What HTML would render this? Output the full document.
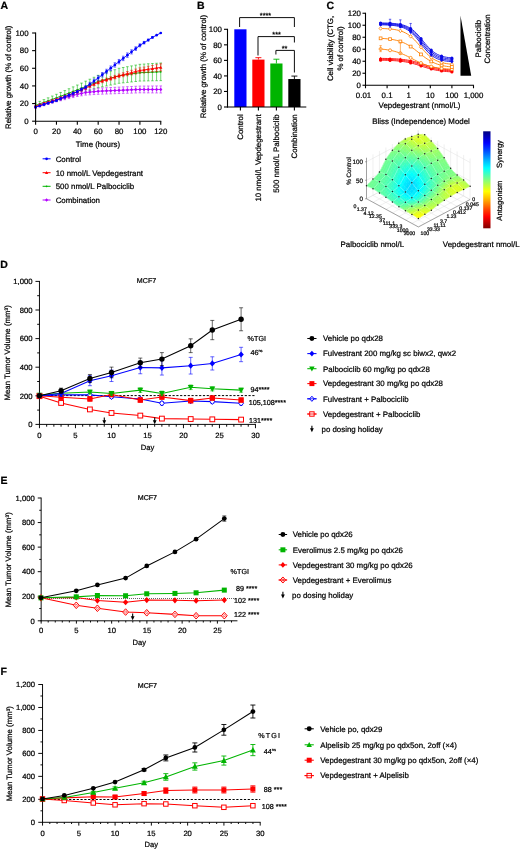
<!DOCTYPE html>
<html lang="en">
<head>
<meta charset="utf-8">
<title>Figure</title>
<style>
html,body{margin:0;padding:0;background:#fff;}
body{width:520px;height:849px;overflow:hidden;}
svg{display:block;font-family:"Liberation Sans", sans-serif;text-rendering:geometricPrecision;}
text{stroke:#000;stroke-width:0.22px;}
</style>
</head>
<body>
<svg width="520" height="849" viewBox="0 0 520 849">
<rect width="520" height="849" fill="#fff"/>
<text x="0.5" y="9.36" font-size="10.5" font-weight="bold">A</text>
<text x="197" y="9.36" font-size="10.5" font-weight="bold">B</text>
<text x="326.5" y="9.36" font-size="10.5" font-weight="bold">C</text>
<text x="0.3" y="268.06" font-size="10.5" font-weight="bold">D</text>
<text x="0.5" y="484.36" font-size="10.5" font-weight="bold">E</text>
<text x="0.5" y="674.76" font-size="10.5" font-weight="bold">F</text>
<line x1="35.6" y1="103.12" x2="35.6" y2="107.53" stroke="#00b400" stroke-width="0.55"/>
<line x1="34.3" y1="103.12" x2="36.9" y2="103.12" stroke="#00b400" stroke-width="0.55"/>
<line x1="34.3" y1="107.53" x2="36.9" y2="107.53" stroke="#00b400" stroke-width="0.55"/>
<line x1="39.77" y1="101.36" x2="39.77" y2="106.29" stroke="#00b400" stroke-width="0.55"/>
<line x1="38.47" y1="101.36" x2="41.07" y2="101.36" stroke="#00b400" stroke-width="0.55"/>
<line x1="38.47" y1="106.29" x2="41.07" y2="106.29" stroke="#00b400" stroke-width="0.55"/>
<line x1="43.94" y1="99.59" x2="43.94" y2="105.06" stroke="#00b400" stroke-width="0.55"/>
<line x1="42.64" y1="99.59" x2="45.24" y2="99.59" stroke="#00b400" stroke-width="0.55"/>
<line x1="42.64" y1="105.06" x2="45.24" y2="105.06" stroke="#00b400" stroke-width="0.55"/>
<line x1="48.12" y1="97.83" x2="48.12" y2="103.82" stroke="#00b400" stroke-width="0.55"/>
<line x1="46.82" y1="97.83" x2="49.42" y2="97.83" stroke="#00b400" stroke-width="0.55"/>
<line x1="46.82" y1="103.82" x2="49.42" y2="103.82" stroke="#00b400" stroke-width="0.55"/>
<line x1="52.29" y1="96.06" x2="52.29" y2="102.59" stroke="#00b400" stroke-width="0.55"/>
<line x1="50.99" y1="96.06" x2="53.59" y2="96.06" stroke="#00b400" stroke-width="0.55"/>
<line x1="50.99" y1="102.59" x2="53.59" y2="102.59" stroke="#00b400" stroke-width="0.55"/>
<line x1="56.46" y1="94.3" x2="56.46" y2="101.36" stroke="#00b400" stroke-width="0.55"/>
<line x1="55.16" y1="94.3" x2="57.76" y2="94.3" stroke="#00b400" stroke-width="0.55"/>
<line x1="55.16" y1="101.36" x2="57.76" y2="101.36" stroke="#00b400" stroke-width="0.55"/>
<line x1="60.63" y1="92.45" x2="60.63" y2="100.03" stroke="#00b400" stroke-width="0.55"/>
<line x1="59.33" y1="92.45" x2="61.93" y2="92.45" stroke="#00b400" stroke-width="0.55"/>
<line x1="59.33" y1="100.03" x2="61.93" y2="100.03" stroke="#00b400" stroke-width="0.55"/>
<line x1="64.8" y1="90.59" x2="64.8" y2="98.71" stroke="#00b400" stroke-width="0.55"/>
<line x1="63.5" y1="90.59" x2="66.1" y2="90.59" stroke="#00b400" stroke-width="0.55"/>
<line x1="63.5" y1="98.71" x2="66.1" y2="98.71" stroke="#00b400" stroke-width="0.55"/>
<line x1="68.98" y1="88.74" x2="68.98" y2="97.39" stroke="#00b400" stroke-width="0.55"/>
<line x1="67.68" y1="88.74" x2="70.28" y2="88.74" stroke="#00b400" stroke-width="0.55"/>
<line x1="67.68" y1="97.39" x2="70.28" y2="97.39" stroke="#00b400" stroke-width="0.55"/>
<line x1="73.15" y1="86.89" x2="73.15" y2="96.06" stroke="#00b400" stroke-width="0.55"/>
<line x1="71.85" y1="86.89" x2="74.45" y2="86.89" stroke="#00b400" stroke-width="0.55"/>
<line x1="71.85" y1="96.06" x2="74.45" y2="96.06" stroke="#00b400" stroke-width="0.55"/>
<line x1="77.32" y1="85.04" x2="77.32" y2="94.74" stroke="#00b400" stroke-width="0.55"/>
<line x1="76.02" y1="85.04" x2="78.62" y2="85.04" stroke="#00b400" stroke-width="0.55"/>
<line x1="76.02" y1="94.74" x2="78.62" y2="94.74" stroke="#00b400" stroke-width="0.55"/>
<line x1="81.49" y1="83.1" x2="81.49" y2="93.33" stroke="#00b400" stroke-width="0.55"/>
<line x1="80.19" y1="83.1" x2="82.79" y2="83.1" stroke="#00b400" stroke-width="0.55"/>
<line x1="80.19" y1="93.33" x2="82.79" y2="93.33" stroke="#00b400" stroke-width="0.55"/>
<line x1="85.66" y1="81.16" x2="85.66" y2="91.92" stroke="#00b400" stroke-width="0.55"/>
<line x1="84.36" y1="81.16" x2="86.96" y2="81.16" stroke="#00b400" stroke-width="0.55"/>
<line x1="84.36" y1="91.92" x2="86.96" y2="91.92" stroke="#00b400" stroke-width="0.55"/>
<line x1="89.84" y1="79.22" x2="89.84" y2="90.51" stroke="#00b400" stroke-width="0.55"/>
<line x1="88.54" y1="79.22" x2="91.14" y2="79.22" stroke="#00b400" stroke-width="0.55"/>
<line x1="88.54" y1="90.51" x2="91.14" y2="90.51" stroke="#00b400" stroke-width="0.55"/>
<line x1="94.01" y1="77.28" x2="94.01" y2="89.1" stroke="#00b400" stroke-width="0.55"/>
<line x1="92.71" y1="77.28" x2="95.31" y2="77.28" stroke="#00b400" stroke-width="0.55"/>
<line x1="92.71" y1="89.1" x2="95.31" y2="89.1" stroke="#00b400" stroke-width="0.55"/>
<line x1="98.18" y1="75.34" x2="98.18" y2="87.68" stroke="#00b400" stroke-width="0.55"/>
<line x1="96.88" y1="75.34" x2="99.48" y2="75.34" stroke="#00b400" stroke-width="0.55"/>
<line x1="96.88" y1="87.68" x2="99.48" y2="87.68" stroke="#00b400" stroke-width="0.55"/>
<line x1="102.35" y1="73.92" x2="102.35" y2="86.8" stroke="#00b400" stroke-width="0.55"/>
<line x1="101.05" y1="73.92" x2="103.65" y2="73.92" stroke="#00b400" stroke-width="0.55"/>
<line x1="101.05" y1="86.8" x2="103.65" y2="86.8" stroke="#00b400" stroke-width="0.55"/>
<line x1="106.52" y1="72.51" x2="106.52" y2="85.92" stroke="#00b400" stroke-width="0.55"/>
<line x1="105.22" y1="72.51" x2="107.82" y2="72.51" stroke="#00b400" stroke-width="0.55"/>
<line x1="105.22" y1="85.92" x2="107.82" y2="85.92" stroke="#00b400" stroke-width="0.55"/>
<line x1="110.7" y1="71.1" x2="110.7" y2="85.04" stroke="#00b400" stroke-width="0.55"/>
<line x1="109.4" y1="71.1" x2="112" y2="71.1" stroke="#00b400" stroke-width="0.55"/>
<line x1="109.4" y1="85.04" x2="112" y2="85.04" stroke="#00b400" stroke-width="0.55"/>
<line x1="114.87" y1="69.69" x2="114.87" y2="84.16" stroke="#00b400" stroke-width="0.55"/>
<line x1="113.57" y1="69.69" x2="116.17" y2="69.69" stroke="#00b400" stroke-width="0.55"/>
<line x1="113.57" y1="84.16" x2="116.17" y2="84.16" stroke="#00b400" stroke-width="0.55"/>
<line x1="119.04" y1="68.28" x2="119.04" y2="83.27" stroke="#00b400" stroke-width="0.55"/>
<line x1="117.74" y1="68.28" x2="120.34" y2="68.28" stroke="#00b400" stroke-width="0.55"/>
<line x1="117.74" y1="83.27" x2="120.34" y2="83.27" stroke="#00b400" stroke-width="0.55"/>
<line x1="123.21" y1="67.49" x2="123.21" y2="82.83" stroke="#00b400" stroke-width="0.55"/>
<line x1="121.91" y1="67.49" x2="124.51" y2="67.49" stroke="#00b400" stroke-width="0.55"/>
<line x1="121.91" y1="82.83" x2="124.51" y2="82.83" stroke="#00b400" stroke-width="0.55"/>
<line x1="127.38" y1="66.69" x2="127.38" y2="82.39" stroke="#00b400" stroke-width="0.55"/>
<line x1="126.08" y1="66.69" x2="128.68" y2="66.69" stroke="#00b400" stroke-width="0.55"/>
<line x1="126.08" y1="82.39" x2="128.68" y2="82.39" stroke="#00b400" stroke-width="0.55"/>
<line x1="131.56" y1="65.9" x2="131.56" y2="81.95" stroke="#00b400" stroke-width="0.55"/>
<line x1="130.26" y1="65.9" x2="132.86" y2="65.9" stroke="#00b400" stroke-width="0.55"/>
<line x1="130.26" y1="81.95" x2="132.86" y2="81.95" stroke="#00b400" stroke-width="0.55"/>
<line x1="135.73" y1="65.1" x2="135.73" y2="81.51" stroke="#00b400" stroke-width="0.55"/>
<line x1="134.43" y1="65.1" x2="137.03" y2="65.1" stroke="#00b400" stroke-width="0.55"/>
<line x1="134.43" y1="81.51" x2="137.03" y2="81.51" stroke="#00b400" stroke-width="0.55"/>
<line x1="139.9" y1="64.31" x2="139.9" y2="81.07" stroke="#00b400" stroke-width="0.55"/>
<line x1="138.6" y1="64.31" x2="141.2" y2="64.31" stroke="#00b400" stroke-width="0.55"/>
<line x1="138.6" y1="81.07" x2="141.2" y2="81.07" stroke="#00b400" stroke-width="0.55"/>
<line x1="144.07" y1="64.05" x2="144.07" y2="80.98" stroke="#00b400" stroke-width="0.55"/>
<line x1="142.77" y1="64.05" x2="145.37" y2="64.05" stroke="#00b400" stroke-width="0.55"/>
<line x1="142.77" y1="80.98" x2="145.37" y2="80.98" stroke="#00b400" stroke-width="0.55"/>
<line x1="148.24" y1="63.78" x2="148.24" y2="80.89" stroke="#00b400" stroke-width="0.55"/>
<line x1="146.94" y1="63.78" x2="149.54" y2="63.78" stroke="#00b400" stroke-width="0.55"/>
<line x1="146.94" y1="80.89" x2="149.54" y2="80.89" stroke="#00b400" stroke-width="0.55"/>
<line x1="152.42" y1="63.52" x2="152.42" y2="80.8" stroke="#00b400" stroke-width="0.55"/>
<line x1="151.12" y1="63.52" x2="153.72" y2="63.52" stroke="#00b400" stroke-width="0.55"/>
<line x1="151.12" y1="80.8" x2="153.72" y2="80.8" stroke="#00b400" stroke-width="0.55"/>
<line x1="156.59" y1="63.25" x2="156.59" y2="80.72" stroke="#00b400" stroke-width="0.55"/>
<line x1="155.29" y1="63.25" x2="157.89" y2="63.25" stroke="#00b400" stroke-width="0.55"/>
<line x1="155.29" y1="80.72" x2="157.89" y2="80.72" stroke="#00b400" stroke-width="0.55"/>
<line x1="160.76" y1="62.99" x2="160.76" y2="80.63" stroke="#00b400" stroke-width="0.55"/>
<line x1="159.46" y1="62.99" x2="162.06" y2="62.99" stroke="#00b400" stroke-width="0.55"/>
<line x1="159.46" y1="80.63" x2="162.06" y2="80.63" stroke="#00b400" stroke-width="0.55"/>
<polyline points="35.6,105.32 39.77,103.82 43.94,102.33 48.12,100.83 52.29,99.33 56.46,97.83 60.63,96.24 64.8,94.65 68.98,93.06 73.15,91.48 77.32,89.89 81.49,88.21 85.66,86.54 89.84,84.86 94.01,83.19 98.18,81.51 102.35,80.36 106.52,79.22 110.7,78.07 114.87,76.92 119.04,75.78 123.21,75.16 127.38,74.54 131.56,73.92 135.73,73.31 139.9,72.69 144.07,72.51 148.24,72.34 152.42,72.16 156.59,71.98 160.76,71.81" fill="none" stroke="#00b400" stroke-width="0.9"/>
<circle cx="35.6" cy="105.32" r="0.9" fill="#00b400" stroke="none" stroke-width="0"/>
<circle cx="39.77" cy="103.82" r="0.9" fill="#00b400" stroke="none" stroke-width="0"/>
<circle cx="43.94" cy="102.33" r="0.9" fill="#00b400" stroke="none" stroke-width="0"/>
<circle cx="48.12" cy="100.83" r="0.9" fill="#00b400" stroke="none" stroke-width="0"/>
<circle cx="52.29" cy="99.33" r="0.9" fill="#00b400" stroke="none" stroke-width="0"/>
<circle cx="56.46" cy="97.83" r="0.9" fill="#00b400" stroke="none" stroke-width="0"/>
<circle cx="60.63" cy="96.24" r="0.9" fill="#00b400" stroke="none" stroke-width="0"/>
<circle cx="64.8" cy="94.65" r="0.9" fill="#00b400" stroke="none" stroke-width="0"/>
<circle cx="68.98" cy="93.06" r="0.9" fill="#00b400" stroke="none" stroke-width="0"/>
<circle cx="73.15" cy="91.48" r="0.9" fill="#00b400" stroke="none" stroke-width="0"/>
<circle cx="77.32" cy="89.89" r="0.9" fill="#00b400" stroke="none" stroke-width="0"/>
<circle cx="81.49" cy="88.21" r="0.9" fill="#00b400" stroke="none" stroke-width="0"/>
<circle cx="85.66" cy="86.54" r="0.9" fill="#00b400" stroke="none" stroke-width="0"/>
<circle cx="89.84" cy="84.86" r="0.9" fill="#00b400" stroke="none" stroke-width="0"/>
<circle cx="94.01" cy="83.19" r="0.9" fill="#00b400" stroke="none" stroke-width="0"/>
<circle cx="98.18" cy="81.51" r="0.9" fill="#00b400" stroke="none" stroke-width="0"/>
<circle cx="102.35" cy="80.36" r="0.9" fill="#00b400" stroke="none" stroke-width="0"/>
<circle cx="106.52" cy="79.22" r="0.9" fill="#00b400" stroke="none" stroke-width="0"/>
<circle cx="110.7" cy="78.07" r="0.9" fill="#00b400" stroke="none" stroke-width="0"/>
<circle cx="114.87" cy="76.92" r="0.9" fill="#00b400" stroke="none" stroke-width="0"/>
<circle cx="119.04" cy="75.78" r="0.9" fill="#00b400" stroke="none" stroke-width="0"/>
<circle cx="123.21" cy="75.16" r="0.9" fill="#00b400" stroke="none" stroke-width="0"/>
<circle cx="127.38" cy="74.54" r="0.9" fill="#00b400" stroke="none" stroke-width="0"/>
<circle cx="131.56" cy="73.92" r="0.9" fill="#00b400" stroke="none" stroke-width="0"/>
<circle cx="135.73" cy="73.31" r="0.9" fill="#00b400" stroke="none" stroke-width="0"/>
<circle cx="139.9" cy="72.69" r="0.9" fill="#00b400" stroke="none" stroke-width="0"/>
<circle cx="144.07" cy="72.51" r="0.9" fill="#00b400" stroke="none" stroke-width="0"/>
<circle cx="148.24" cy="72.34" r="0.9" fill="#00b400" stroke="none" stroke-width="0"/>
<circle cx="152.42" cy="72.16" r="0.9" fill="#00b400" stroke="none" stroke-width="0"/>
<circle cx="156.59" cy="71.98" r="0.9" fill="#00b400" stroke="none" stroke-width="0"/>
<circle cx="160.76" cy="71.81" r="0.9" fill="#00b400" stroke="none" stroke-width="0"/>
<line x1="35.6" y1="105.77" x2="35.6" y2="108.41" stroke="#b400ff" stroke-width="0.55"/>
<line x1="34.3" y1="105.77" x2="36.9" y2="105.77" stroke="#b400ff" stroke-width="0.55"/>
<line x1="34.3" y1="108.41" x2="36.9" y2="108.41" stroke="#b400ff" stroke-width="0.55"/>
<line x1="39.77" y1="104.27" x2="39.77" y2="107.09" stroke="#b400ff" stroke-width="0.55"/>
<line x1="38.47" y1="104.27" x2="41.07" y2="104.27" stroke="#b400ff" stroke-width="0.55"/>
<line x1="38.47" y1="107.09" x2="41.07" y2="107.09" stroke="#b400ff" stroke-width="0.55"/>
<line x1="43.94" y1="102.77" x2="43.94" y2="105.77" stroke="#b400ff" stroke-width="0.55"/>
<line x1="42.64" y1="102.77" x2="45.24" y2="102.77" stroke="#b400ff" stroke-width="0.55"/>
<line x1="42.64" y1="105.77" x2="45.24" y2="105.77" stroke="#b400ff" stroke-width="0.55"/>
<line x1="48.12" y1="101.27" x2="48.12" y2="104.44" stroke="#b400ff" stroke-width="0.55"/>
<line x1="46.82" y1="101.27" x2="49.42" y2="101.27" stroke="#b400ff" stroke-width="0.55"/>
<line x1="46.82" y1="104.44" x2="49.42" y2="104.44" stroke="#b400ff" stroke-width="0.55"/>
<line x1="52.29" y1="99.77" x2="52.29" y2="103.12" stroke="#b400ff" stroke-width="0.55"/>
<line x1="50.99" y1="99.77" x2="53.59" y2="99.77" stroke="#b400ff" stroke-width="0.55"/>
<line x1="50.99" y1="103.12" x2="53.59" y2="103.12" stroke="#b400ff" stroke-width="0.55"/>
<line x1="56.46" y1="98.27" x2="56.46" y2="101.8" stroke="#b400ff" stroke-width="0.55"/>
<line x1="55.16" y1="98.27" x2="57.76" y2="98.27" stroke="#b400ff" stroke-width="0.55"/>
<line x1="55.16" y1="101.8" x2="57.76" y2="101.8" stroke="#b400ff" stroke-width="0.55"/>
<line x1="60.63" y1="97.03" x2="60.63" y2="100.74" stroke="#b400ff" stroke-width="0.55"/>
<line x1="59.33" y1="97.03" x2="61.93" y2="97.03" stroke="#b400ff" stroke-width="0.55"/>
<line x1="59.33" y1="100.74" x2="61.93" y2="100.74" stroke="#b400ff" stroke-width="0.55"/>
<line x1="64.8" y1="95.8" x2="64.8" y2="99.68" stroke="#b400ff" stroke-width="0.55"/>
<line x1="63.5" y1="95.8" x2="66.1" y2="95.8" stroke="#b400ff" stroke-width="0.55"/>
<line x1="63.5" y1="99.68" x2="66.1" y2="99.68" stroke="#b400ff" stroke-width="0.55"/>
<line x1="68.98" y1="94.56" x2="68.98" y2="98.62" stroke="#b400ff" stroke-width="0.55"/>
<line x1="67.68" y1="94.56" x2="70.28" y2="94.56" stroke="#b400ff" stroke-width="0.55"/>
<line x1="67.68" y1="98.62" x2="70.28" y2="98.62" stroke="#b400ff" stroke-width="0.55"/>
<line x1="73.15" y1="93.33" x2="73.15" y2="97.56" stroke="#b400ff" stroke-width="0.55"/>
<line x1="71.85" y1="93.33" x2="74.45" y2="93.33" stroke="#b400ff" stroke-width="0.55"/>
<line x1="71.85" y1="97.56" x2="74.45" y2="97.56" stroke="#b400ff" stroke-width="0.55"/>
<line x1="77.32" y1="92.09" x2="77.32" y2="96.5" stroke="#b400ff" stroke-width="0.55"/>
<line x1="76.02" y1="92.09" x2="78.62" y2="92.09" stroke="#b400ff" stroke-width="0.55"/>
<line x1="76.02" y1="96.5" x2="78.62" y2="96.5" stroke="#b400ff" stroke-width="0.55"/>
<line x1="81.49" y1="91.04" x2="81.49" y2="95.8" stroke="#b400ff" stroke-width="0.55"/>
<line x1="80.19" y1="91.04" x2="82.79" y2="91.04" stroke="#b400ff" stroke-width="0.55"/>
<line x1="80.19" y1="95.8" x2="82.79" y2="95.8" stroke="#b400ff" stroke-width="0.55"/>
<line x1="85.66" y1="89.98" x2="85.66" y2="95.09" stroke="#b400ff" stroke-width="0.55"/>
<line x1="84.36" y1="89.98" x2="86.96" y2="89.98" stroke="#b400ff" stroke-width="0.55"/>
<line x1="84.36" y1="95.09" x2="86.96" y2="95.09" stroke="#b400ff" stroke-width="0.55"/>
<line x1="89.84" y1="89.36" x2="89.84" y2="94.83" stroke="#b400ff" stroke-width="0.55"/>
<line x1="88.54" y1="89.36" x2="91.14" y2="89.36" stroke="#b400ff" stroke-width="0.55"/>
<line x1="88.54" y1="94.83" x2="91.14" y2="94.83" stroke="#b400ff" stroke-width="0.55"/>
<line x1="94.01" y1="88.74" x2="94.01" y2="94.56" stroke="#b400ff" stroke-width="0.55"/>
<line x1="92.71" y1="88.74" x2="95.31" y2="88.74" stroke="#b400ff" stroke-width="0.55"/>
<line x1="92.71" y1="94.56" x2="95.31" y2="94.56" stroke="#b400ff" stroke-width="0.55"/>
<line x1="98.18" y1="88.12" x2="98.18" y2="94.3" stroke="#b400ff" stroke-width="0.55"/>
<line x1="96.88" y1="88.12" x2="99.48" y2="88.12" stroke="#b400ff" stroke-width="0.55"/>
<line x1="96.88" y1="94.3" x2="99.48" y2="94.3" stroke="#b400ff" stroke-width="0.55"/>
<line x1="102.35" y1="87.92" x2="102.35" y2="94.15" stroke="#b400ff" stroke-width="0.55"/>
<line x1="101.05" y1="87.92" x2="103.65" y2="87.92" stroke="#b400ff" stroke-width="0.55"/>
<line x1="101.05" y1="94.15" x2="103.65" y2="94.15" stroke="#b400ff" stroke-width="0.55"/>
<line x1="106.52" y1="87.71" x2="106.52" y2="94" stroke="#b400ff" stroke-width="0.55"/>
<line x1="105.22" y1="87.71" x2="107.82" y2="87.71" stroke="#b400ff" stroke-width="0.55"/>
<line x1="105.22" y1="94" x2="107.82" y2="94" stroke="#b400ff" stroke-width="0.55"/>
<line x1="110.7" y1="87.51" x2="110.7" y2="93.86" stroke="#b400ff" stroke-width="0.55"/>
<line x1="109.4" y1="87.51" x2="112" y2="87.51" stroke="#b400ff" stroke-width="0.55"/>
<line x1="109.4" y1="93.86" x2="112" y2="93.86" stroke="#b400ff" stroke-width="0.55"/>
<line x1="114.87" y1="87.3" x2="114.87" y2="93.71" stroke="#b400ff" stroke-width="0.55"/>
<line x1="113.57" y1="87.3" x2="116.17" y2="87.3" stroke="#b400ff" stroke-width="0.55"/>
<line x1="113.57" y1="93.71" x2="116.17" y2="93.71" stroke="#b400ff" stroke-width="0.55"/>
<line x1="119.04" y1="87.1" x2="119.04" y2="93.56" stroke="#b400ff" stroke-width="0.55"/>
<line x1="117.74" y1="87.1" x2="120.34" y2="87.1" stroke="#b400ff" stroke-width="0.55"/>
<line x1="117.74" y1="93.56" x2="120.34" y2="93.56" stroke="#b400ff" stroke-width="0.55"/>
<line x1="123.21" y1="86.89" x2="123.21" y2="93.42" stroke="#b400ff" stroke-width="0.55"/>
<line x1="121.91" y1="86.89" x2="124.51" y2="86.89" stroke="#b400ff" stroke-width="0.55"/>
<line x1="121.91" y1="93.42" x2="124.51" y2="93.42" stroke="#b400ff" stroke-width="0.55"/>
<line x1="127.38" y1="86.68" x2="127.38" y2="93.27" stroke="#b400ff" stroke-width="0.55"/>
<line x1="126.08" y1="86.68" x2="128.68" y2="86.68" stroke="#b400ff" stroke-width="0.55"/>
<line x1="126.08" y1="93.27" x2="128.68" y2="93.27" stroke="#b400ff" stroke-width="0.55"/>
<line x1="131.56" y1="86.48" x2="131.56" y2="93.12" stroke="#b400ff" stroke-width="0.55"/>
<line x1="130.26" y1="86.48" x2="132.86" y2="86.48" stroke="#b400ff" stroke-width="0.55"/>
<line x1="130.26" y1="93.12" x2="132.86" y2="93.12" stroke="#b400ff" stroke-width="0.55"/>
<line x1="135.73" y1="86.27" x2="135.73" y2="92.98" stroke="#b400ff" stroke-width="0.55"/>
<line x1="134.43" y1="86.27" x2="137.03" y2="86.27" stroke="#b400ff" stroke-width="0.55"/>
<line x1="134.43" y1="92.98" x2="137.03" y2="92.98" stroke="#b400ff" stroke-width="0.55"/>
<line x1="139.9" y1="86.07" x2="139.9" y2="92.83" stroke="#b400ff" stroke-width="0.55"/>
<line x1="138.6" y1="86.07" x2="141.2" y2="86.07" stroke="#b400ff" stroke-width="0.55"/>
<line x1="138.6" y1="92.83" x2="141.2" y2="92.83" stroke="#b400ff" stroke-width="0.55"/>
<line x1="144.07" y1="86.04" x2="144.07" y2="92.86" stroke="#b400ff" stroke-width="0.55"/>
<line x1="142.77" y1="86.04" x2="145.37" y2="86.04" stroke="#b400ff" stroke-width="0.55"/>
<line x1="142.77" y1="92.86" x2="145.37" y2="92.86" stroke="#b400ff" stroke-width="0.55"/>
<line x1="148.24" y1="86.01" x2="148.24" y2="92.89" stroke="#b400ff" stroke-width="0.55"/>
<line x1="146.94" y1="86.01" x2="149.54" y2="86.01" stroke="#b400ff" stroke-width="0.55"/>
<line x1="146.94" y1="92.89" x2="149.54" y2="92.89" stroke="#b400ff" stroke-width="0.55"/>
<line x1="152.42" y1="85.98" x2="152.42" y2="92.92" stroke="#b400ff" stroke-width="0.55"/>
<line x1="151.12" y1="85.98" x2="153.72" y2="85.98" stroke="#b400ff" stroke-width="0.55"/>
<line x1="151.12" y1="92.92" x2="153.72" y2="92.92" stroke="#b400ff" stroke-width="0.55"/>
<line x1="156.59" y1="85.95" x2="156.59" y2="92.95" stroke="#b400ff" stroke-width="0.55"/>
<line x1="155.29" y1="85.95" x2="157.89" y2="85.95" stroke="#b400ff" stroke-width="0.55"/>
<line x1="155.29" y1="92.95" x2="157.89" y2="92.95" stroke="#b400ff" stroke-width="0.55"/>
<line x1="160.76" y1="85.92" x2="160.76" y2="92.98" stroke="#b400ff" stroke-width="0.55"/>
<line x1="159.46" y1="85.92" x2="162.06" y2="85.92" stroke="#b400ff" stroke-width="0.55"/>
<line x1="159.46" y1="92.98" x2="162.06" y2="92.98" stroke="#b400ff" stroke-width="0.55"/>
<polyline points="35.6,107.09 39.77,105.68 43.94,104.27 48.12,102.85 52.29,101.44 56.46,100.03 60.63,98.89 64.8,97.74 68.98,96.59 73.15,95.45 77.32,94.3 81.49,93.42 85.66,92.53 89.84,92.09 94.01,91.65 98.18,91.21 102.35,91.04 106.52,90.86 110.7,90.68 114.87,90.51 119.04,90.33 123.21,90.15 127.38,89.98 131.56,89.8 135.73,89.62 139.9,89.45 144.07,89.45 148.24,89.45 152.42,89.45 156.59,89.45 160.76,89.45" fill="none" stroke="#b400ff" stroke-width="0.9"/>
<polygon points="35.6,105.29 37.2,107.09 35.6,108.89 34,107.09" fill="#b400ff" stroke="none" stroke-width="0"/>
<polygon points="39.77,103.88 41.37,105.68 39.77,107.48 38.17,105.68" fill="#b400ff" stroke="none" stroke-width="0"/>
<polygon points="43.94,102.47 45.54,104.27 43.94,106.07 42.34,104.27" fill="#b400ff" stroke="none" stroke-width="0"/>
<polygon points="48.12,101.05 49.72,102.85 48.12,104.65 46.52,102.85" fill="#b400ff" stroke="none" stroke-width="0"/>
<polygon points="52.29,99.64 53.89,101.44 52.29,103.24 50.69,101.44" fill="#b400ff" stroke="none" stroke-width="0"/>
<polygon points="56.46,98.23 58.06,100.03 56.46,101.83 54.86,100.03" fill="#b400ff" stroke="none" stroke-width="0"/>
<polygon points="60.63,97.09 62.23,98.89 60.63,100.69 59.03,98.89" fill="#b400ff" stroke="none" stroke-width="0"/>
<polygon points="64.8,95.94 66.4,97.74 64.8,99.54 63.2,97.74" fill="#b400ff" stroke="none" stroke-width="0"/>
<polygon points="68.98,94.79 70.58,96.59 68.98,98.39 67.38,96.59" fill="#b400ff" stroke="none" stroke-width="0"/>
<polygon points="73.15,93.65 74.75,95.45 73.15,97.25 71.55,95.45" fill="#b400ff" stroke="none" stroke-width="0"/>
<polygon points="77.32,92.5 78.92,94.3 77.32,96.1 75.72,94.3" fill="#b400ff" stroke="none" stroke-width="0"/>
<polygon points="81.49,91.62 83.09,93.42 81.49,95.22 79.89,93.42" fill="#b400ff" stroke="none" stroke-width="0"/>
<polygon points="85.66,90.73 87.26,92.53 85.66,94.33 84.06,92.53" fill="#b400ff" stroke="none" stroke-width="0"/>
<polygon points="89.84,90.29 91.44,92.09 89.84,93.89 88.24,92.09" fill="#b400ff" stroke="none" stroke-width="0"/>
<polygon points="94.01,89.85 95.61,91.65 94.01,93.45 92.41,91.65" fill="#b400ff" stroke="none" stroke-width="0"/>
<polygon points="98.18,89.41 99.78,91.21 98.18,93.01 96.58,91.21" fill="#b400ff" stroke="none" stroke-width="0"/>
<polygon points="102.35,89.24 103.95,91.04 102.35,92.84 100.75,91.04" fill="#b400ff" stroke="none" stroke-width="0"/>
<polygon points="106.52,89.06 108.12,90.86 106.52,92.66 104.92,90.86" fill="#b400ff" stroke="none" stroke-width="0"/>
<polygon points="110.7,88.88 112.3,90.68 110.7,92.48 109.1,90.68" fill="#b400ff" stroke="none" stroke-width="0"/>
<polygon points="114.87,88.71 116.47,90.51 114.87,92.31 113.27,90.51" fill="#b400ff" stroke="none" stroke-width="0"/>
<polygon points="119.04,88.53 120.64,90.33 119.04,92.13 117.44,90.33" fill="#b400ff" stroke="none" stroke-width="0"/>
<polygon points="123.21,88.35 124.81,90.15 123.21,91.95 121.61,90.15" fill="#b400ff" stroke="none" stroke-width="0"/>
<polygon points="127.38,88.18 128.98,89.98 127.38,91.78 125.78,89.98" fill="#b400ff" stroke="none" stroke-width="0"/>
<polygon points="131.56,88 133.16,89.8 131.56,91.6 129.96,89.8" fill="#b400ff" stroke="none" stroke-width="0"/>
<polygon points="135.73,87.82 137.33,89.62 135.73,91.42 134.13,89.62" fill="#b400ff" stroke="none" stroke-width="0"/>
<polygon points="139.9,87.65 141.5,89.45 139.9,91.25 138.3,89.45" fill="#b400ff" stroke="none" stroke-width="0"/>
<polygon points="144.07,87.65 145.67,89.45 144.07,91.25 142.47,89.45" fill="#b400ff" stroke="none" stroke-width="0"/>
<polygon points="148.24,87.65 149.84,89.45 148.24,91.25 146.64,89.45" fill="#b400ff" stroke="none" stroke-width="0"/>
<polygon points="152.42,87.65 154.02,89.45 152.42,91.25 150.82,89.45" fill="#b400ff" stroke="none" stroke-width="0"/>
<polygon points="156.59,87.65 158.19,89.45 156.59,91.25 154.99,89.45" fill="#b400ff" stroke="none" stroke-width="0"/>
<polygon points="160.76,87.65 162.36,89.45 160.76,91.25 159.16,89.45" fill="#b400ff" stroke="none" stroke-width="0"/>
<line x1="35.6" y1="105.32" x2="35.6" y2="107.09" stroke="#ff0000" stroke-width="0.55"/>
<line x1="34.3" y1="105.32" x2="36.9" y2="105.32" stroke="#ff0000" stroke-width="0.55"/>
<line x1="34.3" y1="107.09" x2="36.9" y2="107.09" stroke="#ff0000" stroke-width="0.55"/>
<line x1="39.77" y1="103.96" x2="39.77" y2="105.81" stroke="#ff0000" stroke-width="0.55"/>
<line x1="38.47" y1="103.96" x2="41.07" y2="103.96" stroke="#ff0000" stroke-width="0.55"/>
<line x1="38.47" y1="105.81" x2="41.07" y2="105.81" stroke="#ff0000" stroke-width="0.55"/>
<line x1="43.94" y1="102.59" x2="43.94" y2="104.53" stroke="#ff0000" stroke-width="0.55"/>
<line x1="42.64" y1="102.59" x2="45.24" y2="102.59" stroke="#ff0000" stroke-width="0.55"/>
<line x1="42.64" y1="104.53" x2="45.24" y2="104.53" stroke="#ff0000" stroke-width="0.55"/>
<line x1="48.12" y1="101.22" x2="48.12" y2="103.25" stroke="#ff0000" stroke-width="0.55"/>
<line x1="46.82" y1="101.22" x2="49.42" y2="101.22" stroke="#ff0000" stroke-width="0.55"/>
<line x1="46.82" y1="103.25" x2="49.42" y2="103.25" stroke="#ff0000" stroke-width="0.55"/>
<line x1="52.29" y1="99.86" x2="52.29" y2="101.97" stroke="#ff0000" stroke-width="0.55"/>
<line x1="50.99" y1="99.86" x2="53.59" y2="99.86" stroke="#ff0000" stroke-width="0.55"/>
<line x1="50.99" y1="101.97" x2="53.59" y2="101.97" stroke="#ff0000" stroke-width="0.55"/>
<line x1="56.46" y1="98.49" x2="56.46" y2="100.69" stroke="#ff0000" stroke-width="0.55"/>
<line x1="55.16" y1="98.49" x2="57.76" y2="98.49" stroke="#ff0000" stroke-width="0.55"/>
<line x1="55.16" y1="100.69" x2="57.76" y2="100.69" stroke="#ff0000" stroke-width="0.55"/>
<line x1="60.63" y1="96.86" x2="60.63" y2="99.15" stroke="#ff0000" stroke-width="0.55"/>
<line x1="59.33" y1="96.86" x2="61.93" y2="96.86" stroke="#ff0000" stroke-width="0.55"/>
<line x1="59.33" y1="99.15" x2="61.93" y2="99.15" stroke="#ff0000" stroke-width="0.55"/>
<line x1="64.8" y1="95.23" x2="64.8" y2="97.61" stroke="#ff0000" stroke-width="0.55"/>
<line x1="63.5" y1="95.23" x2="66.1" y2="95.23" stroke="#ff0000" stroke-width="0.55"/>
<line x1="63.5" y1="97.61" x2="66.1" y2="97.61" stroke="#ff0000" stroke-width="0.55"/>
<line x1="68.98" y1="93.59" x2="68.98" y2="96.06" stroke="#ff0000" stroke-width="0.55"/>
<line x1="67.68" y1="93.59" x2="70.28" y2="93.59" stroke="#ff0000" stroke-width="0.55"/>
<line x1="67.68" y1="96.06" x2="70.28" y2="96.06" stroke="#ff0000" stroke-width="0.55"/>
<line x1="73.15" y1="91.96" x2="73.15" y2="94.52" stroke="#ff0000" stroke-width="0.55"/>
<line x1="71.85" y1="91.96" x2="74.45" y2="91.96" stroke="#ff0000" stroke-width="0.55"/>
<line x1="71.85" y1="94.52" x2="74.45" y2="94.52" stroke="#ff0000" stroke-width="0.55"/>
<line x1="77.32" y1="90.33" x2="77.32" y2="92.98" stroke="#ff0000" stroke-width="0.55"/>
<line x1="76.02" y1="90.33" x2="78.62" y2="90.33" stroke="#ff0000" stroke-width="0.55"/>
<line x1="76.02" y1="92.98" x2="78.62" y2="92.98" stroke="#ff0000" stroke-width="0.55"/>
<line x1="81.49" y1="88.43" x2="81.49" y2="91.17" stroke="#ff0000" stroke-width="0.55"/>
<line x1="80.19" y1="88.43" x2="82.79" y2="88.43" stroke="#ff0000" stroke-width="0.55"/>
<line x1="80.19" y1="91.17" x2="82.79" y2="91.17" stroke="#ff0000" stroke-width="0.55"/>
<line x1="85.66" y1="86.54" x2="85.66" y2="89.36" stroke="#ff0000" stroke-width="0.55"/>
<line x1="84.36" y1="86.54" x2="86.96" y2="86.54" stroke="#ff0000" stroke-width="0.55"/>
<line x1="84.36" y1="89.36" x2="86.96" y2="89.36" stroke="#ff0000" stroke-width="0.55"/>
<line x1="89.84" y1="84.64" x2="89.84" y2="87.55" stroke="#ff0000" stroke-width="0.55"/>
<line x1="88.54" y1="84.64" x2="91.14" y2="84.64" stroke="#ff0000" stroke-width="0.55"/>
<line x1="88.54" y1="87.55" x2="91.14" y2="87.55" stroke="#ff0000" stroke-width="0.55"/>
<line x1="94.01" y1="82.74" x2="94.01" y2="85.74" stroke="#ff0000" stroke-width="0.55"/>
<line x1="92.71" y1="82.74" x2="95.31" y2="82.74" stroke="#ff0000" stroke-width="0.55"/>
<line x1="92.71" y1="85.74" x2="95.31" y2="85.74" stroke="#ff0000" stroke-width="0.55"/>
<line x1="98.18" y1="80.85" x2="98.18" y2="83.94" stroke="#ff0000" stroke-width="0.55"/>
<line x1="96.88" y1="80.85" x2="99.48" y2="80.85" stroke="#ff0000" stroke-width="0.55"/>
<line x1="96.88" y1="83.94" x2="99.48" y2="83.94" stroke="#ff0000" stroke-width="0.55"/>
<line x1="102.35" y1="79.48" x2="102.35" y2="82.66" stroke="#ff0000" stroke-width="0.55"/>
<line x1="101.05" y1="79.48" x2="103.65" y2="79.48" stroke="#ff0000" stroke-width="0.55"/>
<line x1="101.05" y1="82.66" x2="103.65" y2="82.66" stroke="#ff0000" stroke-width="0.55"/>
<line x1="106.52" y1="78.11" x2="106.52" y2="81.38" stroke="#ff0000" stroke-width="0.55"/>
<line x1="105.22" y1="78.11" x2="107.82" y2="78.11" stroke="#ff0000" stroke-width="0.55"/>
<line x1="105.22" y1="81.38" x2="107.82" y2="81.38" stroke="#ff0000" stroke-width="0.55"/>
<line x1="110.7" y1="76.75" x2="110.7" y2="80.1" stroke="#ff0000" stroke-width="0.55"/>
<line x1="109.4" y1="76.75" x2="112" y2="76.75" stroke="#ff0000" stroke-width="0.55"/>
<line x1="109.4" y1="80.1" x2="112" y2="80.1" stroke="#ff0000" stroke-width="0.55"/>
<line x1="114.87" y1="75.38" x2="114.87" y2="78.82" stroke="#ff0000" stroke-width="0.55"/>
<line x1="113.57" y1="75.38" x2="116.17" y2="75.38" stroke="#ff0000" stroke-width="0.55"/>
<line x1="113.57" y1="78.82" x2="116.17" y2="78.82" stroke="#ff0000" stroke-width="0.55"/>
<line x1="119.04" y1="74.01" x2="119.04" y2="77.54" stroke="#ff0000" stroke-width="0.55"/>
<line x1="117.74" y1="74.01" x2="120.34" y2="74.01" stroke="#ff0000" stroke-width="0.55"/>
<line x1="117.74" y1="77.54" x2="120.34" y2="77.54" stroke="#ff0000" stroke-width="0.55"/>
<line x1="123.21" y1="72.78" x2="123.21" y2="76.66" stroke="#ff0000" stroke-width="0.55"/>
<line x1="121.91" y1="72.78" x2="124.51" y2="72.78" stroke="#ff0000" stroke-width="0.55"/>
<line x1="121.91" y1="76.66" x2="124.51" y2="76.66" stroke="#ff0000" stroke-width="0.55"/>
<line x1="127.38" y1="71.54" x2="127.38" y2="75.78" stroke="#ff0000" stroke-width="0.55"/>
<line x1="126.08" y1="71.54" x2="128.68" y2="71.54" stroke="#ff0000" stroke-width="0.55"/>
<line x1="126.08" y1="75.78" x2="128.68" y2="75.78" stroke="#ff0000" stroke-width="0.55"/>
<line x1="131.56" y1="70.31" x2="131.56" y2="74.9" stroke="#ff0000" stroke-width="0.55"/>
<line x1="130.26" y1="70.31" x2="132.86" y2="70.31" stroke="#ff0000" stroke-width="0.55"/>
<line x1="130.26" y1="74.9" x2="132.86" y2="74.9" stroke="#ff0000" stroke-width="0.55"/>
<line x1="135.73" y1="69.07" x2="135.73" y2="74.01" stroke="#ff0000" stroke-width="0.55"/>
<line x1="134.43" y1="69.07" x2="137.03" y2="69.07" stroke="#ff0000" stroke-width="0.55"/>
<line x1="134.43" y1="74.01" x2="137.03" y2="74.01" stroke="#ff0000" stroke-width="0.55"/>
<line x1="139.9" y1="67.84" x2="139.9" y2="73.13" stroke="#ff0000" stroke-width="0.55"/>
<line x1="138.6" y1="67.84" x2="141.2" y2="67.84" stroke="#ff0000" stroke-width="0.55"/>
<line x1="138.6" y1="73.13" x2="141.2" y2="73.13" stroke="#ff0000" stroke-width="0.55"/>
<line x1="144.07" y1="67.05" x2="144.07" y2="72.69" stroke="#ff0000" stroke-width="0.55"/>
<line x1="142.77" y1="67.05" x2="145.37" y2="67.05" stroke="#ff0000" stroke-width="0.55"/>
<line x1="142.77" y1="72.69" x2="145.37" y2="72.69" stroke="#ff0000" stroke-width="0.55"/>
<line x1="148.24" y1="66.25" x2="148.24" y2="72.25" stroke="#ff0000" stroke-width="0.55"/>
<line x1="146.94" y1="66.25" x2="149.54" y2="66.25" stroke="#ff0000" stroke-width="0.55"/>
<line x1="146.94" y1="72.25" x2="149.54" y2="72.25" stroke="#ff0000" stroke-width="0.55"/>
<line x1="152.42" y1="65.46" x2="152.42" y2="71.81" stroke="#ff0000" stroke-width="0.55"/>
<line x1="151.12" y1="65.46" x2="153.72" y2="65.46" stroke="#ff0000" stroke-width="0.55"/>
<line x1="151.12" y1="71.81" x2="153.72" y2="71.81" stroke="#ff0000" stroke-width="0.55"/>
<line x1="156.59" y1="64.66" x2="156.59" y2="71.37" stroke="#ff0000" stroke-width="0.55"/>
<line x1="155.29" y1="64.66" x2="157.89" y2="64.66" stroke="#ff0000" stroke-width="0.55"/>
<line x1="155.29" y1="71.37" x2="157.89" y2="71.37" stroke="#ff0000" stroke-width="0.55"/>
<line x1="160.76" y1="63.87" x2="160.76" y2="70.93" stroke="#ff0000" stroke-width="0.55"/>
<line x1="159.46" y1="63.87" x2="162.06" y2="63.87" stroke="#ff0000" stroke-width="0.55"/>
<line x1="159.46" y1="70.93" x2="162.06" y2="70.93" stroke="#ff0000" stroke-width="0.55"/>
<polyline points="35.6,106.21 39.77,104.88 43.94,103.56 48.12,102.24 52.29,100.91 56.46,99.59 60.63,98 64.8,96.42 68.98,94.83 73.15,93.24 77.32,91.65 81.49,89.8 85.66,87.95 89.84,86.1 94.01,84.24 98.18,82.39 102.35,81.07 106.52,79.75 110.7,78.42 114.87,77.1 119.04,75.78 123.21,74.72 127.38,73.66 131.56,72.6 135.73,71.54 139.9,70.48 144.07,69.87 148.24,69.25 152.42,68.63 156.59,68.02 160.76,67.4" fill="none" stroke="#ff0000" stroke-width="0.9"/>
<polygon points="35.6,104.51 37.22,107.48 33.98,107.48" fill="#ff0000" stroke="none" stroke-width="0"/>
<polygon points="39.77,103.18 41.39,106.16 38.16,106.16" fill="#ff0000" stroke="none" stroke-width="0"/>
<polygon points="43.94,101.86 45.56,104.84 42.33,104.84" fill="#ff0000" stroke="none" stroke-width="0"/>
<polygon points="48.12,100.54 49.73,103.51 46.5,103.51" fill="#ff0000" stroke="none" stroke-width="0"/>
<polygon points="52.29,99.21 53.9,102.19 50.67,102.19" fill="#ff0000" stroke="none" stroke-width="0"/>
<polygon points="56.46,97.89 58.08,100.87 54.84,100.87" fill="#ff0000" stroke="none" stroke-width="0"/>
<polygon points="60.63,96.3 62.25,99.28 59.02,99.28" fill="#ff0000" stroke="none" stroke-width="0"/>
<polygon points="64.8,94.72 66.42,97.69 63.19,97.69" fill="#ff0000" stroke="none" stroke-width="0"/>
<polygon points="68.98,93.13 70.59,96.1 67.36,96.1" fill="#ff0000" stroke="none" stroke-width="0"/>
<polygon points="73.15,91.54 74.76,94.52 71.53,94.52" fill="#ff0000" stroke="none" stroke-width="0"/>
<polygon points="77.32,89.95 78.93,92.93 75.7,92.93" fill="#ff0000" stroke="none" stroke-width="0"/>
<polygon points="81.49,88.1 83.11,91.08 79.88,91.08" fill="#ff0000" stroke="none" stroke-width="0"/>
<polygon points="85.66,86.25 87.28,89.22 84.05,89.22" fill="#ff0000" stroke="none" stroke-width="0"/>
<polygon points="89.84,84.4 91.45,87.37 88.22,87.37" fill="#ff0000" stroke="none" stroke-width="0"/>
<polygon points="94.01,82.54 95.62,85.52 92.39,85.52" fill="#ff0000" stroke="none" stroke-width="0"/>
<polygon points="98.18,80.69 99.8,83.67 96.57,83.67" fill="#ff0000" stroke="none" stroke-width="0"/>
<polygon points="102.35,79.37 103.97,82.34 100.74,82.34" fill="#ff0000" stroke="none" stroke-width="0"/>
<polygon points="106.52,78.05 108.14,81.02 104.91,81.02" fill="#ff0000" stroke="none" stroke-width="0"/>
<polygon points="110.7,76.72 112.31,79.7 109.08,79.7" fill="#ff0000" stroke="none" stroke-width="0"/>
<polygon points="114.87,75.4 116.48,78.38 113.25,78.38" fill="#ff0000" stroke="none" stroke-width="0"/>
<polygon points="119.04,74.08 120.65,77.05 117.42,77.05" fill="#ff0000" stroke="none" stroke-width="0"/>
<polygon points="123.21,73.02 124.83,75.99 121.6,75.99" fill="#ff0000" stroke="none" stroke-width="0"/>
<polygon points="127.38,71.96 129,74.94 125.77,74.94" fill="#ff0000" stroke="none" stroke-width="0"/>
<polygon points="131.56,70.9 133.17,73.88 129.94,73.88" fill="#ff0000" stroke="none" stroke-width="0"/>
<polygon points="135.73,69.84 137.34,72.82 134.11,72.82" fill="#ff0000" stroke="none" stroke-width="0"/>
<polygon points="139.9,68.78 141.52,71.76 138.28,71.76" fill="#ff0000" stroke="none" stroke-width="0"/>
<polygon points="144.07,68.17 145.69,71.14 142.46,71.14" fill="#ff0000" stroke="none" stroke-width="0"/>
<polygon points="148.24,67.55 149.86,70.53 146.63,70.53" fill="#ff0000" stroke="none" stroke-width="0"/>
<polygon points="152.42,66.93 154.03,69.91 150.8,69.91" fill="#ff0000" stroke="none" stroke-width="0"/>
<polygon points="156.59,66.32 158.2,69.29 154.97,69.29" fill="#ff0000" stroke="none" stroke-width="0"/>
<polygon points="160.76,65.7 162.38,68.67 159.14,68.67" fill="#ff0000" stroke="none" stroke-width="0"/>
<line x1="35.6" y1="106.38" x2="35.6" y2="107.79" stroke="#0000ff" stroke-width="0.55"/>
<line x1="34.3" y1="106.38" x2="36.9" y2="106.38" stroke="#0000ff" stroke-width="0.55"/>
<line x1="34.3" y1="107.79" x2="36.9" y2="107.79" stroke="#0000ff" stroke-width="0.55"/>
<line x1="39.77" y1="105" x2="39.77" y2="106.53" stroke="#0000ff" stroke-width="0.55"/>
<line x1="38.47" y1="105" x2="41.07" y2="105" stroke="#0000ff" stroke-width="0.55"/>
<line x1="38.47" y1="106.53" x2="41.07" y2="106.53" stroke="#0000ff" stroke-width="0.55"/>
<line x1="43.94" y1="103.61" x2="43.94" y2="105.27" stroke="#0000ff" stroke-width="0.55"/>
<line x1="42.64" y1="103.61" x2="45.24" y2="103.61" stroke="#0000ff" stroke-width="0.55"/>
<line x1="42.64" y1="105.27" x2="45.24" y2="105.27" stroke="#0000ff" stroke-width="0.55"/>
<line x1="48.12" y1="102.23" x2="48.12" y2="104.01" stroke="#0000ff" stroke-width="0.55"/>
<line x1="46.82" y1="102.23" x2="49.42" y2="102.23" stroke="#0000ff" stroke-width="0.55"/>
<line x1="46.82" y1="104.01" x2="49.42" y2="104.01" stroke="#0000ff" stroke-width="0.55"/>
<line x1="52.29" y1="100.84" x2="52.29" y2="102.75" stroke="#0000ff" stroke-width="0.55"/>
<line x1="50.99" y1="100.84" x2="53.59" y2="100.84" stroke="#0000ff" stroke-width="0.55"/>
<line x1="50.99" y1="102.75" x2="53.59" y2="102.75" stroke="#0000ff" stroke-width="0.55"/>
<line x1="56.46" y1="99.46" x2="56.46" y2="101.49" stroke="#0000ff" stroke-width="0.55"/>
<line x1="55.16" y1="99.46" x2="57.76" y2="99.46" stroke="#0000ff" stroke-width="0.55"/>
<line x1="55.16" y1="101.49" x2="57.76" y2="101.49" stroke="#0000ff" stroke-width="0.55"/>
<line x1="60.63" y1="97.63" x2="60.63" y2="99.79" stroke="#0000ff" stroke-width="0.55"/>
<line x1="59.33" y1="97.63" x2="61.93" y2="97.63" stroke="#0000ff" stroke-width="0.55"/>
<line x1="59.33" y1="99.79" x2="61.93" y2="99.79" stroke="#0000ff" stroke-width="0.55"/>
<line x1="64.8" y1="95.81" x2="64.8" y2="98.08" stroke="#0000ff" stroke-width="0.55"/>
<line x1="63.5" y1="95.81" x2="66.1" y2="95.81" stroke="#0000ff" stroke-width="0.55"/>
<line x1="63.5" y1="98.08" x2="66.1" y2="98.08" stroke="#0000ff" stroke-width="0.55"/>
<line x1="68.98" y1="93.98" x2="68.98" y2="96.38" stroke="#0000ff" stroke-width="0.55"/>
<line x1="67.68" y1="93.98" x2="70.28" y2="93.98" stroke="#0000ff" stroke-width="0.55"/>
<line x1="67.68" y1="96.38" x2="70.28" y2="96.38" stroke="#0000ff" stroke-width="0.55"/>
<line x1="73.15" y1="92.16" x2="73.15" y2="94.68" stroke="#0000ff" stroke-width="0.55"/>
<line x1="71.85" y1="92.16" x2="74.45" y2="92.16" stroke="#0000ff" stroke-width="0.55"/>
<line x1="71.85" y1="94.68" x2="74.45" y2="94.68" stroke="#0000ff" stroke-width="0.55"/>
<line x1="77.32" y1="90.33" x2="77.32" y2="92.98" stroke="#0000ff" stroke-width="0.55"/>
<line x1="76.02" y1="90.33" x2="78.62" y2="90.33" stroke="#0000ff" stroke-width="0.55"/>
<line x1="76.02" y1="92.98" x2="78.62" y2="92.98" stroke="#0000ff" stroke-width="0.55"/>
<line x1="81.49" y1="87.95" x2="81.49" y2="90.95" stroke="#0000ff" stroke-width="0.55"/>
<line x1="80.19" y1="87.95" x2="82.79" y2="87.95" stroke="#0000ff" stroke-width="0.55"/>
<line x1="80.19" y1="90.95" x2="82.79" y2="90.95" stroke="#0000ff" stroke-width="0.55"/>
<line x1="85.66" y1="85.57" x2="85.66" y2="88.92" stroke="#0000ff" stroke-width="0.55"/>
<line x1="84.36" y1="85.57" x2="86.96" y2="85.57" stroke="#0000ff" stroke-width="0.55"/>
<line x1="84.36" y1="88.92" x2="86.96" y2="88.92" stroke="#0000ff" stroke-width="0.55"/>
<line x1="89.84" y1="82.3" x2="89.84" y2="86.01" stroke="#0000ff" stroke-width="0.55"/>
<line x1="88.54" y1="82.3" x2="91.14" y2="82.3" stroke="#0000ff" stroke-width="0.55"/>
<line x1="88.54" y1="86.01" x2="91.14" y2="86.01" stroke="#0000ff" stroke-width="0.55"/>
<line x1="94.01" y1="79.04" x2="94.01" y2="83.1" stroke="#0000ff" stroke-width="0.55"/>
<line x1="92.71" y1="79.04" x2="95.31" y2="79.04" stroke="#0000ff" stroke-width="0.55"/>
<line x1="92.71" y1="83.1" x2="95.31" y2="83.1" stroke="#0000ff" stroke-width="0.55"/>
<line x1="98.18" y1="75.78" x2="98.18" y2="80.19" stroke="#0000ff" stroke-width="0.55"/>
<line x1="96.88" y1="75.78" x2="99.48" y2="75.78" stroke="#0000ff" stroke-width="0.55"/>
<line x1="96.88" y1="80.19" x2="99.48" y2="80.19" stroke="#0000ff" stroke-width="0.55"/>
<line x1="102.35" y1="72.51" x2="102.35" y2="76.92" stroke="#0000ff" stroke-width="0.55"/>
<line x1="101.05" y1="72.51" x2="103.65" y2="72.51" stroke="#0000ff" stroke-width="0.55"/>
<line x1="101.05" y1="76.92" x2="103.65" y2="76.92" stroke="#0000ff" stroke-width="0.55"/>
<line x1="106.52" y1="69.25" x2="106.52" y2="73.66" stroke="#0000ff" stroke-width="0.55"/>
<line x1="105.22" y1="69.25" x2="107.82" y2="69.25" stroke="#0000ff" stroke-width="0.55"/>
<line x1="105.22" y1="73.66" x2="107.82" y2="73.66" stroke="#0000ff" stroke-width="0.55"/>
<line x1="110.7" y1="65.99" x2="110.7" y2="70.4" stroke="#0000ff" stroke-width="0.55"/>
<line x1="109.4" y1="65.99" x2="112" y2="65.99" stroke="#0000ff" stroke-width="0.55"/>
<line x1="109.4" y1="70.4" x2="112" y2="70.4" stroke="#0000ff" stroke-width="0.55"/>
<line x1="114.87" y1="62.72" x2="114.87" y2="67.13" stroke="#0000ff" stroke-width="0.55"/>
<line x1="113.57" y1="62.72" x2="116.17" y2="62.72" stroke="#0000ff" stroke-width="0.55"/>
<line x1="113.57" y1="67.13" x2="116.17" y2="67.13" stroke="#0000ff" stroke-width="0.55"/>
<line x1="119.04" y1="59.46" x2="119.04" y2="63.87" stroke="#0000ff" stroke-width="0.55"/>
<line x1="117.74" y1="59.46" x2="120.34" y2="59.46" stroke="#0000ff" stroke-width="0.55"/>
<line x1="117.74" y1="63.87" x2="120.34" y2="63.87" stroke="#0000ff" stroke-width="0.55"/>
<line x1="123.21" y1="56.2" x2="123.21" y2="60.61" stroke="#0000ff" stroke-width="0.55"/>
<line x1="121.91" y1="56.2" x2="124.51" y2="56.2" stroke="#0000ff" stroke-width="0.55"/>
<line x1="121.91" y1="60.61" x2="124.51" y2="60.61" stroke="#0000ff" stroke-width="0.55"/>
<line x1="127.38" y1="52.93" x2="127.38" y2="57.34" stroke="#0000ff" stroke-width="0.55"/>
<line x1="126.08" y1="52.93" x2="128.68" y2="52.93" stroke="#0000ff" stroke-width="0.55"/>
<line x1="126.08" y1="57.34" x2="128.68" y2="57.34" stroke="#0000ff" stroke-width="0.55"/>
<line x1="131.56" y1="49.8" x2="131.56" y2="53.95" stroke="#0000ff" stroke-width="0.55"/>
<line x1="130.26" y1="49.8" x2="132.86" y2="49.8" stroke="#0000ff" stroke-width="0.55"/>
<line x1="130.26" y1="53.95" x2="132.86" y2="53.95" stroke="#0000ff" stroke-width="0.55"/>
<line x1="135.73" y1="46.8" x2="135.73" y2="50.42" stroke="#0000ff" stroke-width="0.55"/>
<line x1="134.43" y1="46.8" x2="137.03" y2="46.8" stroke="#0000ff" stroke-width="0.55"/>
<line x1="134.43" y1="50.42" x2="137.03" y2="50.42" stroke="#0000ff" stroke-width="0.55"/>
<line x1="139.9" y1="43.8" x2="139.9" y2="46.89" stroke="#0000ff" stroke-width="0.55"/>
<line x1="138.6" y1="43.8" x2="141.2" y2="43.8" stroke="#0000ff" stroke-width="0.55"/>
<line x1="138.6" y1="46.89" x2="141.2" y2="46.89" stroke="#0000ff" stroke-width="0.55"/>
<line x1="144.07" y1="41.42" x2="144.07" y2="43.98" stroke="#0000ff" stroke-width="0.55"/>
<line x1="142.77" y1="41.42" x2="145.37" y2="41.42" stroke="#0000ff" stroke-width="0.55"/>
<line x1="142.77" y1="43.98" x2="145.37" y2="43.98" stroke="#0000ff" stroke-width="0.55"/>
<line x1="148.24" y1="39.04" x2="148.24" y2="41.07" stroke="#0000ff" stroke-width="0.55"/>
<line x1="146.94" y1="39.04" x2="149.54" y2="39.04" stroke="#0000ff" stroke-width="0.55"/>
<line x1="146.94" y1="41.07" x2="149.54" y2="41.07" stroke="#0000ff" stroke-width="0.55"/>
<line x1="152.42" y1="36.65" x2="152.42" y2="38.17" stroke="#0000ff" stroke-width="0.55"/>
<line x1="151.12" y1="36.65" x2="153.72" y2="36.65" stroke="#0000ff" stroke-width="0.55"/>
<line x1="151.12" y1="38.17" x2="153.72" y2="38.17" stroke="#0000ff" stroke-width="0.55"/>
<polyline points="35.6,107.09 39.77,105.77 43.94,104.44 48.12,103.12 52.29,101.8 56.46,100.47 60.63,98.71 64.8,96.95 68.98,95.18 73.15,93.42 77.32,91.65 81.49,89.45 85.66,87.24 89.84,84.16 94.01,81.07 98.18,77.98 102.35,74.72 106.52,71.46 110.7,68.19 114.87,64.93 119.04,61.66 123.21,58.4 127.38,55.14 131.56,51.87 135.73,48.61 139.9,45.35 144.07,42.7 148.24,40.06 152.42,37.41 156.59,35.2 160.76,33" fill="none" stroke="#0000ff" stroke-width="0.9"/>
<circle cx="35.6" cy="107.09" r="1.35" fill="#0000ff" stroke="none" stroke-width="0"/>
<circle cx="39.77" cy="105.77" r="1.35" fill="#0000ff" stroke="none" stroke-width="0"/>
<circle cx="43.94" cy="104.44" r="1.35" fill="#0000ff" stroke="none" stroke-width="0"/>
<circle cx="48.12" cy="103.12" r="1.35" fill="#0000ff" stroke="none" stroke-width="0"/>
<circle cx="52.29" cy="101.8" r="1.35" fill="#0000ff" stroke="none" stroke-width="0"/>
<circle cx="56.46" cy="100.47" r="1.35" fill="#0000ff" stroke="none" stroke-width="0"/>
<circle cx="60.63" cy="98.71" r="1.35" fill="#0000ff" stroke="none" stroke-width="0"/>
<circle cx="64.8" cy="96.95" r="1.35" fill="#0000ff" stroke="none" stroke-width="0"/>
<circle cx="68.98" cy="95.18" r="1.35" fill="#0000ff" stroke="none" stroke-width="0"/>
<circle cx="73.15" cy="93.42" r="1.35" fill="#0000ff" stroke="none" stroke-width="0"/>
<circle cx="77.32" cy="91.65" r="1.35" fill="#0000ff" stroke="none" stroke-width="0"/>
<circle cx="81.49" cy="89.45" r="1.35" fill="#0000ff" stroke="none" stroke-width="0"/>
<circle cx="85.66" cy="87.24" r="1.35" fill="#0000ff" stroke="none" stroke-width="0"/>
<circle cx="89.84" cy="84.16" r="1.35" fill="#0000ff" stroke="none" stroke-width="0"/>
<circle cx="94.01" cy="81.07" r="1.35" fill="#0000ff" stroke="none" stroke-width="0"/>
<circle cx="98.18" cy="77.98" r="1.35" fill="#0000ff" stroke="none" stroke-width="0"/>
<circle cx="102.35" cy="74.72" r="1.35" fill="#0000ff" stroke="none" stroke-width="0"/>
<circle cx="106.52" cy="71.46" r="1.35" fill="#0000ff" stroke="none" stroke-width="0"/>
<circle cx="110.7" cy="68.19" r="1.35" fill="#0000ff" stroke="none" stroke-width="0"/>
<circle cx="114.87" cy="64.93" r="1.35" fill="#0000ff" stroke="none" stroke-width="0"/>
<circle cx="119.04" cy="61.66" r="1.35" fill="#0000ff" stroke="none" stroke-width="0"/>
<circle cx="123.21" cy="58.4" r="1.35" fill="#0000ff" stroke="none" stroke-width="0"/>
<circle cx="127.38" cy="55.14" r="1.35" fill="#0000ff" stroke="none" stroke-width="0"/>
<circle cx="131.56" cy="51.87" r="1.35" fill="#0000ff" stroke="none" stroke-width="0"/>
<circle cx="135.73" cy="48.61" r="1.35" fill="#0000ff" stroke="none" stroke-width="0"/>
<circle cx="139.9" cy="45.35" r="1.35" fill="#0000ff" stroke="none" stroke-width="0"/>
<circle cx="144.07" cy="42.7" r="1.35" fill="#0000ff" stroke="none" stroke-width="0"/>
<circle cx="148.24" cy="40.06" r="1.35" fill="#0000ff" stroke="none" stroke-width="0"/>
<circle cx="152.42" cy="37.41" r="1.35" fill="#0000ff" stroke="none" stroke-width="0"/>
<circle cx="156.59" cy="35.2" r="1.35" fill="#0000ff" stroke="none" stroke-width="0"/>
<circle cx="160.76" cy="33" r="1.35" fill="#0000ff" stroke="none" stroke-width="0"/>
<line x1="35.6" y1="32.5" x2="35.6" y2="121.7" stroke="#000" stroke-width="1.1"/>
<line x1="35.1" y1="121.2" x2="161.26" y2="121.2" stroke="#000" stroke-width="1.1"/>
<line x1="32.1" y1="121.2" x2="35.6" y2="121.2" stroke="#000" stroke-width="1.1"/>
<text x="28.6" y="124.02" font-size="7.88" text-anchor="end">0</text>
<line x1="32.1" y1="103.56" x2="35.6" y2="103.56" stroke="#000" stroke-width="1.1"/>
<text x="28.6" y="106.38" font-size="7.88" text-anchor="end">20</text>
<line x1="32.1" y1="85.92" x2="35.6" y2="85.92" stroke="#000" stroke-width="1.1"/>
<text x="28.6" y="88.74" font-size="7.88" text-anchor="end">40</text>
<line x1="32.1" y1="68.28" x2="35.6" y2="68.28" stroke="#000" stroke-width="1.1"/>
<text x="28.6" y="71.1" font-size="7.88" text-anchor="end">60</text>
<line x1="32.1" y1="50.64" x2="35.6" y2="50.64" stroke="#000" stroke-width="1.1"/>
<text x="28.6" y="53.46" font-size="7.88" text-anchor="end">80</text>
<line x1="32.1" y1="33" x2="35.6" y2="33" stroke="#000" stroke-width="1.1"/>
<text x="28.6" y="35.82" font-size="7.88" text-anchor="end">100</text>
<line x1="35.6" y1="121.2" x2="35.6" y2="124.7" stroke="#000" stroke-width="1.1"/>
<text x="35.6" y="134.42" font-size="7.88" text-anchor="middle">0</text>
<line x1="56.46" y1="121.2" x2="56.46" y2="124.7" stroke="#000" stroke-width="1.1"/>
<text x="56.46" y="134.42" font-size="7.88" text-anchor="middle">20</text>
<line x1="77.32" y1="121.2" x2="77.32" y2="124.7" stroke="#000" stroke-width="1.1"/>
<text x="77.32" y="134.42" font-size="7.88" text-anchor="middle">40</text>
<line x1="98.18" y1="121.2" x2="98.18" y2="124.7" stroke="#000" stroke-width="1.1"/>
<text x="98.18" y="134.42" font-size="7.88" text-anchor="middle">60</text>
<line x1="119.04" y1="121.2" x2="119.04" y2="124.7" stroke="#000" stroke-width="1.1"/>
<text x="119.04" y="134.42" font-size="7.88" text-anchor="middle">80</text>
<line x1="139.9" y1="121.2" x2="139.9" y2="124.7" stroke="#000" stroke-width="1.1"/>
<text x="139.9" y="134.42" font-size="7.88" text-anchor="middle">100</text>
<line x1="160.76" y1="121.2" x2="160.76" y2="124.7" stroke="#000" stroke-width="1.1"/>
<text x="160.76" y="134.42" font-size="7.88" text-anchor="middle">120</text>
<text x="98" y="146.92" font-size="7.88" text-anchor="middle">Time (hours)</text>
<text x="8.6" y="80.12" font-size="7.88" text-anchor="middle" transform="rotate(-90 8.6 77.3)">Relative growth (% of control)</text>
<line x1="42.6" y1="158.8" x2="50.6" y2="158.8" stroke="#0000ff" stroke-width="1"/>
<circle cx="46.6" cy="158.8" r="1.35" fill="#0000ff" stroke="none" stroke-width="0"/>
<text x="55.7" y="161.62" font-size="7.88">Control</text>
<line x1="42.6" y1="172.7" x2="50.6" y2="172.7" stroke="#ff0000" stroke-width="1"/>
<polygon points="46.6,171 48.22,173.97 44.98,173.97" fill="#ff0000" stroke="none" stroke-width="0"/>
<text x="55.7" y="175.52" font-size="7.88">10 nmol/L Vepdegestrant</text>
<line x1="42.6" y1="186.3" x2="50.6" y2="186.3" stroke="#00b400" stroke-width="1"/>
<circle cx="46.6" cy="186.3" r="0.9" fill="#00b400" stroke="none" stroke-width="0"/>
<text x="55.7" y="189.12" font-size="7.88">500 nmol/L Palbociclib</text>
<line x1="42.6" y1="200" x2="50.6" y2="200" stroke="#b400ff" stroke-width="1"/>
<polygon points="46.6,198.2 48.2,200 46.6,201.8 45,200" fill="#b400ff" stroke="none" stroke-width="0"/>
<text x="55.7" y="202.82" font-size="7.88">Combination</text>
<rect x="234.3" y="29.3" width="12.2" height="77.7" fill="#0000ff" stroke="none" stroke-width="0"/>
<line x1="258.4" y1="57.66" x2="258.4" y2="59.6" stroke="#ff0000" stroke-width="0.9"/>
<line x1="255.4" y1="57.66" x2="261.4" y2="57.66" stroke="#ff0000" stroke-width="0.9"/>
<rect x="252.3" y="59.6" width="12.2" height="47.4" fill="#ff0000" stroke="none" stroke-width="0"/>
<line x1="276.4" y1="59.21" x2="276.4" y2="63.49" stroke="#00b400" stroke-width="0.9"/>
<line x1="273.4" y1="59.21" x2="279.4" y2="59.21" stroke="#00b400" stroke-width="0.9"/>
<rect x="270.3" y="63.49" width="12.2" height="43.51" fill="#00b400" stroke="none" stroke-width="0"/>
<line x1="294.4" y1="76.08" x2="294.4" y2="79.03" stroke="#000" stroke-width="0.9"/>
<line x1="291.4" y1="76.08" x2="297.4" y2="76.08" stroke="#000" stroke-width="0.9"/>
<rect x="288.3" y="79.03" width="12.2" height="27.97" fill="#000" stroke="none" stroke-width="0"/>
<line x1="227.5" y1="28.8" x2="227.5" y2="107.5" stroke="#000" stroke-width="1.1"/>
<line x1="227" y1="107" x2="306.3" y2="107" stroke="#000" stroke-width="1.1"/>
<line x1="224" y1="107" x2="227.5" y2="107" stroke="#000" stroke-width="1.1"/>
<text x="222" y="109.82" font-size="7.88" text-anchor="end">0</text>
<line x1="224" y1="91.46" x2="227.5" y2="91.46" stroke="#000" stroke-width="1.1"/>
<text x="222" y="94.28" font-size="7.88" text-anchor="end">20</text>
<line x1="224" y1="75.92" x2="227.5" y2="75.92" stroke="#000" stroke-width="1.1"/>
<text x="222" y="78.74" font-size="7.88" text-anchor="end">40</text>
<line x1="224" y1="60.38" x2="227.5" y2="60.38" stroke="#000" stroke-width="1.1"/>
<text x="222" y="63.2" font-size="7.88" text-anchor="end">60</text>
<line x1="224" y1="44.84" x2="227.5" y2="44.84" stroke="#000" stroke-width="1.1"/>
<text x="222" y="47.66" font-size="7.88" text-anchor="end">80</text>
<line x1="224" y1="29.3" x2="227.5" y2="29.3" stroke="#000" stroke-width="1.1"/>
<text x="222" y="32.12" font-size="7.88" text-anchor="end">100</text>
<line x1="240.4" y1="107" x2="240.4" y2="110.5" stroke="#000" stroke-width="1.1"/>
<text x="240.4" y="117.12" font-size="7.88" text-anchor="end" transform="rotate(-90 240.4 114.3)">Control</text>
<line x1="258.4" y1="107" x2="258.4" y2="110.5" stroke="#000" stroke-width="1.1"/>
<text x="258.4" y="117.12" font-size="7.88" text-anchor="end" transform="rotate(-90 258.4 114.3)">10 nmol/L Vepdegestrant</text>
<line x1="276.4" y1="107" x2="276.4" y2="110.5" stroke="#000" stroke-width="1.1"/>
<text x="276.4" y="117.12" font-size="7.88" text-anchor="end" transform="rotate(-90 276.4 114.3)">500 nmol/L Palbociclib</text>
<line x1="294.4" y1="107" x2="294.4" y2="110.5" stroke="#000" stroke-width="1.1"/>
<text x="294.4" y="117.12" font-size="7.88" text-anchor="end" transform="rotate(-90 294.4 114.3)">Combination</text>
<text x="202.7" y="69.32" font-size="7.88" text-anchor="middle" transform="rotate(-90 202.7 66.5)">Relative growth (% of control)</text>
<polyline points="239.6,27 239.6,17.6 294.4,17.6 294.4,27" fill="none" stroke="#000" stroke-width="0.95"/>
<polyline points="258,55.5 258,36.6 294.4,36.6 294.4,42.5" fill="none" stroke="#000" stroke-width="0.95"/>
<polyline points="275.9,54.5 275.9,50.4 294.4,50.4 294.4,72.5" fill="none" stroke="#000" stroke-width="0.95"/>
<text x="265.5" y="17.7" font-size="7.3" text-anchor="middle">****</text>
<text x="276.6" y="36.9" font-size="7.3" text-anchor="middle">***</text>
<text x="284.6" y="50.7" font-size="7.3" text-anchor="middle">**</text>
<polyline points="380.6,60.2 382.38,60.23 384.16,60.27 385.95,60.32 387.73,60.37 389.51,60.44 391.29,60.51 393.08,60.61 394.86,60.72 396.64,60.85 398.42,61 400.21,61.18 401.99,61.39 403.77,61.63 405.55,61.92 407.34,62.24 409.12,62.6 410.9,63 412.68,63.45 414.47,63.94 416.25,64.46 418.03,65.01 419.81,65.58 421.6,66.16 423.38,66.75 425.16,67.32 426.94,67.87 428.73,68.4 430.51,68.89 432.29,69.34 434.07,69.75 435.86,70.12 437.64,70.45 439.42,70.73 441.2,70.98 442.99,71.2 444.77,71.38 446.55,71.54 448.33,71.67 450.12,71.78 451.9,71.88" fill="none" stroke="#ff0000" stroke-width="0.9"/>
<circle cx="380.6" cy="60.2" r="1.5" fill="#ff0000" stroke="none" stroke-width="0"/>
<circle cx="390.05" cy="60.46" r="1.5" fill="#ff0000" stroke="none" stroke-width="0"/>
<circle cx="400.38" cy="61.2" r="1.5" fill="#ff0000" stroke="none" stroke-width="0"/>
<circle cx="410.64" cy="62.94" r="1.5" fill="#ff0000" stroke="none" stroke-width="0"/>
<circle cx="420.97" cy="65.96" r="1.5" fill="#ff0000" stroke="none" stroke-width="0"/>
<circle cx="431.28" cy="69.09" r="1.5" fill="#ff0000" stroke="none" stroke-width="0"/>
<circle cx="441.58" cy="71.03" r="1.5" fill="#ff0000" stroke="none" stroke-width="0"/>
<circle cx="451.9" cy="71.88" r="1.5" fill="#ff0000" stroke="none" stroke-width="0"/>
<polyline points="380.6,59.29 382.38,59.31 384.16,59.35 385.95,59.39 387.73,59.44 389.51,59.49 391.29,59.56 393.08,59.65 394.86,59.74 396.64,59.86 398.42,60 400.21,60.16 401.99,60.36 403.77,60.58 405.55,60.84 407.34,61.13 409.12,61.47 410.9,61.85 412.68,62.27 414.47,62.73 416.25,63.23 418.03,63.77 419.81,64.33 421.6,64.9 423.38,65.49 425.16,66.07 426.94,66.63 428.73,67.18 430.51,67.69 432.29,68.17 434.07,68.6 435.86,69 437.64,69.35 439.42,69.66 441.2,69.93 442.99,70.17 444.77,70.37 446.55,70.54 448.33,70.69 450.12,70.82 451.9,70.92" fill="none" stroke="#ff0000" stroke-width="0.9"/>
<rect x="379.2" y="57.89" width="2.8" height="2.8" fill="#ff0000" stroke="none" stroke-width="0"/>
<rect x="388.65" y="58.11" width="2.8" height="2.8" fill="#ff0000" stroke="none" stroke-width="0"/>
<rect x="398.98" y="58.78" width="2.8" height="2.8" fill="#ff0000" stroke="none" stroke-width="0"/>
<rect x="409.24" y="60.39" width="2.8" height="2.8" fill="#ff0000" stroke="none" stroke-width="0"/>
<rect x="419.57" y="63.3" width="2.8" height="2.8" fill="#ff0000" stroke="none" stroke-width="0"/>
<rect x="429.88" y="66.5" width="2.8" height="2.8" fill="#ff0000" stroke="none" stroke-width="0"/>
<rect x="440.18" y="68.59" width="2.8" height="2.8" fill="#ff0000" stroke="none" stroke-width="0"/>
<rect x="450.5" y="69.52" width="2.8" height="2.8" fill="#ff0000" stroke="none" stroke-width="0"/>
<polyline points="380.6,58.37 382.38,58.4 384.16,58.43 385.95,58.46 387.73,58.51 389.51,58.56 391.29,58.62 393.08,58.7 394.86,58.79 396.64,58.89 398.42,59.02 400.21,59.17 401.99,59.35 403.77,59.55 405.55,59.79 407.34,60.06 409.12,60.38 410.9,60.73 412.68,61.13 414.47,61.57 416.25,62.05 418.03,62.57 419.81,63.11 421.6,63.68 423.38,64.26 425.16,64.85 426.94,65.42 428.73,65.98 430.51,66.51 432.29,67.01 434.07,67.47 435.86,67.89 437.64,68.26 439.42,68.59 441.2,68.89 442.99,69.14 444.77,69.36 446.55,69.55 448.33,69.71 450.12,69.85 451.9,69.96" fill="none" stroke="#ff0000" stroke-width="0.9"/>
<polygon points="380.6,56.67 382.21,59.65 378.98,59.65" fill="#ff0000" stroke="none" stroke-width="0"/>
<polygon points="390.05,56.88 391.67,59.85 388.44,59.85" fill="#ff0000" stroke="none" stroke-width="0"/>
<polygon points="400.38,57.49 402,60.46 398.77,60.46" fill="#ff0000" stroke="none" stroke-width="0"/>
<polygon points="410.64,58.98 412.26,61.95 409.03,61.95" fill="#ff0000" stroke="none" stroke-width="0"/>
<polygon points="420.97,61.78 422.59,64.76 419.36,64.76" fill="#ff0000" stroke="none" stroke-width="0"/>
<polygon points="431.28,65.03 432.89,68.01 429.66,68.01" fill="#ff0000" stroke="none" stroke-width="0"/>
<polygon points="441.58,67.24 443.2,70.22 439.97,70.22" fill="#ff0000" stroke="none" stroke-width="0"/>
<polygon points="451.9,68.26 453.51,71.24 450.28,71.24" fill="#ff0000" stroke="none" stroke-width="0"/>
<polyline points="380.6,49.02 382.38,49.19 384.16,49.39 385.95,49.62 387.73,49.88 389.51,50.19 391.29,50.55 393.08,50.95 394.86,51.41 396.64,51.92 398.42,52.49 400.21,53.13 401.99,53.82 403.77,54.57 405.55,55.38 407.34,56.23 409.12,57.11 410.9,58.02 412.68,58.94 414.47,59.86 416.25,60.77 418.03,61.65 419.81,62.49 421.6,63.28 423.38,64.02 425.16,64.71 426.94,65.33 428.73,65.89 430.51,66.39 432.29,66.84 434.07,67.23 435.86,67.57 437.64,67.87 439.42,68.13 441.2,68.36 442.99,68.55 444.77,68.72 446.55,68.86 448.33,68.98 450.12,69.08 451.9,69.17" fill="none" stroke="#ff7f00" stroke-width="0.9"/>
<circle cx="380.6" cy="49.02" r="1.5" fill="#fff" stroke="#ff7f00" stroke-width="0.8"/>
<circle cx="390.05" cy="50.3" r="1.5" fill="#fff" stroke="#ff7f00" stroke-width="0.8"/>
<circle cx="400.38" cy="53.19" r="1.5" fill="#fff" stroke="#ff7f00" stroke-width="0.8"/>
<circle cx="410.64" cy="57.89" r="1.5" fill="#fff" stroke="#ff7f00" stroke-width="0.8"/>
<circle cx="420.97" cy="63.01" r="1.5" fill="#fff" stroke="#ff7f00" stroke-width="0.8"/>
<circle cx="431.28" cy="66.59" r="1.5" fill="#fff" stroke="#ff7f00" stroke-width="0.8"/>
<circle cx="441.58" cy="68.4" r="1.5" fill="#fff" stroke="#ff7f00" stroke-width="0.8"/>
<circle cx="451.9" cy="69.17" r="1.5" fill="#fff" stroke="#ff7f00" stroke-width="0.8"/>
<polyline points="380.6,38.34 382.38,38.44 384.16,38.56 385.95,38.71 387.73,38.88 389.51,39.09 391.29,39.34 393.08,39.63 394.86,39.97 396.64,40.38 398.42,40.86 400.21,41.41 401.99,42.05 403.77,42.79 405.55,43.62 407.34,44.56 409.12,45.6 410.9,46.75 412.68,47.98 414.47,49.29 416.25,50.66 418.03,52.07 419.81,53.5 421.6,54.91 423.38,56.28 425.16,57.6 426.94,58.84 428.73,59.99 430.51,61.05 432.29,61.99 434.07,62.84 435.86,63.58 437.64,64.23 439.42,64.79 441.2,65.28 442.99,65.69 444.77,66.04 446.55,66.34 448.33,66.59 450.12,66.8 451.9,66.98" fill="none" stroke="#ff7f00" stroke-width="0.9"/>
<rect x="379.2" y="36.94" width="2.8" height="2.8" fill="#fff" stroke="#ff7f00" stroke-width="0.8"/>
<rect x="388.65" y="37.76" width="2.8" height="2.8" fill="#fff" stroke="#ff7f00" stroke-width="0.8"/>
<rect x="398.98" y="40.07" width="2.8" height="2.8" fill="#fff" stroke="#ff7f00" stroke-width="0.8"/>
<rect x="409.24" y="45.17" width="2.8" height="2.8" fill="#fff" stroke="#ff7f00" stroke-width="0.8"/>
<rect x="419.57" y="53.02" width="2.8" height="2.8" fill="#fff" stroke="#ff7f00" stroke-width="0.8"/>
<rect x="429.88" y="60.07" width="2.8" height="2.8" fill="#fff" stroke="#ff7f00" stroke-width="0.8"/>
<rect x="440.18" y="63.97" width="2.8" height="2.8" fill="#fff" stroke="#ff7f00" stroke-width="0.8"/>
<rect x="450.5" y="65.58" width="2.8" height="2.8" fill="#fff" stroke="#ff7f00" stroke-width="0.8"/>
<polyline points="380.6,28.47 382.38,28.53 384.16,28.6 385.95,28.69 387.73,28.8 389.51,28.94 391.29,29.11 393.08,29.32 394.86,29.58 396.64,29.91 398.42,30.31 400.21,30.8 401.99,31.4 403.77,32.12 405.55,32.99 407.34,34.01 409.12,35.21 410.9,36.58 412.68,38.14 414.47,39.87 416.25,41.75 418.03,43.74 419.81,45.8 421.6,47.89 423.38,49.94 425.16,51.9 426.94,53.74 428.73,55.42 430.51,56.93 432.29,58.25 434.07,59.4 435.86,60.37 437.64,61.19 439.42,61.88 441.2,62.45 442.99,62.91 444.77,63.29 446.55,63.6 448.33,63.84 450.12,64.05 451.9,64.21" fill="none" stroke="#ff7f00" stroke-width="0.9"/>
<polygon points="380.6,26.67 382.13,28.47 380.6,30.27 379.07,28.47" fill="#fff" stroke="#ff7f00" stroke-width="0.8"/>
<polygon points="390.05,27.18 391.58,28.98 390.05,30.78 388.52,28.98" fill="#fff" stroke="#ff7f00" stroke-width="0.8"/>
<polygon points="400.38,29.06 401.91,30.86 400.38,32.66 398.85,30.86" fill="#fff" stroke="#ff7f00" stroke-width="0.8"/>
<polygon points="410.64,34.57 412.17,36.37 410.64,38.17 409.11,36.37" fill="#fff" stroke="#ff7f00" stroke-width="0.8"/>
<polygon points="420.97,45.36 422.5,47.16 420.97,48.96 419.44,47.16" fill="#fff" stroke="#ff7f00" stroke-width="0.8"/>
<polygon points="431.28,55.72 432.81,57.52 431.28,59.32 429.75,57.52" fill="#fff" stroke="#ff7f00" stroke-width="0.8"/>
<polygon points="441.58,60.75 443.11,62.55 441.58,64.35 440.05,62.55" fill="#fff" stroke="#ff7f00" stroke-width="0.8"/>
<polygon points="451.9,62.41 453.43,64.21 451.9,66.01 450.37,64.21" fill="#fff" stroke="#ff7f00" stroke-width="0.8"/>
<polyline points="380.6,24.79 382.38,24.83 384.16,24.89 385.95,24.95 387.73,25.03 389.51,25.14 391.29,25.28 393.08,25.45 394.86,25.66 396.64,25.94 398.42,26.28 400.21,26.72 401.99,27.25 403.77,27.92 405.55,28.74 407.34,29.73 409.12,30.91 410.9,32.31 412.68,33.92 414.47,35.75 416.25,37.77 418.03,39.95 419.81,42.23 421.6,44.54 423.38,46.82 425.16,49 426.94,51.02 428.73,52.86 430.51,54.47 432.29,55.87 434.07,57.06 435.86,58.05 437.64,58.87 439.42,59.54 441.2,60.08 442.99,60.51 444.77,60.86 446.55,61.13 448.33,61.35 450.12,61.52 451.9,61.66" fill="none" stroke="#0a0ae6" stroke-width="0.9"/>
<polygon points="380.6,22.99 382.13,24.79 380.6,26.59 379.07,24.79" fill="#0a0ae6" stroke="none" stroke-width="0"/>
<polygon points="390.05,23.38 391.58,25.18 390.05,26.98 388.52,25.18" fill="#0a0ae6" stroke="none" stroke-width="0"/>
<polygon points="400.38,24.96 401.91,26.76 400.38,28.56 398.85,26.76" fill="#0a0ae6" stroke="none" stroke-width="0"/>
<polygon points="410.64,30.29 412.17,32.09 410.64,33.89 409.11,32.09" fill="#0a0ae6" stroke="none" stroke-width="0"/>
<polygon points="420.97,41.93 422.5,43.73 420.97,45.53 419.44,43.73" fill="#0a0ae6" stroke="none" stroke-width="0"/>
<polygon points="431.28,53.3 432.81,55.1 431.28,56.9 429.75,55.1" fill="#0a0ae6" stroke="none" stroke-width="0"/>
<polygon points="441.58,58.38 443.11,60.18 441.58,61.98 440.05,60.18" fill="#0a0ae6" stroke="none" stroke-width="0"/>
<polygon points="451.9,59.86 453.43,61.66 451.9,63.46 450.37,61.66" fill="#0a0ae6" stroke="none" stroke-width="0"/>
<polyline points="380.6,24.18 382.38,24.21 384.16,24.26 385.95,24.32 387.73,24.39 389.51,24.49 391.29,24.61 393.08,24.76 394.86,24.95 396.64,25.2 398.42,25.5 400.21,25.89 401.99,26.38 403.77,26.97 405.55,27.71 407.34,28.61 409.12,29.7 410.9,30.98 412.68,32.48 414.47,34.19 416.25,36.11 418.03,38.19 419.81,40.4 421.6,42.67 423.38,44.93 425.16,47.12 426.94,49.18 428.73,51.07 430.51,52.75 432.29,54.22 434.07,55.47 435.86,56.53 437.64,57.4 439.42,58.12 441.2,58.7 442.99,59.17 444.77,59.54 446.55,59.84 448.33,60.08 450.12,60.27 451.9,60.41" fill="none" stroke="#0a0ae6" stroke-width="0.9"/>
<polygon points="380.6,22.48 382.21,25.45 378.98,25.45" fill="#0a0ae6" stroke="none" stroke-width="0"/>
<polygon points="390.05,22.82 391.67,25.79 388.44,25.79" fill="#0a0ae6" stroke="none" stroke-width="0"/>
<polygon points="400.38,24.23 402,27.21 398.77,27.21" fill="#0a0ae6" stroke="none" stroke-width="0"/>
<polygon points="410.64,29.08 412.26,32.06 409.03,32.06" fill="#0a0ae6" stroke="none" stroke-width="0"/>
<polygon points="420.97,40.17 422.59,43.14 419.36,43.14" fill="#0a0ae6" stroke="none" stroke-width="0"/>
<polygon points="431.28,51.71 432.89,54.69 429.66,54.69" fill="#0a0ae6" stroke="none" stroke-width="0"/>
<polygon points="441.58,57.11 443.2,60.09 439.97,60.09" fill="#0a0ae6" stroke="none" stroke-width="0"/>
<polygon points="451.9,58.71 453.51,61.69 450.28,61.69" fill="#0a0ae6" stroke="none" stroke-width="0"/>
<polyline points="380.6,23.56 382.38,23.6 384.16,23.64 385.95,23.69 387.73,23.75 389.51,23.84 391.29,23.95 393.08,24.08 394.86,24.26 396.64,24.48 398.42,24.75 400.21,25.1 401.99,25.54 403.77,26.08 405.55,26.75 407.34,27.57 409.12,28.57 410.9,29.75 412.68,31.14 414.47,32.75 416.25,34.55 418.03,36.54 419.81,38.67 421.6,40.89 423.38,43.13 425.16,45.32 426.94,47.4 428.73,49.33 430.51,51.06 432.29,52.59 434.07,53.91 435.86,55.02 437.64,55.95 439.42,56.71 441.2,57.33 442.99,57.83 444.77,58.23 446.55,58.55 448.33,58.81 450.12,59.01 451.9,59.17" fill="none" stroke="#0a0ae6" stroke-width="0.9"/>
<rect x="379.2" y="22.16" width="2.8" height="2.8" fill="#0a0ae6" stroke="none" stroke-width="0"/>
<rect x="388.65" y="22.47" width="2.8" height="2.8" fill="#0a0ae6" stroke="none" stroke-width="0"/>
<rect x="398.98" y="23.74" width="2.8" height="2.8" fill="#0a0ae6" stroke="none" stroke-width="0"/>
<rect x="409.24" y="28.17" width="2.8" height="2.8" fill="#0a0ae6" stroke="none" stroke-width="0"/>
<rect x="419.57" y="38.71" width="2.8" height="2.8" fill="#0a0ae6" stroke="none" stroke-width="0"/>
<rect x="429.88" y="50.35" width="2.8" height="2.8" fill="#0a0ae6" stroke="none" stroke-width="0"/>
<rect x="440.18" y="56.05" width="2.8" height="2.8" fill="#0a0ae6" stroke="none" stroke-width="0"/>
<rect x="450.5" y="57.77" width="2.8" height="2.8" fill="#0a0ae6" stroke="none" stroke-width="0"/>
<polyline points="380.6,22.95 382.38,22.98 384.16,23.02 385.95,23.06 387.73,23.12 389.51,23.2 391.29,23.3 393.08,23.42 394.86,23.58 396.64,23.78 398.42,24.03 400.21,24.34 401.99,24.74 403.77,25.23 405.55,25.84 407.34,26.59 409.12,27.51 410.9,28.6 412.68,29.89 414.47,31.4 416.25,33.1 418.03,35 419.81,37.05 421.6,39.2 423.38,41.4 425.16,43.58 426.94,45.68 428.73,47.63 430.51,49.41 432.29,50.99 434.07,52.36 435.86,53.52 437.64,54.5 439.42,55.3 441.2,55.96 442.99,56.5 444.77,56.93 446.55,57.27 448.33,57.54 450.12,57.76 451.9,57.93" fill="none" stroke="#0a0ae6" stroke-width="0.9"/>
<circle cx="380.6" cy="22.95" r="1.5" fill="#0a0ae6" stroke="none" stroke-width="0"/>
<circle cx="390.05" cy="23.23" r="1.5" fill="#0a0ae6" stroke="none" stroke-width="0"/>
<circle cx="400.38" cy="24.38" r="1.5" fill="#0a0ae6" stroke="none" stroke-width="0"/>
<circle cx="410.64" cy="28.43" r="1.5" fill="#0a0ae6" stroke="none" stroke-width="0"/>
<circle cx="420.97" cy="38.44" r="1.5" fill="#0a0ae6" stroke="none" stroke-width="0"/>
<circle cx="431.28" cy="50.12" r="1.5" fill="#0a0ae6" stroke="none" stroke-width="0"/>
<circle cx="441.58" cy="56.09" r="1.5" fill="#0a0ae6" stroke="none" stroke-width="0"/>
<circle cx="451.9" cy="57.93" r="1.5" fill="#0a0ae6" stroke="none" stroke-width="0"/>
<line x1="390.05" y1="19.25" x2="390.05" y2="27.05" stroke="#0a0ae6" stroke-width="0.6"/>
<line x1="388.85" y1="19.25" x2="391.25" y2="19.25" stroke="#0a0ae6" stroke-width="0.6"/>
<line x1="388.85" y1="27.05" x2="391.25" y2="27.05" stroke="#0a0ae6" stroke-width="0.6"/>
<line x1="400.38" y1="19.85" x2="400.38" y2="27.65" stroke="#0a0ae6" stroke-width="0.6"/>
<line x1="399.18" y1="19.85" x2="401.58" y2="19.85" stroke="#0a0ae6" stroke-width="0.6"/>
<line x1="399.18" y1="27.65" x2="401.58" y2="27.65" stroke="#0a0ae6" stroke-width="0.6"/>
<line x1="410.64" y1="23.45" x2="410.64" y2="30.05" stroke="#0a0ae6" stroke-width="0.6"/>
<line x1="409.44" y1="23.45" x2="411.84" y2="23.45" stroke="#0a0ae6" stroke-width="0.6"/>
<line x1="409.44" y1="30.05" x2="411.84" y2="30.05" stroke="#0a0ae6" stroke-width="0.6"/>
<line x1="400.38" y1="42.65" x2="400.38" y2="54.05" stroke="#ff7f00" stroke-width="0.6"/>
<line x1="399.18" y1="42.65" x2="401.58" y2="42.65" stroke="#ff7f00" stroke-width="0.6"/>
<line x1="399.18" y1="54.05" x2="401.58" y2="54.05" stroke="#ff7f00" stroke-width="0.6"/>
<line x1="380.6" y1="45.65" x2="380.6" y2="51.65" stroke="#ff7f00" stroke-width="0.6"/>
<line x1="379.4" y1="45.65" x2="381.8" y2="45.65" stroke="#ff7f00" stroke-width="0.6"/>
<line x1="379.4" y1="51.65" x2="381.8" y2="51.65" stroke="#ff7f00" stroke-width="0.6"/>
<line x1="365.5" y1="12.75" x2="365.5" y2="85.75" stroke="#000" stroke-width="1.1"/>
<line x1="365" y1="85.25" x2="474" y2="85.25" stroke="#000" stroke-width="1.1"/>
<line x1="362.5" y1="85.25" x2="365.5" y2="85.25" stroke="#000" stroke-width="1.1"/>
<text x="361" y="88.07" font-size="7.88" text-anchor="end">0</text>
<line x1="362.5" y1="73.25" x2="365.5" y2="73.25" stroke="#000" stroke-width="1.1"/>
<text x="361" y="76.07" font-size="7.88" text-anchor="end">20</text>
<line x1="362.5" y1="61.25" x2="365.5" y2="61.25" stroke="#000" stroke-width="1.1"/>
<text x="361" y="64.07" font-size="7.88" text-anchor="end">40</text>
<line x1="362.5" y1="49.25" x2="365.5" y2="49.25" stroke="#000" stroke-width="1.1"/>
<text x="361" y="52.07" font-size="7.88" text-anchor="end">60</text>
<line x1="362.5" y1="37.25" x2="365.5" y2="37.25" stroke="#000" stroke-width="1.1"/>
<text x="361" y="40.07" font-size="7.88" text-anchor="end">80</text>
<line x1="362.5" y1="25.25" x2="365.5" y2="25.25" stroke="#000" stroke-width="1.1"/>
<text x="361" y="28.07" font-size="7.88" text-anchor="end">100</text>
<line x1="362.5" y1="13.25" x2="365.5" y2="13.25" stroke="#000" stroke-width="1.1"/>
<text x="361" y="16.07" font-size="7.88" text-anchor="end">120</text>
<line x1="365.5" y1="85.25" x2="365.5" y2="88.25" stroke="#000" stroke-width="1.1"/>
<text x="363.5" y="98.12" font-size="7.88" text-anchor="middle">0.01</text>
<line x1="387.1" y1="85.25" x2="387.1" y2="88.25" stroke="#000" stroke-width="1.1"/>
<text x="387.1" y="98.12" font-size="7.88" text-anchor="middle">0.1</text>
<line x1="408.7" y1="85.25" x2="408.7" y2="88.25" stroke="#000" stroke-width="1.1"/>
<text x="408.7" y="98.12" font-size="7.88" text-anchor="middle">1</text>
<line x1="430.3" y1="85.25" x2="430.3" y2="88.25" stroke="#000" stroke-width="1.1"/>
<text x="430.3" y="98.12" font-size="7.88" text-anchor="middle">10</text>
<line x1="451.9" y1="85.25" x2="451.9" y2="88.25" stroke="#000" stroke-width="1.1"/>
<text x="451.9" y="98.12" font-size="7.88" text-anchor="middle">100</text>
<line x1="473.5" y1="85.25" x2="473.5" y2="88.25" stroke="#000" stroke-width="1.1"/>
<text x="473.5" y="98.12" font-size="7.88" text-anchor="middle">1,000</text>
<text x="419.5" y="108.22" font-size="7.88" text-anchor="middle">Vepdegestrant (nmol/L)</text>
<text x="330.6" y="51.32" font-size="7.88" text-anchor="middle" transform="rotate(-90 330.6 48.5)">Cell viability (CTG,</text>
<text x="340.4" y="51.32" font-size="7.88" text-anchor="middle" transform="rotate(-90 340.4 48.5)">% of control)</text>
<polygon points="460.5,15.7 471.2,75.7 460.5,75.7" fill="#000" stroke="none" stroke-width="0"/>
<text x="478" y="41.42" font-size="7.88" text-anchor="middle" transform="rotate(-90 478 38.6)">Palbociclib</text>
<text x="487.6" y="41.72" font-size="7.88" text-anchor="middle" transform="rotate(-90 487.6 38.9)">Concentration</text>
<text x="421" y="124.02" font-size="7.88" text-anchor="middle">Bliss (Independence) Model</text>
<line x1="418.2" y1="171.3" x2="418.2" y2="130.3" stroke="#d9d9d9" stroke-width="0.4"/>
<line x1="418.2" y1="171.3" x2="418.2" y2="130.3" stroke="#d9d9d9" stroke-width="0.4"/>
<line x1="411.74" y1="174.73" x2="411.74" y2="133.73" stroke="#d9d9d9" stroke-width="0.4"/>
<line x1="424.69" y1="174.83" x2="424.69" y2="133.83" stroke="#d9d9d9" stroke-width="0.4"/>
<line x1="405.27" y1="178.16" x2="405.27" y2="137.16" stroke="#d9d9d9" stroke-width="0.4"/>
<line x1="431.18" y1="178.35" x2="431.18" y2="137.35" stroke="#d9d9d9" stroke-width="0.4"/>
<line x1="398.81" y1="181.59" x2="398.81" y2="140.59" stroke="#d9d9d9" stroke-width="0.4"/>
<line x1="437.66" y1="181.88" x2="437.66" y2="140.88" stroke="#d9d9d9" stroke-width="0.4"/>
<line x1="392.35" y1="185.03" x2="392.35" y2="144.03" stroke="#d9d9d9" stroke-width="0.4"/>
<line x1="444.15" y1="185.4" x2="444.15" y2="144.4" stroke="#d9d9d9" stroke-width="0.4"/>
<line x1="385.89" y1="188.46" x2="385.89" y2="147.46" stroke="#d9d9d9" stroke-width="0.4"/>
<line x1="450.64" y1="188.93" x2="450.64" y2="147.93" stroke="#d9d9d9" stroke-width="0.4"/>
<line x1="379.43" y1="191.89" x2="379.43" y2="150.89" stroke="#d9d9d9" stroke-width="0.4"/>
<line x1="457.12" y1="192.45" x2="457.12" y2="151.45" stroke="#d9d9d9" stroke-width="0.4"/>
<line x1="372.96" y1="195.32" x2="372.96" y2="154.32" stroke="#d9d9d9" stroke-width="0.4"/>
<line x1="463.61" y1="195.97" x2="463.61" y2="154.97" stroke="#d9d9d9" stroke-width="0.4"/>
<line x1="366.5" y1="198.75" x2="366.5" y2="157.75" stroke="#d9d9d9" stroke-width="0.4"/>
<line x1="470.1" y1="199.5" x2="470.1" y2="158.5" stroke="#d9d9d9" stroke-width="0.4"/>
<polyline points="366.5,198.75 418.2,171.3 470.1,199.5" fill="none" stroke="#d9d9d9" stroke-width="0.4"/>
<polyline points="366.5,180.25 418.2,152.8 470.1,181" fill="none" stroke="#d9d9d9" stroke-width="0.4"/>
<polyline points="366.5,161.75 418.2,134.3 470.1,162.5" fill="none" stroke="#d9d9d9" stroke-width="0.4"/>
<line x1="418.2" y1="171.3" x2="366.5" y2="198.75" stroke="#d9d9d9" stroke-width="0.4"/>
<line x1="418.2" y1="171.3" x2="470.1" y2="199.5" stroke="#d9d9d9" stroke-width="0.4"/>
<line x1="424.69" y1="174.83" x2="372.99" y2="202.28" stroke="#d9d9d9" stroke-width="0.4"/>
<line x1="411.74" y1="174.73" x2="463.64" y2="202.93" stroke="#d9d9d9" stroke-width="0.4"/>
<line x1="431.18" y1="178.35" x2="379.48" y2="205.8" stroke="#d9d9d9" stroke-width="0.4"/>
<line x1="405.27" y1="178.16" x2="457.18" y2="206.36" stroke="#d9d9d9" stroke-width="0.4"/>
<line x1="437.66" y1="181.88" x2="385.96" y2="209.32" stroke="#d9d9d9" stroke-width="0.4"/>
<line x1="398.81" y1="181.59" x2="450.71" y2="209.79" stroke="#d9d9d9" stroke-width="0.4"/>
<line x1="444.15" y1="185.4" x2="392.45" y2="212.85" stroke="#d9d9d9" stroke-width="0.4"/>
<line x1="392.35" y1="185.03" x2="444.25" y2="213.22" stroke="#d9d9d9" stroke-width="0.4"/>
<line x1="450.64" y1="188.93" x2="398.94" y2="216.38" stroke="#d9d9d9" stroke-width="0.4"/>
<line x1="385.89" y1="188.46" x2="437.79" y2="216.66" stroke="#d9d9d9" stroke-width="0.4"/>
<line x1="457.12" y1="192.45" x2="405.43" y2="219.9" stroke="#d9d9d9" stroke-width="0.4"/>
<line x1="379.43" y1="191.89" x2="431.33" y2="220.09" stroke="#d9d9d9" stroke-width="0.4"/>
<line x1="463.61" y1="195.97" x2="411.91" y2="223.42" stroke="#d9d9d9" stroke-width="0.4"/>
<line x1="372.96" y1="195.32" x2="424.86" y2="223.52" stroke="#d9d9d9" stroke-width="0.4"/>
<line x1="470.1" y1="199.5" x2="418.4" y2="226.95" stroke="#d9d9d9" stroke-width="0.4"/>
<line x1="366.5" y1="198.75" x2="418.4" y2="226.95" stroke="#d9d9d9" stroke-width="0.4"/>
<line x1="366.5" y1="198.75" x2="366.5" y2="157.75" stroke="#555" stroke-width="0.5"/>
<polyline points="366.5,198.75 418.4,226.95 470.1,199.5" fill="none" stroke="#555" stroke-width="0.5"/>
<polygon points="418.2,134.3 420.36,134.5 418.21,135.35 416.05,135.16" fill="#bdff42" stroke="#bdff42" stroke-width="0.5"/>
<polygon points="416.05,135.16 418.21,135.35 416.05,136.07 413.89,135.89" fill="#c4ff3b" stroke="#c4ff3b" stroke-width="0.5"/>
<polygon points="420.36,134.5 422.52,134.38 420.37,135.21 418.21,135.35" fill="#c5ff3a" stroke="#c5ff3a" stroke-width="0.5"/>
<polygon points="413.89,135.89 416.05,136.07 413.9,136.79 411.74,136.62" fill="#caff35" stroke="#caff35" stroke-width="0.5"/>
<polygon points="418.21,135.35 420.37,135.21 418.22,135.91 416.05,136.07" fill="#ceff31" stroke="#ceff31" stroke-width="0.5"/>
<polygon points="422.52,134.38 424.69,134.87 422.53,135.69 420.37,135.21" fill="#cbff34" stroke="#cbff34" stroke-width="0.5"/>
<polygon points="411.74,136.62 413.9,136.79 411.75,137.48 409.58,137.33" fill="#cbff34" stroke="#cbff34" stroke-width="0.5"/>
<polygon points="416.05,136.07 418.22,135.91 416.06,136.62 413.9,136.79" fill="#d3ff2c" stroke="#d3ff2c" stroke-width="0.5"/>
<polygon points="420.37,135.21 422.53,135.69 420.38,136.39 418.22,135.91" fill="#d3ff2c" stroke="#d3ff2c" stroke-width="0.5"/>
<polygon points="424.69,134.87 426.85,136.44 424.7,137.27 422.53,135.69" fill="#ccff33" stroke="#ccff33" stroke-width="0.5"/>
<polygon points="409.58,137.33 411.75,137.48 409.59,138.18 407.43,138.04" fill="#caff35" stroke="#caff35" stroke-width="0.5"/>
<polygon points="413.9,136.79 416.06,136.62 413.91,137.29 411.75,137.48" fill="#d5ff2a" stroke="#d5ff2a" stroke-width="0.5"/>
<polygon points="418.22,135.91 420.38,136.39 418.23,137.08 416.06,136.62" fill="#d9ff26" stroke="#d9ff26" stroke-width="0.5"/>
<polygon points="422.53,135.69 424.7,137.27 422.54,137.97 420.38,136.39" fill="#d5ff2a" stroke="#d5ff2a" stroke-width="0.5"/>
<polygon points="426.85,136.44 429.01,138.63 426.86,139.47 424.7,137.27" fill="#caff35" stroke="#caff35" stroke-width="0.5"/>
<polygon points="407.43,138.04 409.59,138.18 407.44,139.09 405.27,138.95" fill="#c5ff3a" stroke="#c5ff3a" stroke-width="0.5"/>
<polygon points="411.75,137.48 413.91,137.29 411.75,137.97 409.59,138.18" fill="#d3ff2c" stroke="#d3ff2c" stroke-width="0.5"/>
<polygon points="416.06,136.62 418.23,137.08 416.07,137.75 413.91,137.29" fill="#dbff24" stroke="#dbff24" stroke-width="0.5"/>
<polygon points="420.38,136.39 422.54,137.97 420.39,138.67 418.23,137.08" fill="#dbff24" stroke="#dbff24" stroke-width="0.5"/>
<polygon points="424.7,137.27 426.86,139.47 424.7,140.19 422.54,137.97" fill="#d2ff2d" stroke="#d2ff2d" stroke-width="0.5"/>
<polygon points="429.01,138.63 431.18,140.98 429.02,141.84 426.86,139.47" fill="#c4ff3b" stroke="#c4ff3b" stroke-width="0.5"/>
<polygon points="405.27,138.95 407.44,139.09 405.28,140.24 403.12,140.1" fill="#bdff42" stroke="#bdff42" stroke-width="0.5"/>
<polygon points="409.59,138.18 411.75,137.97 409.6,138.87 407.44,139.09" fill="#ceff31" stroke="#ceff31" stroke-width="0.5"/>
<polygon points="413.91,137.29 416.07,137.75 413.92,138.42 411.75,137.97" fill="#d9ff26" stroke="#d9ff26" stroke-width="0.5"/>
<polygon points="418.23,137.08 420.39,138.67 418.23,139.35 416.07,137.75" fill="#ddff22" stroke="#ddff22" stroke-width="0.5"/>
<polygon points="422.54,137.97 424.7,140.19 422.55,140.9 420.39,138.67" fill="#d8ff27" stroke="#d8ff27" stroke-width="0.5"/>
<polygon points="426.86,139.47 429.02,141.84 426.87,142.57 424.7,140.19" fill="#ccff33" stroke="#ccff33" stroke-width="0.5"/>
<polygon points="431.18,140.98 433.34,143.35 431.18,144.22 429.02,141.84" fill="#bbff44" stroke="#bbff44" stroke-width="0.5"/>
<polygon points="403.12,140.1 405.28,140.24 403.13,141.6 400.97,141.45" fill="#b3ff4c" stroke="#b3ff4c" stroke-width="0.5"/>
<polygon points="407.44,139.09 409.6,138.87 407.45,140.03 405.28,140.24" fill="#c5ff3a" stroke="#c5ff3a" stroke-width="0.5"/>
<polygon points="411.75,137.97 413.92,138.42 411.76,139.32 409.6,138.87" fill="#d3ff2c" stroke="#d3ff2c" stroke-width="0.5"/>
<polygon points="416.07,137.75 418.23,139.35 416.08,140.03 413.92,138.42" fill="#daff25" stroke="#daff25" stroke-width="0.5"/>
<polygon points="420.39,138.67 422.55,140.9 420.4,141.6 418.23,139.35" fill="#d9ff26" stroke="#d9ff26" stroke-width="0.5"/>
<polygon points="424.7,140.19 426.87,142.57 424.71,143.31 422.55,140.9" fill="#d0ff2f" stroke="#d0ff2f" stroke-width="0.5"/>
<polygon points="429.02,141.84 431.18,144.22 429.03,144.97 426.87,142.57" fill="#c1ff3e" stroke="#c1ff3e" stroke-width="0.5"/>
<polygon points="433.34,143.35 435.5,145.88 433.35,146.76 431.18,144.22" fill="#b0ff4f" stroke="#b0ff4f" stroke-width="0.5"/>
<polygon points="400.97,141.45 403.13,141.6 400.98,143.31 398.81,143.14" fill="#a8ff57" stroke="#a8ff57" stroke-width="0.5"/>
<polygon points="405.28,140.24 407.45,140.03 405.29,141.41 403.13,141.6" fill="#b9ff46" stroke="#b9ff46" stroke-width="0.5"/>
<polygon points="409.6,138.87 411.76,139.32 409.61,140.49 407.45,140.03" fill="#c9ff36" stroke="#c9ff36" stroke-width="0.5"/>
<polygon points="413.92,138.42 416.08,140.03 413.93,140.95 411.76,139.32" fill="#d3ff2c" stroke="#d3ff2c" stroke-width="0.5"/>
<polygon points="418.23,139.35 420.4,141.6 418.24,142.31 416.08,140.03" fill="#d6ff29" stroke="#d6ff29" stroke-width="0.5"/>
<polygon points="422.55,140.9 424.71,143.31 422.56,144.03 420.4,141.6" fill="#d1ff2e" stroke="#d1ff2e" stroke-width="0.5"/>
<polygon points="426.87,142.57 429.03,144.97 426.88,145.73 424.71,143.31" fill="#c5ff3a" stroke="#c5ff3a" stroke-width="0.5"/>
<polygon points="431.18,144.22 433.35,146.76 431.19,147.54 429.03,144.97" fill="#b5ff4a" stroke="#b5ff4a" stroke-width="0.5"/>
<polygon points="435.5,145.88 437.66,148.58 435.51,149.48 433.35,146.76" fill="#a5ff5a" stroke="#a5ff5a" stroke-width="0.5"/>
<polygon points="398.81,143.14 400.98,143.31 398.82,145.45 396.66,145.24" fill="#9cff63" stroke="#9cff63" stroke-width="0.5"/>
<polygon points="403.13,141.6 405.29,141.41 403.14,143.16 400.98,143.31" fill="#acff53" stroke="#acff53" stroke-width="0.5"/>
<polygon points="407.45,140.03 409.61,140.49 407.45,141.89 405.29,141.41" fill="#bcff43" stroke="#bcff43" stroke-width="0.5"/>
<polygon points="411.76,139.32 413.93,140.95 411.77,142.13 409.61,140.49" fill="#c9ff36" stroke="#c9ff36" stroke-width="0.5"/>
<polygon points="416.08,140.03 418.24,142.31 416.09,143.24 413.93,140.95" fill="#cfff30" stroke="#cfff30" stroke-width="0.5"/>
<polygon points="420.4,141.6 422.56,144.03 420.4,144.76 418.24,142.31" fill="#ceff31" stroke="#ceff31" stroke-width="0.5"/>
<polygon points="424.71,143.31 426.88,145.73 424.72,146.47 422.56,144.03" fill="#c5ff3a" stroke="#c5ff3a" stroke-width="0.5"/>
<polygon points="429.03,144.97 431.19,147.54 429.04,148.32 426.88,145.73" fill="#b8ff47" stroke="#b8ff47" stroke-width="0.5"/>
<polygon points="433.35,146.76 435.51,149.48 433.35,150.27 431.19,147.54" fill="#a8ff57" stroke="#a8ff57" stroke-width="0.5"/>
<polygon points="437.66,148.58 439.82,151.44 437.67,152.35 435.51,149.48" fill="#99ff66" stroke="#99ff66" stroke-width="0.5"/>
<polygon points="396.66,145.24 398.82,145.45 396.67,147.93 394.5,147.67" fill="#91ff6e" stroke="#91ff6e" stroke-width="0.5"/>
<polygon points="400.98,143.31 403.14,143.16 400.98,145.35 398.82,145.45" fill="#9fff60" stroke="#9fff60" stroke-width="0.5"/>
<polygon points="405.29,141.41 407.45,141.89 405.3,143.66 403.14,143.16" fill="#aeff51" stroke="#aeff51" stroke-width="0.5"/>
<polygon points="409.61,140.49 411.77,142.13 409.62,143.54 407.45,141.89" fill="#bbff44" stroke="#bbff44" stroke-width="0.5"/>
<polygon points="413.93,140.95 416.09,143.24 413.93,144.44 411.77,142.13" fill="#c4ff3b" stroke="#c4ff3b" stroke-width="0.5"/>
<polygon points="418.24,142.31 420.4,144.76 418.25,145.72 416.09,143.24" fill="#c6ff39" stroke="#c6ff39" stroke-width="0.5"/>
<polygon points="422.56,144.03 424.72,146.47 422.57,147.23 420.4,144.76" fill="#c2ff3d" stroke="#c2ff3d" stroke-width="0.5"/>
<polygon points="426.88,145.73 429.04,148.32 426.88,149.08 424.72,146.47" fill="#b7ff48" stroke="#b7ff48" stroke-width="0.5"/>
<polygon points="431.19,147.54 433.35,150.27 431.2,151.08 429.04,148.32" fill="#a9ff56" stroke="#a9ff56" stroke-width="0.5"/>
<polygon points="435.51,149.48 437.67,152.35 435.52,153.17 433.35,150.27" fill="#9bff64" stroke="#9bff64" stroke-width="0.5"/>
<polygon points="439.82,151.44 441.99,154.47 439.83,155.4 437.67,152.35" fill="#8fff70" stroke="#8fff70" stroke-width="0.5"/>
<polygon points="394.5,147.67 396.67,147.93 394.51,150.62 392.35,150.3" fill="#87ff78" stroke="#87ff78" stroke-width="0.5"/>
<polygon points="398.82,145.45 400.98,145.35 398.83,147.9 396.67,147.93" fill="#92ff6d" stroke="#92ff6d" stroke-width="0.5"/>
<polygon points="403.14,143.16 405.3,143.66 403.15,145.9 400.98,145.35" fill="#9fff60" stroke="#9fff60" stroke-width="0.5"/>
<polygon points="407.45,141.89 409.62,143.54 407.46,145.33 405.3,143.66" fill="#acff53" stroke="#acff53" stroke-width="0.5"/>
<polygon points="411.77,142.13 413.93,144.44 411.78,145.87 409.62,143.54" fill="#b6ff49" stroke="#b6ff49" stroke-width="0.5"/>
<polygon points="416.09,143.24 418.25,145.72 416.1,146.93 413.93,144.44" fill="#bbff44" stroke="#bbff44" stroke-width="0.5"/>
<polygon points="420.4,144.76 422.57,147.23 420.41,148.21 418.25,145.72" fill="#baff45" stroke="#baff45" stroke-width="0.5"/>
<polygon points="424.72,146.47 426.88,149.08 424.73,149.87 422.57,147.23" fill="#b3ff4c" stroke="#b3ff4c" stroke-width="0.5"/>
<polygon points="429.04,148.32 431.2,151.08 429.05,151.87 426.88,149.08" fill="#a8ff57" stroke="#a8ff57" stroke-width="0.5"/>
<polygon points="433.35,150.27 435.52,153.17 433.36,154 431.2,151.08" fill="#9bff64" stroke="#9bff64" stroke-width="0.5"/>
<polygon points="437.67,152.35 439.83,155.4 437.68,156.24 435.52,153.17" fill="#90ff6f" stroke="#90ff6f" stroke-width="0.5"/>
<polygon points="441.99,154.47 444.15,157.65 442,158.61 439.83,155.4" fill="#86ff79" stroke="#86ff79" stroke-width="0.5"/>
<polygon points="392.35,150.3 394.51,150.62 392.36,153.41 390.2,153.03" fill="#7eff81" stroke="#7eff81" stroke-width="0.5"/>
<polygon points="396.67,147.93 398.83,147.9 396.67,150.66 394.51,150.62" fill="#86ff79" stroke="#86ff79" stroke-width="0.5"/>
<polygon points="400.98,145.35 403.15,145.9 400.99,148.49 398.83,147.9" fill="#91ff6e" stroke="#91ff6e" stroke-width="0.5"/>
<polygon points="405.3,143.66 407.46,145.33 405.31,147.58 403.15,145.9" fill="#9cff63" stroke="#9cff63" stroke-width="0.5"/>
<polygon points="409.62,143.54 411.78,145.87 409.62,147.67 407.46,145.33" fill="#a7ff58" stroke="#a7ff58" stroke-width="0.5"/>
<polygon points="413.93,144.44 416.1,146.93 413.94,148.39 411.78,145.87" fill="#adff52" stroke="#adff52" stroke-width="0.5"/>
<polygon points="418.25,145.72 420.41,148.21 418.26,149.45 416.1,146.93" fill="#afff50" stroke="#afff50" stroke-width="0.5"/>
<polygon points="422.57,147.23 424.73,149.87 422.57,150.88 420.41,148.21" fill="#acff53" stroke="#acff53" stroke-width="0.5"/>
<polygon points="426.88,149.08 429.05,151.87 426.89,152.69 424.73,149.87" fill="#a4ff5b" stroke="#a4ff5b" stroke-width="0.5"/>
<polygon points="431.2,151.08 433.36,154 431.21,154.83 429.05,151.87" fill="#99ff66" stroke="#99ff66" stroke-width="0.5"/>
<polygon points="435.52,153.17 437.68,156.24 435.53,157.1 433.36,154" fill="#8fff70" stroke="#8fff70" stroke-width="0.5"/>
<polygon points="439.83,155.4 442,158.61 439.84,159.48 437.68,156.24" fill="#86ff79" stroke="#86ff79" stroke-width="0.5"/>
<polygon points="444.15,157.65 446.31,161.2 444.16,162.18 442,158.61" fill="#80ff7f" stroke="#80ff7f" stroke-width="0.5"/>
<polygon points="390.2,153.03 392.36,153.41 390.2,156.4 388.04,155.96" fill="#77ff88" stroke="#77ff88" stroke-width="0.5"/>
<polygon points="394.51,150.62 396.67,150.66 394.52,153.53 392.36,153.41" fill="#7cff83" stroke="#7cff83" stroke-width="0.5"/>
<polygon points="398.83,147.9 400.99,148.49 398.84,151.32 396.67,150.66" fill="#83ff7c" stroke="#83ff7c" stroke-width="0.5"/>
<polygon points="403.15,145.9 405.31,147.58 403.15,150.19 400.99,148.49" fill="#8dff72" stroke="#8dff72" stroke-width="0.5"/>
<polygon points="407.46,145.33 409.62,147.67 407.47,149.92 405.31,147.58" fill="#96ff69" stroke="#96ff69" stroke-width="0.5"/>
<polygon points="411.78,145.87 413.94,148.39 411.79,150.2 409.62,147.67" fill="#9eff61" stroke="#9eff61" stroke-width="0.5"/>
<polygon points="416.1,146.93 418.26,149.45 416.1,150.93 413.94,148.39" fill="#a2ff5d" stroke="#a2ff5d" stroke-width="0.5"/>
<polygon points="420.41,148.21 422.57,150.88 420.42,152.15 418.26,149.45" fill="#a1ff5e" stroke="#a1ff5e" stroke-width="0.5"/>
<polygon points="424.73,149.87 426.89,152.69 424.74,153.73 422.57,150.88" fill="#9cff63" stroke="#9cff63" stroke-width="0.5"/>
<polygon points="429.05,151.87 431.21,154.83 429.05,155.68 426.89,152.69" fill="#95ff6a" stroke="#95ff6a" stroke-width="0.5"/>
<polygon points="433.36,154 435.53,157.1 433.37,157.96 431.21,154.83" fill="#8cff73" stroke="#8cff73" stroke-width="0.5"/>
<polygon points="437.68,156.24 439.84,159.48 437.69,160.37 435.53,157.1" fill="#84ff7b" stroke="#84ff7b" stroke-width="0.5"/>
<polygon points="442,158.61 444.16,162.18 442,163.08 439.84,159.48" fill="#7fff80" stroke="#7fff80" stroke-width="0.5"/>
<polygon points="446.31,161.2 448.48,164.91 446.32,165.91 444.16,162.18" fill="#7bff84" stroke="#7bff84" stroke-width="0.5"/>
<polygon points="388.04,155.96 390.2,156.4 388.05,159.81 385.89,159.3" fill="#71ff8e" stroke="#71ff8e" stroke-width="0.5"/>
<polygon points="392.36,153.41 394.52,153.53 392.37,156.61 390.2,156.4" fill="#74ff8b" stroke="#74ff8b" stroke-width="0.5"/>
<polygon points="396.67,150.66 398.84,151.32 396.68,154.24 394.52,153.53" fill="#78ff87" stroke="#78ff87" stroke-width="0.5"/>
<polygon points="400.99,148.49 403.15,150.19 401,153.02 398.84,151.32" fill="#7fff80" stroke="#7fff80" stroke-width="0.5"/>
<polygon points="405.31,147.58 407.47,149.92 405.32,152.52 403.15,150.19" fill="#86ff79" stroke="#86ff79" stroke-width="0.5"/>
<polygon points="409.62,147.67 411.79,150.2 409.63,152.45 407.47,149.92" fill="#8dff72" stroke="#8dff72" stroke-width="0.5"/>
<polygon points="413.94,148.39 416.1,150.93 413.95,152.76 411.79,150.2" fill="#92ff6d" stroke="#92ff6d" stroke-width="0.5"/>
<polygon points="418.26,149.45 420.42,152.15 418.27,153.64 416.1,150.93" fill="#94ff6b" stroke="#94ff6b" stroke-width="0.5"/>
<polygon points="422.57,150.88 424.74,153.73 422.58,155.01 420.42,152.15" fill="#92ff6d" stroke="#92ff6d" stroke-width="0.5"/>
<polygon points="426.89,152.69 429.05,155.68 426.9,156.74 424.74,153.73" fill="#8dff72" stroke="#8dff72" stroke-width="0.5"/>
<polygon points="431.21,154.83 433.37,157.96 431.22,158.84 429.05,155.68" fill="#87ff78" stroke="#87ff78" stroke-width="0.5"/>
<polygon points="435.53,157.1 437.69,160.37 435.53,161.25 433.37,157.96" fill="#81ff7e" stroke="#81ff7e" stroke-width="0.5"/>
<polygon points="439.84,159.48 442,163.08 439.85,164 437.69,160.37" fill="#7dff82" stroke="#7dff82" stroke-width="0.5"/>
<polygon points="444.16,162.18 446.32,165.91 444.17,166.85 442,163.08" fill="#7aff85" stroke="#7aff85" stroke-width="0.5"/>
<polygon points="448.48,164.91 450.64,168.21 448.48,169.23 446.32,165.91" fill="#79ff86" stroke="#79ff86" stroke-width="0.5"/>
<polygon points="385.89,159.3 388.05,159.81 385.9,164.07 383.73,163.45" fill="#6eff91" stroke="#6eff91" stroke-width="0.5"/>
<polygon points="390.2,156.4 392.37,156.61 390.21,160.12 388.05,159.81" fill="#6eff91" stroke="#6eff91" stroke-width="0.5"/>
<polygon points="394.52,153.53 396.68,154.24 394.53,157.37 392.37,156.61" fill="#6fff90" stroke="#6fff90" stroke-width="0.5"/>
<polygon points="398.84,151.32 401,153.02 398.85,155.94 396.68,154.24" fill="#73ff8c" stroke="#73ff8c" stroke-width="0.5"/>
<polygon points="403.15,150.19 405.32,152.52 403.16,155.33 401,153.02" fill="#77ff88" stroke="#77ff88" stroke-width="0.5"/>
<polygon points="407.47,149.92 409.63,152.45 407.48,155.05 405.32,152.52" fill="#7dff82" stroke="#7dff82" stroke-width="0.5"/>
<polygon points="411.79,150.2 413.95,152.76 411.8,155.02 409.63,152.45" fill="#82ff7d" stroke="#82ff7d" stroke-width="0.5"/>
<polygon points="416.1,150.93 418.27,153.64 416.11,155.49 413.95,152.76" fill="#85ff7a" stroke="#85ff7a" stroke-width="0.5"/>
<polygon points="420.42,152.15 422.58,155.01 420.43,156.53 418.27,153.64" fill="#85ff7a" stroke="#85ff7a" stroke-width="0.5"/>
<polygon points="424.74,153.73 426.9,156.74 424.75,158.04 422.58,155.01" fill="#84ff7b" stroke="#84ff7b" stroke-width="0.5"/>
<polygon points="429.05,155.68 431.22,158.84 429.06,159.92 426.9,156.74" fill="#80ff7f" stroke="#80ff7f" stroke-width="0.5"/>
<polygon points="433.37,157.96 435.53,161.25 433.38,162.16 431.22,158.84" fill="#7cff83" stroke="#7cff83" stroke-width="0.5"/>
<polygon points="437.69,160.37 439.85,164 437.7,164.91 435.53,161.25" fill="#79ff86" stroke="#79ff86" stroke-width="0.5"/>
<polygon points="442,163.08 444.17,166.85 442.01,167.8 439.85,164" fill="#77ff88" stroke="#77ff88" stroke-width="0.5"/>
<polygon points="446.32,165.91 448.48,169.23 446.33,170.19 444.17,166.85" fill="#77ff88" stroke="#77ff88" stroke-width="0.5"/>
<polygon points="450.64,168.21 452.8,170.84 450.65,171.87 448.48,169.23" fill="#79ff86" stroke="#79ff86" stroke-width="0.5"/>
<polygon points="383.73,163.45 385.9,164.07 383.74,168.74 381.58,168.02" fill="#6cff93" stroke="#6cff93" stroke-width="0.5"/>
<polygon points="388.05,159.81 390.21,160.12 388.06,164.51 385.9,164.07" fill="#69ff96" stroke="#69ff96" stroke-width="0.5"/>
<polygon points="392.37,156.61 394.53,157.37 392.38,160.93 390.21,160.12" fill="#68ff97" stroke="#68ff97" stroke-width="0.5"/>
<polygon points="396.68,154.24 398.85,155.94 396.69,159.06 394.53,157.37" fill="#69ff96" stroke="#69ff96" stroke-width="0.5"/>
<polygon points="401,153.02 403.16,155.33 401.01,158.23 398.85,155.94" fill="#6aff95" stroke="#6aff95" stroke-width="0.5"/>
<polygon points="405.32,152.52 407.48,155.05 405.33,157.85 403.16,155.33" fill="#6dff92" stroke="#6dff92" stroke-width="0.5"/>
<polygon points="409.63,152.45 411.8,155.02 409.64,157.62 407.48,155.05" fill="#71ff8e" stroke="#71ff8e" stroke-width="0.5"/>
<polygon points="413.95,152.76 416.11,155.49 413.96,157.76 411.8,155.02" fill="#74ff8b" stroke="#74ff8b" stroke-width="0.5"/>
<polygon points="418.27,153.64 420.43,156.53 418.28,158.39 416.11,155.49" fill="#77ff88" stroke="#77ff88" stroke-width="0.5"/>
<polygon points="422.58,155.01 424.75,158.04 422.59,159.57 420.43,156.53" fill="#78ff87" stroke="#78ff87" stroke-width="0.5"/>
<polygon points="426.9,156.74 429.06,159.92 426.91,161.23 424.75,158.04" fill="#77ff88" stroke="#77ff88" stroke-width="0.5"/>
<polygon points="431.22,158.84 433.38,162.16 431.22,163.26 429.06,159.92" fill="#75ff8a" stroke="#75ff8a" stroke-width="0.5"/>
<polygon points="435.53,161.25 437.7,164.91 435.54,165.86 433.38,162.16" fill="#74ff8b" stroke="#74ff8b" stroke-width="0.5"/>
<polygon points="439.85,164 442.01,167.8 439.86,168.75 437.7,164.91" fill="#74ff8b" stroke="#74ff8b" stroke-width="0.5"/>
<polygon points="444.17,166.85 446.33,170.19 444.18,171.17 442.01,167.8" fill="#75ff8a" stroke="#75ff8a" stroke-width="0.5"/>
<polygon points="448.48,169.23 450.65,171.87 448.49,172.86 446.33,170.19" fill="#77ff88" stroke="#77ff88" stroke-width="0.5"/>
<polygon points="452.8,170.84 454.96,173.06 452.81,174.11 450.65,171.87" fill="#7bff84" stroke="#7bff84" stroke-width="0.5"/>
<polygon points="381.58,168.02 383.74,168.74 381.59,172.77 379.43,171.96" fill="#6aff95" stroke="#6aff95" stroke-width="0.5"/>
<polygon points="385.9,164.07 388.06,164.51 385.9,169.32 383.74,168.74" fill="#67ff98" stroke="#67ff98" stroke-width="0.5"/>
<polygon points="390.21,160.12 392.38,160.93 390.22,165.38 388.06,164.51" fill="#64ff9b" stroke="#64ff9b" stroke-width="0.5"/>
<polygon points="394.53,157.37 396.69,159.06 394.54,162.6 392.38,160.93" fill="#61ff9e" stroke="#61ff9e" stroke-width="0.5"/>
<polygon points="398.85,155.94 401.01,158.23 398.85,161.32 396.69,159.06" fill="#60ff9f" stroke="#60ff9f" stroke-width="0.5"/>
<polygon points="403.16,155.33 405.33,157.85 403.17,160.72 401.01,158.23" fill="#60ff9f" stroke="#60ff9f" stroke-width="0.5"/>
<polygon points="407.48,155.05 409.64,157.62 407.49,160.41 405.33,157.85" fill="#61ff9e" stroke="#61ff9e" stroke-width="0.5"/>
<polygon points="411.8,155.02 413.96,157.76 411.8,160.35 409.64,157.62" fill="#63ff9c" stroke="#63ff9c" stroke-width="0.5"/>
<polygon points="416.11,155.49 418.28,158.39 416.12,160.65 413.96,157.76" fill="#67ff98" stroke="#67ff98" stroke-width="0.5"/>
<polygon points="420.43,156.53 422.59,159.57 420.44,161.42 418.28,158.39" fill="#69ff96" stroke="#69ff96" stroke-width="0.5"/>
<polygon points="424.75,158.04 426.91,161.23 424.75,162.75 422.59,159.57" fill="#6bff94" stroke="#6bff94" stroke-width="0.5"/>
<polygon points="429.06,159.92 431.22,163.26 429.07,164.56 426.91,161.23" fill="#6dff92" stroke="#6dff92" stroke-width="0.5"/>
<polygon points="433.38,162.16 435.54,165.86 433.39,166.96 431.22,163.26" fill="#6dff92" stroke="#6dff92" stroke-width="0.5"/>
<polygon points="437.7,164.91 439.86,168.75 437.7,169.72 435.54,165.86" fill="#6fff90" stroke="#6fff90" stroke-width="0.5"/>
<polygon points="442.01,167.8 444.18,171.17 442.02,172.15 439.86,168.75" fill="#71ff8e" stroke="#71ff8e" stroke-width="0.5"/>
<polygon points="446.33,170.19 448.49,172.86 446.34,173.85 444.18,171.17" fill="#75ff8a" stroke="#75ff8a" stroke-width="0.5"/>
<polygon points="450.65,171.87 452.81,174.11 450.65,175.1 448.49,172.86" fill="#7aff85" stroke="#7aff85" stroke-width="0.5"/>
<polygon points="454.96,173.06 457.12,175.06 454.97,176.11 452.81,174.11" fill="#81ff7e" stroke="#81ff7e" stroke-width="0.5"/>
<polygon points="379.43,171.96 381.59,172.77 379.43,175.61 377.27,174.75" fill="#6aff95" stroke="#6aff95" stroke-width="0.5"/>
<polygon points="383.74,168.74 385.9,169.32 383.75,173.46 381.59,172.77" fill="#66ff99" stroke="#66ff99" stroke-width="0.5"/>
<polygon points="388.06,164.51 390.22,165.38 388.07,170.27 385.9,169.32" fill="#61ff9e" stroke="#61ff9e" stroke-width="0.5"/>
<polygon points="392.38,160.93 394.54,162.6 392.38,167.01 390.22,165.38" fill="#5cffa3" stroke="#5cffa3" stroke-width="0.5"/>
<polygon points="396.69,159.06 398.85,161.32 396.7,164.79 394.54,162.6" fill="#58ffa7" stroke="#58ffa7" stroke-width="0.5"/>
<polygon points="401.01,158.23 403.17,160.72 401.02,163.76 398.85,161.32" fill="#54ffab" stroke="#54ffab" stroke-width="0.5"/>
<polygon points="405.33,157.85 407.49,160.41 405.33,163.26 403.17,160.72" fill="#53ffac" stroke="#53ffac" stroke-width="0.5"/>
<polygon points="409.64,157.62 411.8,160.35 409.65,163.12 407.49,160.41" fill="#53ffac" stroke="#53ffac" stroke-width="0.5"/>
<polygon points="413.96,157.76 416.12,160.65 413.97,163.22 411.8,160.35" fill="#55ffaa" stroke="#55ffaa" stroke-width="0.5"/>
<polygon points="418.28,158.39 420.44,161.42 418.28,163.66 416.12,160.65" fill="#59ffa6" stroke="#59ffa6" stroke-width="0.5"/>
<polygon points="422.59,159.57 424.75,162.75 422.6,164.58 420.44,161.42" fill="#5effa1" stroke="#5effa1" stroke-width="0.5"/>
<polygon points="426.91,161.23 429.07,164.56 426.92,166.07 424.75,162.75" fill="#62ff9d" stroke="#62ff9d" stroke-width="0.5"/>
<polygon points="431.22,163.26 433.39,166.96 431.23,168.26 429.07,164.56" fill="#65ff9a" stroke="#65ff9a" stroke-width="0.5"/>
<polygon points="435.54,165.86 437.7,169.72 435.55,170.84 433.39,166.96" fill="#68ff97" stroke="#68ff97" stroke-width="0.5"/>
<polygon points="439.86,168.75 442.02,172.15 439.87,173.14 437.7,169.72" fill="#6cff93" stroke="#6cff93" stroke-width="0.5"/>
<polygon points="444.18,171.17 446.34,173.85 444.18,174.84 442.02,172.15" fill="#72ff8d" stroke="#72ff8d" stroke-width="0.5"/>
<polygon points="448.49,172.86 450.65,175.1 448.5,176.11 446.34,173.85" fill="#79ff86" stroke="#79ff86" stroke-width="0.5"/>
<polygon points="452.81,174.11 454.97,176.11 452.82,177.12 450.65,175.1" fill="#81ff7e" stroke="#81ff7e" stroke-width="0.5"/>
<polygon points="457.12,175.06 459.29,176.76 457.13,177.82 454.97,176.11" fill="#8aff75" stroke="#8aff75" stroke-width="0.5"/>
<polygon points="377.27,174.75 379.43,175.61 377.28,177.81 375.12,176.93" fill="#6bff94" stroke="#6bff94" stroke-width="0.5"/>
<polygon points="381.59,172.77 383.75,173.46 381.6,176.36 379.43,175.61" fill="#66ff99" stroke="#66ff99" stroke-width="0.5"/>
<polygon points="385.9,169.32 388.07,170.27 385.91,174.46 383.75,173.46" fill="#60ff9f" stroke="#60ff9f" stroke-width="0.5"/>
<polygon points="390.22,165.38 392.38,167.01 390.23,171.83 388.07,170.27" fill="#5affa5" stroke="#5affa5" stroke-width="0.5"/>
<polygon points="394.54,162.6 396.7,164.79 394.55,169.08 392.38,167.01" fill="#53ffac" stroke="#53ffac" stroke-width="0.5"/>
<polygon points="398.85,161.32 401.02,163.76 398.86,167.16 396.7,164.79" fill="#4cffb3" stroke="#4cffb3" stroke-width="0.5"/>
<polygon points="403.17,160.72 405.33,163.26 403.18,166.25 401.02,163.76" fill="#46ffb9" stroke="#46ffb9" stroke-width="0.5"/>
<polygon points="407.49,160.41 409.65,163.12 407.5,165.95 405.33,163.26" fill="#43ffbc" stroke="#43ffbc" stroke-width="0.5"/>
<polygon points="411.8,160.35 413.97,163.22 411.81,165.96 409.65,163.12" fill="#44ffbb" stroke="#44ffbb" stroke-width="0.5"/>
<polygon points="416.12,160.65 418.28,163.66 416.13,166.19 413.97,163.22" fill="#48ffb7" stroke="#48ffb7" stroke-width="0.5"/>
<polygon points="420.44,161.42 422.6,164.58 420.45,166.78 418.28,163.66" fill="#4effb1" stroke="#4effb1" stroke-width="0.5"/>
<polygon points="424.75,162.75 426.92,166.07 424.76,167.87 422.6,164.58" fill="#54ffab" stroke="#54ffab" stroke-width="0.5"/>
<polygon points="429.07,164.56 431.23,168.26 429.08,169.74 426.92,166.07" fill="#5bffa4" stroke="#5bffa4" stroke-width="0.5"/>
<polygon points="433.39,166.96 435.55,170.84 433.4,172.12 431.23,168.26" fill="#61ff9e" stroke="#61ff9e" stroke-width="0.5"/>
<polygon points="437.7,169.72 439.87,173.14 437.71,174.26 435.55,170.84" fill="#67ff98" stroke="#67ff98" stroke-width="0.5"/>
<polygon points="442.02,172.15 444.18,174.84 442.03,175.85 439.87,173.14" fill="#6eff91" stroke="#6eff91" stroke-width="0.5"/>
<polygon points="446.34,173.85 448.5,176.11 446.35,177.11 444.18,174.84" fill="#77ff88" stroke="#77ff88" stroke-width="0.5"/>
<polygon points="450.65,175.1 452.82,177.12 450.66,178.13 448.5,176.11" fill="#81ff7e" stroke="#81ff7e" stroke-width="0.5"/>
<polygon points="454.97,176.11 457.13,177.82 454.98,178.83 452.82,177.12" fill="#8cff73" stroke="#8cff73" stroke-width="0.5"/>
<polygon points="459.29,176.76 461.45,178.24 459.3,179.3 457.13,177.82" fill="#95ff6a" stroke="#95ff6a" stroke-width="0.5"/>
<polygon points="375.12,176.93 377.28,177.81 375.12,179.97 372.96,179.06" fill="#6cff93" stroke="#6cff93" stroke-width="0.5"/>
<polygon points="379.43,175.61 381.6,176.36 379.44,178.6 377.28,177.81" fill="#67ff98" stroke="#67ff98" stroke-width="0.5"/>
<polygon points="383.75,173.46 385.91,174.46 383.76,177.38 381.6,176.36" fill="#60ff9f" stroke="#60ff9f" stroke-width="0.5"/>
<polygon points="388.07,170.27 390.23,171.83 388.08,175.96 385.91,174.46" fill="#59ffa6" stroke="#59ffa6" stroke-width="0.5"/>
<polygon points="392.38,167.01 394.55,169.08 392.39,173.77 390.23,171.83" fill="#50ffaf" stroke="#50ffaf" stroke-width="0.5"/>
<polygon points="396.7,164.79 398.86,167.16 396.71,171.32 394.55,169.08" fill="#46ffb9" stroke="#46ffb9" stroke-width="0.5"/>
<polygon points="401.02,163.76 403.18,166.25 401.02,169.57 398.86,167.16" fill="#3dffc2" stroke="#3dffc2" stroke-width="0.5"/>
<polygon points="405.33,163.26 407.5,165.95 405.34,168.89 403.18,166.25" fill="#36ffc9" stroke="#36ffc9" stroke-width="0.5"/>
<polygon points="409.65,163.12 411.81,165.96 409.66,168.74 407.5,165.95" fill="#33ffcc" stroke="#33ffcc" stroke-width="0.5"/>
<polygon points="413.97,163.22 416.13,166.19 413.98,168.89 411.81,165.96" fill="#35ffca" stroke="#35ffca" stroke-width="0.5"/>
<polygon points="418.28,163.66 420.45,166.78 418.29,169.25 416.13,166.19" fill="#3cffc3" stroke="#3cffc3" stroke-width="0.5"/>
<polygon points="422.6,164.58 424.76,167.87 422.61,170 420.45,166.78" fill="#45ffba" stroke="#45ffba" stroke-width="0.5"/>
<polygon points="426.92,166.07 429.08,169.74 426.93,171.48 424.76,167.87" fill="#4effb1" stroke="#4effb1" stroke-width="0.5"/>
<polygon points="431.23,168.26 433.4,172.12 431.24,173.56 429.08,169.74" fill="#57ffa8" stroke="#57ffa8" stroke-width="0.5"/>
<polygon points="435.55,170.84 437.71,174.26 435.56,175.52 433.4,172.12" fill="#5fffa0" stroke="#5fffa0" stroke-width="0.5"/>
<polygon points="439.87,173.14 442.03,175.85 439.88,176.96 437.71,174.26" fill="#68ff97" stroke="#68ff97" stroke-width="0.5"/>
<polygon points="444.18,174.84 446.35,177.11 444.19,178.12 442.03,175.85" fill="#73ff8c" stroke="#73ff8c" stroke-width="0.5"/>
<polygon points="448.5,176.11 450.66,178.13 448.51,179.14 446.35,177.11" fill="#80ff7f" stroke="#80ff7f" stroke-width="0.5"/>
<polygon points="452.82,177.12 454.98,178.83 452.83,179.85 450.66,178.13" fill="#8fff70" stroke="#8fff70" stroke-width="0.5"/>
<polygon points="457.13,177.82 459.3,179.3 457.14,180.31 454.98,178.83" fill="#9bff64" stroke="#9bff64" stroke-width="0.5"/>
<polygon points="461.45,178.24 463.61,179.88 461.46,180.94 459.3,179.3" fill="#a2ff5d" stroke="#a2ff5d" stroke-width="0.5"/>
<polygon points="372.96,179.06 375.12,179.97 372.97,182.4 370.81,181.46" fill="#6dff92" stroke="#6dff92" stroke-width="0.5"/>
<polygon points="377.28,177.81 379.44,178.6 377.29,180.79 375.12,179.97" fill="#68ff97" stroke="#68ff97" stroke-width="0.5"/>
<polygon points="381.6,176.36 383.76,177.38 381.6,179.61 379.44,178.6" fill="#61ff9e" stroke="#61ff9e" stroke-width="0.5"/>
<polygon points="385.91,174.46 388.08,175.96 385.92,178.83 383.76,177.38" fill="#59ffa6" stroke="#59ffa6" stroke-width="0.5"/>
<polygon points="390.23,171.83 392.39,173.77 390.24,177.77 388.08,175.96" fill="#50ffaf" stroke="#50ffaf" stroke-width="0.5"/>
<polygon points="394.55,169.08 396.71,171.32 394.55,175.84 392.39,173.77" fill="#44ffbb" stroke="#44ffbb" stroke-width="0.5"/>
<polygon points="398.86,167.16 401.02,169.57 398.87,173.6 396.71,171.32" fill="#37ffc8" stroke="#37ffc8" stroke-width="0.5"/>
<polygon points="403.18,166.25 405.34,168.89 403.19,172.11 401.02,169.57" fill="#2cffd3" stroke="#2cffd3" stroke-width="0.5"/>
<polygon points="407.5,165.95 409.66,168.74 407.5,171.61 405.34,168.89" fill="#24ffdb" stroke="#24ffdb" stroke-width="0.5"/>
<polygon points="411.81,165.96 413.98,168.89 411.82,171.6 409.66,168.74" fill="#23ffdc" stroke="#23ffdc" stroke-width="0.5"/>
<polygon points="416.13,166.19 418.29,169.25 416.14,171.87 413.98,168.89" fill="#29ffd6" stroke="#29ffd6" stroke-width="0.5"/>
<polygon points="420.45,166.78 422.61,170 420.45,172.38 418.29,169.25" fill="#33ffcc" stroke="#33ffcc" stroke-width="0.5"/>
<polygon points="424.76,167.87 426.93,171.48 424.77,173.51 422.61,170" fill="#3fffc0" stroke="#3fffc0" stroke-width="0.5"/>
<polygon points="429.08,169.74 431.24,173.56 429.09,175.22 426.93,171.48" fill="#4bffb4" stroke="#4bffb4" stroke-width="0.5"/>
<polygon points="433.4,172.12 435.56,175.52 433.4,176.91 431.24,173.56" fill="#57ffa8" stroke="#57ffa8" stroke-width="0.5"/>
<polygon points="437.71,174.26 439.88,176.96 437.72,178.2 435.56,175.52" fill="#62ff9d" stroke="#62ff9d" stroke-width="0.5"/>
<polygon points="442.03,175.85 444.19,178.12 442.04,179.23 439.88,176.96" fill="#6fff90" stroke="#6fff90" stroke-width="0.5"/>
<polygon points="446.35,177.11 448.51,179.14 446.35,180.16 444.19,178.12" fill="#7eff81" stroke="#7eff81" stroke-width="0.5"/>
<polygon points="450.66,178.13 452.83,179.85 450.67,180.86 448.51,179.14" fill="#8fff70" stroke="#8fff70" stroke-width="0.5"/>
<polygon points="454.98,178.83 457.14,180.31 454.99,181.33 452.83,179.85" fill="#a0ff5f" stroke="#a0ff5f" stroke-width="0.5"/>
<polygon points="459.3,179.3 461.46,180.94 459.3,181.96 457.14,180.31" fill="#aaff55" stroke="#aaff55" stroke-width="0.5"/>
<polygon points="463.61,179.88 465.78,181.97 463.62,183.04 461.46,180.94" fill="#adff52" stroke="#adff52" stroke-width="0.5"/>
<polygon points="370.81,181.46 372.97,182.4 370.82,184.79 368.65,183.82" fill="#6fff90" stroke="#6fff90" stroke-width="0.5"/>
<polygon points="375.12,179.97 377.29,180.79 375.13,183.26 372.97,182.4" fill="#6aff95" stroke="#6aff95" stroke-width="0.5"/>
<polygon points="379.44,178.6 381.6,179.61 379.45,181.81 377.29,180.79" fill="#63ff9c" stroke="#63ff9c" stroke-width="0.5"/>
<polygon points="383.76,177.38 385.92,178.83 383.77,181.02 381.6,179.61" fill="#5bffa4" stroke="#5bffa4" stroke-width="0.5"/>
<polygon points="388.08,175.96 390.24,177.77 388.08,180.55 385.92,178.83" fill="#51ffae" stroke="#51ffae" stroke-width="0.5"/>
<polygon points="392.39,173.77 394.55,175.84 392.4,179.7 390.24,177.77" fill="#44ffbb" stroke="#44ffbb" stroke-width="0.5"/>
<polygon points="396.71,171.32 398.87,173.6 396.72,177.96 394.55,175.84" fill="#35ffca" stroke="#35ffca" stroke-width="0.5"/>
<polygon points="401.02,169.57 403.19,172.11 401.03,176 398.87,173.6" fill="#25ffda" stroke="#25ffda" stroke-width="0.5"/>
<polygon points="405.34,168.89 407.5,171.61 405.35,174.74 403.19,172.11" fill="#19ffe6" stroke="#19ffe6" stroke-width="0.5"/>
<polygon points="409.66,168.74 411.82,171.6 409.67,174.4 407.5,171.61" fill="#13ffec" stroke="#13ffec" stroke-width="0.5"/>
<polygon points="413.98,168.89 416.14,171.87 413.98,174.5 411.82,171.6" fill="#15ffea" stroke="#15ffea" stroke-width="0.5"/>
<polygon points="418.29,169.25 420.45,172.38 418.3,174.9 416.14,171.87" fill="#1fffe0" stroke="#1fffe0" stroke-width="0.5"/>
<polygon points="422.61,170 424.77,173.51 422.62,175.77 420.45,172.38" fill="#2effd1" stroke="#2effd1" stroke-width="0.5"/>
<polygon points="426.93,171.48 429.09,175.22 426.93,177.14 424.77,173.51" fill="#3dffc2" stroke="#3dffc2" stroke-width="0.5"/>
<polygon points="431.24,173.56 433.4,176.91 431.25,178.5 429.09,175.22" fill="#4cffb3" stroke="#4cffb3" stroke-width="0.5"/>
<polygon points="435.56,175.52 437.72,178.2 435.57,179.55 433.4,176.91" fill="#5affa5" stroke="#5affa5" stroke-width="0.5"/>
<polygon points="439.88,176.96 442.04,179.23 439.88,180.44 437.72,178.2" fill="#69ff96" stroke="#69ff96" stroke-width="0.5"/>
<polygon points="444.19,178.12 446.35,180.16 444.2,181.25 442.04,179.23" fill="#7aff85" stroke="#7aff85" stroke-width="0.5"/>
<polygon points="448.51,179.14 450.67,180.86 448.52,181.88 446.35,180.16" fill="#8fff70" stroke="#8fff70" stroke-width="0.5"/>
<polygon points="452.83,179.85 454.99,181.33 452.83,182.35 450.67,180.86" fill="#a3ff5c" stroke="#a3ff5c" stroke-width="0.5"/>
<polygon points="457.14,180.31 459.3,181.96 457.15,182.99 454.99,181.33" fill="#b2ff4d" stroke="#b2ff4d" stroke-width="0.5"/>
<polygon points="461.46,180.94 463.62,183.04 461.47,184.08 459.3,181.96" fill="#b8ff47" stroke="#b8ff47" stroke-width="0.5"/>
<polygon points="465.78,181.97 467.94,184.23 465.78,185.31 463.62,183.04" fill="#b2ff4d" stroke="#b2ff4d" stroke-width="0.5"/>
<polygon points="368.65,183.82 370.82,184.79 368.66,186.81 366.5,185.81" fill="#70ff8f" stroke="#70ff8f" stroke-width="0.5"/>
<polygon points="372.97,182.4 375.13,183.26 372.98,185.7 370.82,184.79" fill="#6cff93" stroke="#6cff93" stroke-width="0.5"/>
<polygon points="377.29,180.79 379.45,181.81 377.3,184.3 375.13,183.26" fill="#66ff99" stroke="#66ff99" stroke-width="0.5"/>
<polygon points="381.6,179.61 383.77,181.02 381.61,183.18 379.45,181.81" fill="#5effa1" stroke="#5effa1" stroke-width="0.5"/>
<polygon points="385.92,178.83 388.08,180.55 385.93,182.67 383.77,181.02" fill="#54ffab" stroke="#54ffab" stroke-width="0.5"/>
<polygon points="390.24,177.77 392.4,179.7 390.25,182.36 388.08,180.55" fill="#46ffb9" stroke="#46ffb9" stroke-width="0.5"/>
<polygon points="394.55,175.84 396.72,177.96 394.56,181.66 392.4,179.7" fill="#36ffc9" stroke="#36ffc9" stroke-width="0.5"/>
<polygon points="398.87,173.6 401.03,176 398.88,180.17 396.72,177.96" fill="#23ffdc" stroke="#23ffdc" stroke-width="0.5"/>
<polygon points="403.19,172.11 405.35,174.74 403.2,178.46 401.03,176" fill="#11ffee" stroke="#11ffee" stroke-width="0.5"/>
<polygon points="407.5,171.61 409.67,174.4 407.51,177.4 405.35,174.74" fill="#06fff9" stroke="#06fff9" stroke-width="0.5"/>
<polygon points="411.82,171.6 413.98,174.5 411.83,177.19 409.67,174.4" fill="#03fffc" stroke="#03fffc" stroke-width="0.5"/>
<polygon points="416.14,171.87 418.3,174.9 416.15,177.42 413.98,174.5" fill="#0bfff4" stroke="#0bfff4" stroke-width="0.5"/>
<polygon points="420.45,172.38 422.62,175.77 420.46,178.15 418.3,174.9" fill="#1affe5" stroke="#1affe5" stroke-width="0.5"/>
<polygon points="424.77,173.51 426.93,177.14 424.78,179.25 422.62,175.77" fill="#2dffd2" stroke="#2dffd2" stroke-width="0.5"/>
<polygon points="429.09,175.22 431.25,178.5 429.1,180.3 426.93,177.14" fill="#3fffc0" stroke="#3fffc0" stroke-width="0.5"/>
<polygon points="433.4,176.91 435.57,179.55 433.41,181.07 431.25,178.5" fill="#50ffaf" stroke="#50ffaf" stroke-width="0.5"/>
<polygon points="437.72,178.2 439.88,180.44 437.73,181.75 435.57,179.55" fill="#61ff9e" stroke="#61ff9e" stroke-width="0.5"/>
<polygon points="442.04,179.23 444.2,181.25 442.05,182.45 439.88,180.44" fill="#75ff8a" stroke="#75ff8a" stroke-width="0.5"/>
<polygon points="446.35,180.16 448.52,181.88 446.36,182.97 444.2,181.25" fill="#8cff73" stroke="#8cff73" stroke-width="0.5"/>
<polygon points="450.67,180.86 452.83,182.35 450.68,183.36 448.52,181.88" fill="#a4ff5b" stroke="#a4ff5b" stroke-width="0.5"/>
<polygon points="454.99,181.33 457.15,182.99 455,184.01 452.83,182.35" fill="#b8ff47" stroke="#b8ff47" stroke-width="0.5"/>
<polygon points="459.3,181.96 461.47,184.08 459.31,185.11 457.15,182.99" fill="#c2ff3d" stroke="#c2ff3d" stroke-width="0.5"/>
<polygon points="463.62,183.04 465.78,185.31 463.63,186.36 461.47,184.08" fill="#bfff40" stroke="#bfff40" stroke-width="0.5"/>
<polygon points="467.94,184.23 470.1,186.18 467.95,187.27 465.78,185.31" fill="#b2ff4d" stroke="#b2ff4d" stroke-width="0.5"/>
<polygon points="370.82,184.79 372.98,185.7 370.82,187.75 368.66,186.81" fill="#6eff91" stroke="#6eff91" stroke-width="0.5"/>
<polygon points="375.13,183.26 377.3,184.3 375.14,186.75 372.98,185.7" fill="#68ff97" stroke="#68ff97" stroke-width="0.5"/>
<polygon points="379.45,181.81 381.61,183.18 379.46,185.63 377.3,184.3" fill="#61ff9e" stroke="#61ff9e" stroke-width="0.5"/>
<polygon points="383.77,181.02 385.93,182.67 383.77,184.75 381.61,183.18" fill="#57ffa8" stroke="#57ffa8" stroke-width="0.5"/>
<polygon points="388.08,180.55 390.25,182.36 388.09,184.4 385.93,182.67" fill="#4affb5" stroke="#4affb5" stroke-width="0.5"/>
<polygon points="392.4,179.7 394.56,181.66 392.41,184.21 390.25,182.36" fill="#3affc5" stroke="#3affc5" stroke-width="0.5"/>
<polygon points="396.72,177.96 398.88,180.17 396.73,183.7 394.56,181.66" fill="#25ffda" stroke="#25ffda" stroke-width="0.5"/>
<polygon points="401.03,176 403.2,178.46 401.04,182.43 398.88,180.17" fill="#10ffef" stroke="#10ffef" stroke-width="0.5"/>
<polygon points="405.35,174.74 407.51,177.4 405.36,180.94 403.2,178.46" fill="#00fdff" stroke="#00fdff" stroke-width="0.5"/>
<polygon points="409.67,174.4 411.83,177.19 409.68,180.07 407.51,177.4" fill="#00f4ff" stroke="#00f4ff" stroke-width="0.5"/>
<polygon points="413.98,174.5 416.15,177.42 413.99,179.99 411.83,177.19" fill="#00f7ff" stroke="#00f7ff" stroke-width="0.5"/>
<polygon points="418.3,174.9 420.46,178.15 418.31,180.53 416.15,177.42" fill="#06fff9" stroke="#06fff9" stroke-width="0.5"/>
<polygon points="422.62,175.77 424.78,179.25 422.62,181.46 420.46,178.15" fill="#1bffe4" stroke="#1bffe4" stroke-width="0.5"/>
<polygon points="426.93,177.14 429.1,180.3 426.94,182.28 424.78,179.25" fill="#30ffcf" stroke="#30ffcf" stroke-width="0.5"/>
<polygon points="431.25,178.5 433.41,181.07 431.26,182.78 429.1,180.3" fill="#45ffba" stroke="#45ffba" stroke-width="0.5"/>
<polygon points="435.57,179.55 437.73,181.75 435.58,183.21 433.41,181.07" fill="#58ffa7" stroke="#58ffa7" stroke-width="0.5"/>
<polygon points="439.88,180.44 442.05,182.45 439.89,183.73 437.73,181.75" fill="#6eff91" stroke="#6eff91" stroke-width="0.5"/>
<polygon points="444.2,181.25 446.36,182.97 444.21,184.15 442.05,182.45" fill="#87ff78" stroke="#87ff78" stroke-width="0.5"/>
<polygon points="448.52,181.88 450.68,183.36 448.53,184.45 446.36,182.97" fill="#a3ff5c" stroke="#a3ff5c" stroke-width="0.5"/>
<polygon points="452.83,182.35 455,184.01 452.84,185.03 450.68,183.36" fill="#bbff44" stroke="#bbff44" stroke-width="0.5"/>
<polygon points="457.15,182.99 459.31,185.11 457.16,186.15 455,184.01" fill="#caff35" stroke="#caff35" stroke-width="0.5"/>
<polygon points="461.47,184.08 463.63,186.36 461.48,187.41 459.31,185.11" fill="#cbff34" stroke="#cbff34" stroke-width="0.5"/>
<polygon points="465.78,185.31 467.95,187.27 465.79,188.33 463.63,186.36" fill="#beff41" stroke="#beff41" stroke-width="0.5"/>
<polygon points="372.98,185.7 375.14,186.75 372.99,188.81 370.82,187.75" fill="#6aff95" stroke="#6aff95" stroke-width="0.5"/>
<polygon points="377.3,184.3 379.46,185.63 377.3,188.05 375.14,186.75" fill="#64ff9b" stroke="#64ff9b" stroke-width="0.5"/>
<polygon points="381.61,183.18 383.77,184.75 381.62,187.13 379.46,185.63" fill="#5bffa4" stroke="#5bffa4" stroke-width="0.5"/>
<polygon points="385.93,182.67 388.09,184.4 385.94,186.4 383.77,184.75" fill="#4fffb0" stroke="#4fffb0" stroke-width="0.5"/>
<polygon points="390.25,182.36 392.41,184.21 390.25,186.15 388.09,184.4" fill="#3fffc0" stroke="#3fffc0" stroke-width="0.5"/>
<polygon points="394.56,181.66 396.73,183.7 394.57,186.12 392.41,184.21" fill="#2bffd4" stroke="#2bffd4" stroke-width="0.5"/>
<polygon points="398.88,180.17 401.04,182.43 398.89,185.77 396.73,183.7" fill="#13ffec" stroke="#13ffec" stroke-width="0.5"/>
<polygon points="403.2,178.46 405.36,180.94 403.2,184.7 401.04,182.43" fill="#00fbff" stroke="#00fbff" stroke-width="0.5"/>
<polygon points="407.51,177.4 409.68,180.07 407.52,183.42 405.36,180.94" fill="#00ebff" stroke="#00ebff" stroke-width="0.5"/>
<polygon points="411.83,177.19 413.99,179.99 411.84,182.71 409.68,180.07" fill="#00e8ff" stroke="#00e8ff" stroke-width="0.5"/>
<polygon points="416.15,177.42 418.31,180.53 416.15,182.94 413.99,179.99" fill="#00f2ff" stroke="#00f2ff" stroke-width="0.5"/>
<polygon points="420.46,178.15 422.62,181.46 420.47,183.68 418.31,180.53" fill="#07fff8" stroke="#07fff8" stroke-width="0.5"/>
<polygon points="424.78,179.25 426.94,182.28 424.79,184.34 422.62,181.46" fill="#20ffdf" stroke="#20ffdf" stroke-width="0.5"/>
<polygon points="429.1,180.3 431.26,182.78 429.1,184.64 426.94,182.28" fill="#38ffc7" stroke="#38ffc7" stroke-width="0.5"/>
<polygon points="433.41,181.07 435.58,183.21 433.42,184.85 431.26,182.78" fill="#4effb1" stroke="#4effb1" stroke-width="0.5"/>
<polygon points="437.73,181.75 439.89,183.73 437.74,185.14 435.58,183.21" fill="#66ff99" stroke="#66ff99" stroke-width="0.5"/>
<polygon points="442.05,182.45 444.21,184.15 442.05,185.4 439.89,183.73" fill="#81ff7e" stroke="#81ff7e" stroke-width="0.5"/>
<polygon points="446.36,182.97 448.53,184.45 446.37,185.61 444.21,184.15" fill="#9eff61" stroke="#9eff61" stroke-width="0.5"/>
<polygon points="450.68,183.36 452.84,185.03 450.69,186.11 448.53,184.45" fill="#bbff44" stroke="#bbff44" stroke-width="0.5"/>
<polygon points="455,184.01 457.16,186.15 455,187.18 452.84,185.03" fill="#cfff30" stroke="#cfff30" stroke-width="0.5"/>
<polygon points="459.31,185.11 461.48,187.41 459.32,188.46 457.16,186.15" fill="#d4ff2b" stroke="#d4ff2b" stroke-width="0.5"/>
<polygon points="463.63,186.36 465.79,188.33 463.64,189.39 461.48,187.41" fill="#caff35" stroke="#caff35" stroke-width="0.5"/>
<polygon points="375.14,186.75 377.3,188.05 375.15,190.08 372.99,188.81" fill="#67ff98" stroke="#67ff98" stroke-width="0.5"/>
<polygon points="379.46,185.63 381.62,187.13 379.47,189.49 377.3,188.05" fill="#5fffa0" stroke="#5fffa0" stroke-width="0.5"/>
<polygon points="383.77,184.75 385.94,186.4 383.78,188.69 381.62,187.13" fill="#55ffaa" stroke="#55ffaa" stroke-width="0.5"/>
<polygon points="388.09,184.4 390.25,186.15 388.1,188.07 385.94,186.4" fill="#46ffb9" stroke="#46ffb9" stroke-width="0.5"/>
<polygon points="392.41,184.21 394.57,186.12 392.42,187.96 390.25,186.15" fill="#33ffcc" stroke="#33ffcc" stroke-width="0.5"/>
<polygon points="396.73,183.7 398.89,185.77 396.73,188.06 394.57,186.12" fill="#1bffe4" stroke="#1bffe4" stroke-width="0.5"/>
<polygon points="401.04,182.43 403.2,184.7 401.05,187.86 398.89,185.77" fill="#01fffe" stroke="#01fffe" stroke-width="0.5"/>
<polygon points="405.36,180.94 407.52,183.42 405.37,186.95 403.2,184.7" fill="#00eaff" stroke="#00eaff" stroke-width="0.5"/>
<polygon points="409.68,180.07 411.84,182.71 409.68,185.86 407.52,183.42" fill="#00dfff" stroke="#00dfff" stroke-width="0.5"/>
<polygon points="413.99,179.99 416.15,182.94 414,185.48 411.84,182.71" fill="#00e3ff" stroke="#00e3ff" stroke-width="0.5"/>
<polygon points="418.31,180.53 420.47,183.68 418.32,185.92 416.15,182.94" fill="#00f5ff" stroke="#00f5ff" stroke-width="0.5"/>
<polygon points="422.62,181.46 424.79,184.34 422.63,186.4 420.47,183.68" fill="#0efff1" stroke="#0efff1" stroke-width="0.5"/>
<polygon points="426.94,182.28 429.1,184.64 426.95,186.57 424.79,184.34" fill="#29ffd6" stroke="#29ffd6" stroke-width="0.5"/>
<polygon points="431.26,182.78 433.42,184.85 431.27,186.61 429.1,184.64" fill="#43ffbc" stroke="#43ffbc" stroke-width="0.5"/>
<polygon points="435.58,183.21 437.74,185.14 435.58,186.7 433.42,184.85" fill="#5cffa3" stroke="#5cffa3" stroke-width="0.5"/>
<polygon points="439.89,183.73 442.05,185.4 439.9,186.77 437.74,185.14" fill="#78ff87" stroke="#78ff87" stroke-width="0.5"/>
<polygon points="444.21,184.15 446.37,185.61 444.22,186.85 442.05,185.4" fill="#98ff67" stroke="#98ff67" stroke-width="0.5"/>
<polygon points="448.53,184.45 450.69,186.11 448.53,187.27 446.37,185.61" fill="#b7ff48" stroke="#b7ff48" stroke-width="0.5"/>
<polygon points="452.84,185.03 455,187.18 452.85,188.26 450.69,186.11" fill="#d0ff2f" stroke="#d0ff2f" stroke-width="0.5"/>
<polygon points="457.16,186.15 459.32,188.46 457.17,189.5 455,187.18" fill="#daff25" stroke="#daff25" stroke-width="0.5"/>
<polygon points="461.48,187.41 463.64,189.39 461.48,190.45 459.32,188.46" fill="#d4ff2b" stroke="#d4ff2b" stroke-width="0.5"/>
<polygon points="377.3,188.05 379.47,189.49 377.31,191.47 375.15,190.08" fill="#63ff9c" stroke="#63ff9c" stroke-width="0.5"/>
<polygon points="381.62,187.13 383.78,188.69 381.63,190.97 379.47,189.49" fill="#5affa5" stroke="#5affa5" stroke-width="0.5"/>
<polygon points="385.94,186.4 388.1,188.07 385.95,190.27 383.78,188.69" fill="#4dffb2" stroke="#4dffb2" stroke-width="0.5"/>
<polygon points="390.25,186.15 392.42,187.96 390.26,189.78 388.1,188.07" fill="#3cffc3" stroke="#3cffc3" stroke-width="0.5"/>
<polygon points="394.57,186.12 396.73,188.06 394.58,189.81 392.42,187.96" fill="#25ffda" stroke="#25ffda" stroke-width="0.5"/>
<polygon points="398.89,185.77 401.05,187.86 398.9,190.02 396.73,188.06" fill="#0bfff4" stroke="#0bfff4" stroke-width="0.5"/>
<polygon points="403.2,184.7 405.37,186.95 403.21,189.92 401.05,187.86" fill="#00f0ff" stroke="#00f0ff" stroke-width="0.5"/>
<polygon points="407.52,183.42 409.68,185.86 407.53,189.16 405.37,186.95" fill="#00deff" stroke="#00deff" stroke-width="0.5"/>
<polygon points="411.84,182.71 414,185.48 411.85,188.39 409.68,185.86" fill="#00dbff" stroke="#00dbff" stroke-width="0.5"/>
<polygon points="416.15,182.94 418.32,185.92 416.16,188.26 414,185.48" fill="#00e7ff" stroke="#00e7ff" stroke-width="0.5"/>
<polygon points="420.47,183.68 422.63,186.4 420.48,188.48 418.32,185.92" fill="#00feff" stroke="#00feff" stroke-width="0.5"/>
<polygon points="424.79,184.34 426.95,186.57 424.8,188.52 422.63,186.4" fill="#1bffe4" stroke="#1bffe4" stroke-width="0.5"/>
<polygon points="429.1,184.64 431.27,186.61 429.11,188.44 426.95,186.57" fill="#37ffc8" stroke="#37ffc8" stroke-width="0.5"/>
<polygon points="433.42,184.85 435.58,186.7 433.43,188.39 431.27,186.61" fill="#52ffad" stroke="#52ffad" stroke-width="0.5"/>
<polygon points="437.74,185.14 439.9,186.77 437.75,188.29 435.58,186.7" fill="#6fff90" stroke="#6fff90" stroke-width="0.5"/>
<polygon points="442.05,185.4 444.22,186.85 442.06,188.2 439.9,186.77" fill="#8fff70" stroke="#8fff70" stroke-width="0.5"/>
<polygon points="446.37,185.61 448.53,187.27 446.38,188.49 444.22,186.85" fill="#b1ff4e" stroke="#b1ff4e" stroke-width="0.5"/>
<polygon points="450.69,186.11 452.85,188.26 450.7,189.42 448.53,187.27" fill="#cdff32" stroke="#cdff32" stroke-width="0.5"/>
<polygon points="455,187.18 457.17,189.5 455.01,190.6 452.85,188.26" fill="#dcff23" stroke="#dcff23" stroke-width="0.5"/>
<polygon points="459.32,188.46 461.48,190.45 459.33,191.5 457.17,189.5" fill="#daff25" stroke="#daff25" stroke-width="0.5"/>
<polygon points="379.47,189.49 381.63,190.97 379.48,192.9 377.31,191.47" fill="#5fffa0" stroke="#5fffa0" stroke-width="0.5"/>
<polygon points="383.78,188.69 385.95,190.27 383.79,192.47 381.63,190.97" fill="#54ffab" stroke="#54ffab" stroke-width="0.5"/>
<polygon points="388.1,188.07 390.26,189.78 388.11,191.89 385.95,190.27" fill="#45ffba" stroke="#45ffba" stroke-width="0.5"/>
<polygon points="392.42,187.96 394.58,189.81 392.43,191.54 390.26,189.78" fill="#31ffce" stroke="#31ffce" stroke-width="0.5"/>
<polygon points="396.73,188.06 398.9,190.02 396.74,191.67 394.58,189.81" fill="#18ffe7" stroke="#18ffe7" stroke-width="0.5"/>
<polygon points="401.05,187.86 403.21,189.92 401.06,191.96 398.9,190.02" fill="#00fcff" stroke="#00fcff" stroke-width="0.5"/>
<polygon points="405.37,186.95 407.53,189.16 405.38,191.94 403.21,189.92" fill="#00e5ff" stroke="#00e5ff" stroke-width="0.5"/>
<polygon points="409.68,185.86 411.85,188.39 409.69,191.43 407.53,189.16" fill="#00daff" stroke="#00daff" stroke-width="0.5"/>
<polygon points="414,185.48 416.16,188.26 414.01,190.92 411.85,188.39" fill="#00dfff" stroke="#00dfff" stroke-width="0.5"/>
<polygon points="418.32,185.92 420.48,188.48 418.32,190.66 416.16,188.26" fill="#00f1ff" stroke="#00f1ff" stroke-width="0.5"/>
<polygon points="422.63,186.4 424.8,188.52 422.64,190.49 420.48,188.48" fill="#0dfff2" stroke="#0dfff2" stroke-width="0.5"/>
<polygon points="426.95,186.57 429.11,188.44 426.96,190.29 424.8,188.52" fill="#2bffd4" stroke="#2bffd4" stroke-width="0.5"/>
<polygon points="431.27,186.61 433.43,188.39 431.27,190.14 429.11,188.44" fill="#48ffb7" stroke="#48ffb7" stroke-width="0.5"/>
<polygon points="435.58,186.7 437.75,188.29 435.59,189.91 433.43,188.39" fill="#66ff99" stroke="#66ff99" stroke-width="0.5"/>
<polygon points="439.9,186.77 442.06,188.2 439.91,189.68 437.75,188.29" fill="#86ff79" stroke="#86ff79" stroke-width="0.5"/>
<polygon points="444.22,186.85 446.38,188.49 444.23,189.81 442.06,188.2" fill="#a8ff57" stroke="#a8ff57" stroke-width="0.5"/>
<polygon points="448.53,187.27 450.7,189.42 448.54,190.62 446.38,188.49" fill="#c7ff38" stroke="#c7ff38" stroke-width="0.5"/>
<polygon points="452.85,188.26 455.01,190.6 452.86,191.75 450.7,189.42" fill="#daff25" stroke="#daff25" stroke-width="0.5"/>
<polygon points="457.17,189.5 459.33,191.5 457.18,192.6 455.01,190.6" fill="#ddff22" stroke="#ddff22" stroke-width="0.5"/>
<polygon points="381.63,190.97 383.79,192.47 381.64,194.34 379.48,192.9" fill="#5bffa4" stroke="#5bffa4" stroke-width="0.5"/>
<polygon points="385.95,190.27 388.11,191.89 385.95,194 383.79,192.47" fill="#4effb1" stroke="#4effb1" stroke-width="0.5"/>
<polygon points="390.26,189.78 392.43,191.54 390.27,193.54 388.11,191.89" fill="#3dffc2" stroke="#3dffc2" stroke-width="0.5"/>
<polygon points="394.58,189.81 396.74,191.67 394.59,193.31 392.43,191.54" fill="#27ffd8" stroke="#27ffd8" stroke-width="0.5"/>
<polygon points="398.9,190.02 401.06,191.96 398.9,193.52 396.74,191.67" fill="#0dfff2" stroke="#0dfff2" stroke-width="0.5"/>
<polygon points="403.21,189.92 405.38,191.94 403.22,193.87 401.06,191.96" fill="#00f3ff" stroke="#00f3ff" stroke-width="0.5"/>
<polygon points="407.53,189.16 409.69,191.43 407.54,194 405.38,191.94" fill="#00e2ff" stroke="#00e2ff" stroke-width="0.5"/>
<polygon points="411.85,188.39 414.01,190.92 411.85,193.69 409.69,191.43" fill="#00dfff" stroke="#00dfff" stroke-width="0.5"/>
<polygon points="416.16,188.26 418.32,190.66 416.17,193.12 414.01,190.92" fill="#00ebff" stroke="#00ebff" stroke-width="0.5"/>
<polygon points="420.48,188.48 422.64,190.49 420.49,192.55 418.32,190.66" fill="#03fffc" stroke="#03fffc" stroke-width="0.5"/>
<polygon points="424.8,188.52 426.96,190.29 424.8,192.17 422.64,190.49" fill="#20ffdf" stroke="#20ffdf" stroke-width="0.5"/>
<polygon points="429.11,188.44 431.27,190.14 429.12,191.9 426.96,190.29" fill="#3effc1" stroke="#3effc1" stroke-width="0.5"/>
<polygon points="433.43,188.39 435.59,189.91 433.44,191.6 431.27,190.14" fill="#5cffa3" stroke="#5cffa3" stroke-width="0.5"/>
<polygon points="437.75,188.29 439.91,189.68 437.75,191.26 435.59,189.91" fill="#7cff83" stroke="#7cff83" stroke-width="0.5"/>
<polygon points="442.06,188.2 444.23,189.81 442.07,191.26 439.91,189.68" fill="#9eff61" stroke="#9eff61" stroke-width="0.5"/>
<polygon points="446.38,188.49 448.54,190.62 446.39,191.92 444.23,189.81" fill="#beff41" stroke="#beff41" stroke-width="0.5"/>
<polygon points="450.7,189.42 452.86,191.75 450.7,192.94 448.54,190.62" fill="#d4ff2b" stroke="#d4ff2b" stroke-width="0.5"/>
<polygon points="455.01,190.6 457.18,192.6 455.02,193.75 452.86,191.75" fill="#dbff24" stroke="#dbff24" stroke-width="0.5"/>
<polygon points="383.79,192.47 385.95,194 383.8,195.81 381.64,194.34" fill="#56ffa9" stroke="#56ffa9" stroke-width="0.5"/>
<polygon points="388.11,191.89 390.27,193.54 388.12,195.55 385.95,194" fill="#48ffb7" stroke="#48ffb7" stroke-width="0.5"/>
<polygon points="392.43,191.54 394.59,193.31 392.43,195.21 390.27,193.54" fill="#35ffca" stroke="#35ffca" stroke-width="0.5"/>
<polygon points="396.74,191.67 398.9,193.52 396.75,195.08 394.59,193.31" fill="#1effe1" stroke="#1effe1" stroke-width="0.5"/>
<polygon points="401.06,191.96 403.22,193.87 401.07,195.36 398.9,193.52" fill="#05fffa" stroke="#05fffa" stroke-width="0.5"/>
<polygon points="405.38,191.94 407.54,194 405.38,195.82 403.22,193.87" fill="#00f0ff" stroke="#00f0ff" stroke-width="0.5"/>
<polygon points="409.69,191.43 411.85,193.69 409.7,196.05 407.54,194" fill="#00e7ff" stroke="#00e7ff" stroke-width="0.5"/>
<polygon points="414.01,190.92 416.17,193.12 414.02,195.66 411.85,193.69" fill="#00ebff" stroke="#00ebff" stroke-width="0.5"/>
<polygon points="418.32,190.66 420.49,192.55 418.33,194.86 416.17,193.12" fill="#00fdff" stroke="#00fdff" stroke-width="0.5"/>
<polygon points="422.64,190.49 424.8,192.17 422.65,194.14 420.49,192.55" fill="#19ffe6" stroke="#19ffe6" stroke-width="0.5"/>
<polygon points="426.96,190.29 429.12,191.9 426.97,193.71 424.8,192.17" fill="#36ffc9" stroke="#36ffc9" stroke-width="0.5"/>
<polygon points="431.27,190.14 433.44,191.6 431.28,193.31 429.12,191.9" fill="#54ffab" stroke="#54ffab" stroke-width="0.5"/>
<polygon points="435.59,189.91 437.75,191.26 435.6,192.91 433.44,191.6" fill="#73ff8c" stroke="#73ff8c" stroke-width="0.5"/>
<polygon points="439.91,189.68 442.07,191.26 439.92,192.81 437.75,191.26" fill="#94ff6b" stroke="#94ff6b" stroke-width="0.5"/>
<polygon points="444.23,189.81 446.39,191.92 444.23,193.33 442.07,191.26" fill="#b3ff4c" stroke="#b3ff4c" stroke-width="0.5"/>
<polygon points="448.54,190.62 450.7,192.94 448.55,194.21 446.39,191.92" fill="#ccff33" stroke="#ccff33" stroke-width="0.5"/>
<polygon points="452.86,191.75 455.02,193.75 452.87,194.94 450.7,192.94" fill="#d7ff28" stroke="#d7ff28" stroke-width="0.5"/>
<polygon points="385.95,194 388.12,195.55 385.96,197.3 383.8,195.81" fill="#51ffae" stroke="#51ffae" stroke-width="0.5"/>
<polygon points="390.27,193.54 392.43,195.21 390.28,197.14 388.12,195.55" fill="#42ffbd" stroke="#42ffbd" stroke-width="0.5"/>
<polygon points="394.59,193.31 396.75,195.08 394.6,196.89 392.43,195.21" fill="#2fffd0" stroke="#2fffd0" stroke-width="0.5"/>
<polygon points="398.9,193.52 401.07,195.36 398.91,196.86 396.75,195.08" fill="#19ffe6" stroke="#19ffe6" stroke-width="0.5"/>
<polygon points="403.22,193.87 405.38,195.82 403.23,197.25 401.07,195.36" fill="#04fffb" stroke="#04fffb" stroke-width="0.5"/>
<polygon points="407.54,194 409.7,196.05 407.55,197.76 405.38,195.82" fill="#00f5ff" stroke="#00f5ff" stroke-width="0.5"/>
<polygon points="411.85,193.69 414.02,195.66 411.86,197.86 409.7,196.05" fill="#00f3ff" stroke="#00f3ff" stroke-width="0.5"/>
<polygon points="416.17,193.12 418.33,194.86 416.18,197.26 414.02,195.66" fill="#00ffff" stroke="#00ffff" stroke-width="0.5"/>
<polygon points="420.49,192.55 422.65,194.14 420.5,196.36 418.33,194.86" fill="#16ffe9" stroke="#16ffe9" stroke-width="0.5"/>
<polygon points="424.8,192.17 426.97,193.71 424.81,195.61 422.65,194.14" fill="#31ffce" stroke="#31ffce" stroke-width="0.5"/>
<polygon points="429.12,191.9 431.28,193.31 429.13,195.06 426.97,193.71" fill="#4dffb2" stroke="#4dffb2" stroke-width="0.5"/>
<polygon points="433.44,191.6 435.6,192.91 433.45,194.58 431.28,193.31" fill="#6bff94" stroke="#6bff94" stroke-width="0.5"/>
<polygon points="437.75,191.26 439.92,192.81 437.76,194.41 435.6,192.91" fill="#8aff75" stroke="#8aff75" stroke-width="0.5"/>
<polygon points="442.07,191.26 444.23,193.33 442.08,194.82 439.92,192.81" fill="#a9ff56" stroke="#a9ff56" stroke-width="0.5"/>
<polygon points="446.39,191.92 448.55,194.21 446.4,195.58 444.23,193.33" fill="#c2ff3d" stroke="#c2ff3d" stroke-width="0.5"/>
<polygon points="450.7,192.94 452.87,194.94 450.71,196.19 448.55,194.21" fill="#cfff30" stroke="#cfff30" stroke-width="0.5"/>
<polygon points="388.12,195.55 390.28,197.14 388.12,198.82 385.96,197.3" fill="#4dffb2" stroke="#4dffb2" stroke-width="0.5"/>
<polygon points="392.43,195.21 394.6,196.89 392.44,198.73 390.28,197.14" fill="#3effc1" stroke="#3effc1" stroke-width="0.5"/>
<polygon points="396.75,195.08 398.91,196.86 396.76,198.58 394.6,196.89" fill="#2cffd3" stroke="#2cffd3" stroke-width="0.5"/>
<polygon points="401.07,195.36 403.23,197.25 401.07,198.69 398.91,196.86" fill="#18ffe7" stroke="#18ffe7" stroke-width="0.5"/>
<polygon points="405.38,195.82 407.55,197.76 405.39,199.14 403.23,197.25" fill="#09fff6" stroke="#09fff6" stroke-width="0.5"/>
<polygon points="409.7,196.05 411.86,197.86 409.71,199.5 407.55,197.76" fill="#03fffc" stroke="#03fffc" stroke-width="0.5"/>
<polygon points="414.02,195.66 416.18,197.26 414.03,199.37 411.86,197.86" fill="#08fff7" stroke="#08fff7" stroke-width="0.5"/>
<polygon points="418.33,194.86 420.5,196.36 418.34,198.67 416.18,197.26" fill="#18ffe7" stroke="#18ffe7" stroke-width="0.5"/>
<polygon points="422.65,194.14 424.81,195.61 422.66,197.75 420.5,196.36" fill="#2fffd0" stroke="#2fffd0" stroke-width="0.5"/>
<polygon points="426.97,193.71 429.13,195.06 426.98,196.92 424.81,195.61" fill="#4affb5" stroke="#4affb5" stroke-width="0.5"/>
<polygon points="431.28,193.31 433.45,194.58 431.29,196.3 429.13,195.06" fill="#66ff99" stroke="#66ff99" stroke-width="0.5"/>
<polygon points="435.6,192.91 437.76,194.41 435.61,196.04 433.45,194.58" fill="#83ff7c" stroke="#83ff7c" stroke-width="0.5"/>
<polygon points="439.92,192.81 442.08,194.82 439.93,196.37 437.76,194.41" fill="#9fff60" stroke="#9fff60" stroke-width="0.5"/>
<polygon points="444.23,193.33 446.4,195.58 444.24,197.02 442.08,194.82" fill="#b8ff47" stroke="#b8ff47" stroke-width="0.5"/>
<polygon points="448.55,194.21 450.71,196.19 448.56,197.53 446.4,195.58" fill="#c6ff39" stroke="#c6ff39" stroke-width="0.5"/>
<polygon points="390.28,197.14 392.44,198.73 390.29,200.35 388.12,198.82" fill="#4bffb4" stroke="#4bffb4" stroke-width="0.5"/>
<polygon points="394.6,196.89 396.76,198.58 394.6,200.34 392.44,198.73" fill="#3cffc3" stroke="#3cffc3" stroke-width="0.5"/>
<polygon points="398.91,196.86 401.07,198.69 398.92,200.33 396.76,198.58" fill="#2cffd3" stroke="#2cffd3" stroke-width="0.5"/>
<polygon points="403.23,197.25 405.39,199.14 403.24,200.53 401.07,198.69" fill="#1dffe2" stroke="#1dffe2" stroke-width="0.5"/>
<polygon points="407.55,197.76 409.71,199.5 407.55,200.86 405.39,199.14" fill="#15ffea" stroke="#15ffea" stroke-width="0.5"/>
<polygon points="411.86,197.86 414.03,199.37 411.87,200.98 409.71,199.5" fill="#15ffea" stroke="#15ffea" stroke-width="0.5"/>
<polygon points="416.18,197.26 418.34,198.67 416.19,200.71 414.03,199.37" fill="#20ffdf" stroke="#20ffdf" stroke-width="0.5"/>
<polygon points="420.5,196.36 422.66,197.75 420.5,199.99 418.34,198.67" fill="#33ffcc" stroke="#33ffcc" stroke-width="0.5"/>
<polygon points="424.81,195.61 426.98,196.92 424.82,199.02 422.66,197.75" fill="#4affb5" stroke="#4affb5" stroke-width="0.5"/>
<polygon points="429.13,195.06 431.29,196.3 429.14,198.13 426.98,196.92" fill="#64ff9b" stroke="#64ff9b" stroke-width="0.5"/>
<polygon points="433.45,194.58 435.61,196.04 433.45,197.73 431.29,196.3" fill="#7eff81" stroke="#7eff81" stroke-width="0.5"/>
<polygon points="437.76,194.41 439.93,196.37 437.77,197.94 435.61,196.04" fill="#98ff67" stroke="#98ff67" stroke-width="0.5"/>
<polygon points="442.08,194.82 444.24,197.02 442.09,198.51 439.93,196.37" fill="#afff50" stroke="#afff50" stroke-width="0.5"/>
<polygon points="446.4,195.58 448.56,197.53 446.4,198.93 444.24,197.02" fill="#beff41" stroke="#beff41" stroke-width="0.5"/>
<polygon points="392.44,198.73 394.6,200.34 392.45,201.9 390.29,200.35" fill="#4affb5" stroke="#4affb5" stroke-width="0.5"/>
<polygon points="396.76,198.58 398.92,200.33 396.77,202 394.6,200.34" fill="#3dffc2" stroke="#3dffc2" stroke-width="0.5"/>
<polygon points="401.07,198.69 403.24,200.53 401.08,202.09 398.92,200.33" fill="#31ffce" stroke="#31ffce" stroke-width="0.5"/>
<polygon points="405.39,199.14 407.55,200.86 405.4,202.21 403.24,200.53" fill="#28ffd7" stroke="#28ffd7" stroke-width="0.5"/>
<polygon points="409.71,199.5 411.87,200.98 409.72,202.33 407.55,200.86" fill="#26ffd9" stroke="#26ffd9" stroke-width="0.5"/>
<polygon points="414.03,199.37 416.19,200.71 414.03,202.31 411.87,200.98" fill="#2dffd2" stroke="#2dffd2" stroke-width="0.5"/>
<polygon points="418.34,198.67 420.5,199.99 418.35,201.99 416.19,200.71" fill="#3bffc4" stroke="#3bffc4" stroke-width="0.5"/>
<polygon points="422.66,197.75 424.82,199.02 422.67,201.22 420.5,199.99" fill="#4fffb0" stroke="#4fffb0" stroke-width="0.5"/>
<polygon points="426.98,196.92 429.14,198.13 426.98,200.2 424.82,199.02" fill="#65ff9a" stroke="#65ff9a" stroke-width="0.5"/>
<polygon points="431.29,196.3 433.45,197.73 431.3,199.52 429.14,198.13" fill="#7dff82" stroke="#7dff82" stroke-width="0.5"/>
<polygon points="435.61,196.04 437.77,197.94 435.62,199.56 433.45,197.73" fill="#94ff6b" stroke="#94ff6b" stroke-width="0.5"/>
<polygon points="439.93,196.37 442.09,198.51 439.93,200.01 437.77,197.94" fill="#a8ff57" stroke="#a8ff57" stroke-width="0.5"/>
<polygon points="444.24,197.02 446.4,198.93 444.25,200.37 442.09,198.51" fill="#b6ff49" stroke="#b6ff49" stroke-width="0.5"/>
<polygon points="394.6,200.34 396.77,202 394.61,203.51 392.45,201.9" fill="#4cffb3" stroke="#4cffb3" stroke-width="0.5"/>
<polygon points="398.92,200.33 401.08,202.09 398.93,203.68 396.77,202" fill="#42ffbd" stroke="#42ffbd" stroke-width="0.5"/>
<polygon points="403.24,200.53 405.4,202.21 403.25,203.72 401.08,202.09" fill="#3bffc4" stroke="#3bffc4" stroke-width="0.5"/>
<polygon points="407.55,200.86 409.72,202.33 407.56,203.69 405.4,202.21" fill="#38ffc7" stroke="#38ffc7" stroke-width="0.5"/>
<polygon points="411.87,200.98 414.03,202.31 411.88,203.68 409.72,202.33" fill="#3cffc3" stroke="#3cffc3" stroke-width="0.5"/>
<polygon points="416.19,200.71 418.35,201.99 416.2,203.59 414.03,202.31" fill="#47ffb8" stroke="#47ffb8" stroke-width="0.5"/>
<polygon points="420.5,199.99 422.67,201.22 420.51,203.2 418.35,201.99" fill="#57ffa8" stroke="#57ffa8" stroke-width="0.5"/>
<polygon points="424.82,199.02 426.98,200.2 424.83,202.38 422.67,201.22" fill="#6aff95" stroke="#6aff95" stroke-width="0.5"/>
<polygon points="429.14,198.13 431.3,199.52 429.15,201.54 426.98,200.2" fill="#7fff80" stroke="#7fff80" stroke-width="0.5"/>
<polygon points="433.45,197.73 435.62,199.56 433.46,201.29 431.3,199.52" fill="#93ff6c" stroke="#93ff6c" stroke-width="0.5"/>
<polygon points="437.77,197.94 439.93,200.01 437.78,201.56 435.62,199.56" fill="#a5ff5a" stroke="#a5ff5a" stroke-width="0.5"/>
<polygon points="442.09,198.51 444.25,200.37 442.1,201.84 439.93,200.01" fill="#b1ff4e" stroke="#b1ff4e" stroke-width="0.5"/>
<polygon points="396.77,202 398.93,203.68 396.78,205.13 394.61,203.51" fill="#50ffaf" stroke="#50ffaf" stroke-width="0.5"/>
<polygon points="401.08,202.09 403.25,203.72 401.09,205.26 398.93,203.68" fill="#4bffb4" stroke="#4bffb4" stroke-width="0.5"/>
<polygon points="405.4,202.21 407.56,203.69 405.41,205.18 403.25,203.72" fill="#4affb5" stroke="#4affb5" stroke-width="0.5"/>
<polygon points="409.72,202.33 411.88,203.68 409.73,205.05 407.56,203.69" fill="#4dffb2" stroke="#4dffb2" stroke-width="0.5"/>
<polygon points="414.03,202.31 416.2,203.59 414.04,204.98 411.88,203.68" fill="#55ffaa" stroke="#55ffaa" stroke-width="0.5"/>
<polygon points="418.35,201.99 420.51,203.2 418.36,204.8 416.2,203.59" fill="#62ff9d" stroke="#62ff9d" stroke-width="0.5"/>
<polygon points="422.67,201.22 424.83,202.38 422.68,204.35 420.51,203.2" fill="#73ff8c" stroke="#73ff8c" stroke-width="0.5"/>
<polygon points="426.98,200.2 429.15,201.54 426.99,203.68 424.83,202.38" fill="#85ff7a" stroke="#85ff7a" stroke-width="0.5"/>
<polygon points="431.3,199.52 433.46,201.29 431.31,203.22 429.15,201.54" fill="#96ff69" stroke="#96ff69" stroke-width="0.5"/>
<polygon points="435.62,199.56 437.78,201.56 435.62,203.21 433.46,201.29" fill="#a5ff5a" stroke="#a5ff5a" stroke-width="0.5"/>
<polygon points="439.93,200.01 442.1,201.84 439.94,203.34 437.78,201.56" fill="#afff50" stroke="#afff50" stroke-width="0.5"/>
<polygon points="398.93,203.68 401.09,205.26 398.94,206.67 396.78,205.13" fill="#59ffa6" stroke="#59ffa6" stroke-width="0.5"/>
<polygon points="403.25,203.72 405.41,205.18 403.25,206.69 401.09,205.26" fill="#59ffa6" stroke="#59ffa6" stroke-width="0.5"/>
<polygon points="407.56,203.69 409.73,205.05 407.57,206.53 405.41,205.18" fill="#5cffa3" stroke="#5cffa3" stroke-width="0.5"/>
<polygon points="411.88,203.68 414.04,204.98 411.89,206.36 409.73,205.05" fill="#64ff9b" stroke="#64ff9b" stroke-width="0.5"/>
<polygon points="416.2,203.59 418.36,204.8 416.2,206.2 414.04,204.98" fill="#70ff8f" stroke="#70ff8f" stroke-width="0.5"/>
<polygon points="420.51,203.2 422.68,204.35 420.52,205.96 418.36,204.8" fill="#7eff81" stroke="#7eff81" stroke-width="0.5"/>
<polygon points="424.83,202.38 426.99,203.68 424.84,205.62 422.68,204.35" fill="#8dff72" stroke="#8dff72" stroke-width="0.5"/>
<polygon points="429.15,201.54 431.31,203.22 429.15,205.25 426.99,203.68" fill="#9cff63" stroke="#9cff63" stroke-width="0.5"/>
<polygon points="433.46,201.29 435.62,203.21 433.47,205.03 431.31,203.22" fill="#a8ff57" stroke="#a8ff57" stroke-width="0.5"/>
<polygon points="437.78,201.56 439.94,203.34 437.79,204.92 435.62,203.21" fill="#b0ff4f" stroke="#b0ff4f" stroke-width="0.5"/>
<polygon points="401.09,205.26 403.25,206.69 401.1,208.08 398.94,206.67" fill="#65ff9a" stroke="#65ff9a" stroke-width="0.5"/>
<polygon points="405.41,205.18 407.57,206.53 405.42,208.03 403.25,206.69" fill="#6aff95" stroke="#6aff95" stroke-width="0.5"/>
<polygon points="409.73,205.05 411.89,206.36 409.73,207.84 407.57,206.53" fill="#72ff8d" stroke="#72ff8d" stroke-width="0.5"/>
<polygon points="414.04,204.98 416.2,206.2 414.05,207.6 411.89,206.36" fill="#7eff81" stroke="#7eff81" stroke-width="0.5"/>
<polygon points="418.36,204.8 420.52,205.96 418.37,207.38 416.2,206.2" fill="#8bff74" stroke="#8bff74" stroke-width="0.5"/>
<polygon points="422.68,204.35 424.84,205.62 422.68,207.23 420.52,205.96" fill="#98ff67" stroke="#98ff67" stroke-width="0.5"/>
<polygon points="426.99,203.68 429.15,205.25 427,207.12 424.84,205.62" fill="#a5ff5a" stroke="#a5ff5a" stroke-width="0.5"/>
<polygon points="431.31,203.22 433.47,205.03 431.32,206.94 429.15,205.25" fill="#aeff51" stroke="#aeff51" stroke-width="0.5"/>
<polygon points="435.62,203.21 437.79,204.92 435.63,206.67 433.47,205.03" fill="#b3ff4c" stroke="#b3ff4c" stroke-width="0.5"/>
<polygon points="403.25,206.69 405.42,208.03 403.26,209.41 401.1,208.08" fill="#75ff8a" stroke="#75ff8a" stroke-width="0.5"/>
<polygon points="407.57,206.53 409.73,207.84 407.58,209.33 405.42,208.03" fill="#7fff80" stroke="#7fff80" stroke-width="0.5"/>
<polygon points="411.89,206.36 414.05,207.6 411.9,209.09 409.73,207.84" fill="#8bff74" stroke="#8bff74" stroke-width="0.5"/>
<polygon points="416.2,206.2 418.37,207.38 416.21,208.79 414.05,207.6" fill="#98ff67" stroke="#98ff67" stroke-width="0.5"/>
<polygon points="420.52,205.96 422.68,207.23 420.53,208.65 418.37,207.38" fill="#a5ff5a" stroke="#a5ff5a" stroke-width="0.5"/>
<polygon points="424.84,205.62 427,207.12 424.85,208.68 422.68,207.23" fill="#b0ff4f" stroke="#b0ff4f" stroke-width="0.5"/>
<polygon points="429.15,205.25 431.32,206.94 429.16,208.72 427,207.12" fill="#b8ff47" stroke="#b8ff47" stroke-width="0.5"/>
<polygon points="433.47,205.03 435.63,206.67 433.48,208.49 431.32,206.94" fill="#baff45" stroke="#baff45" stroke-width="0.5"/>
<polygon points="405.42,208.03 407.58,209.33 405.43,210.71 403.26,209.41" fill="#88ff77" stroke="#88ff77" stroke-width="0.5"/>
<polygon points="409.73,207.84 411.9,209.09 409.74,210.57 407.58,209.33" fill="#96ff69" stroke="#96ff69" stroke-width="0.5"/>
<polygon points="414.05,207.6 416.21,208.79 414.06,210.29 411.9,209.09" fill="#a4ff5b" stroke="#a4ff5b" stroke-width="0.5"/>
<polygon points="418.37,207.38 420.53,208.65 418.38,210.06 416.21,208.79" fill="#b2ff4d" stroke="#b2ff4d" stroke-width="0.5"/>
<polygon points="422.68,207.23 424.85,208.68 422.69,210.09 420.53,208.65" fill="#bcff43" stroke="#bcff43" stroke-width="0.5"/>
<polygon points="427,207.12 429.16,208.72 427.01,210.23 424.85,208.68" fill="#c3ff3c" stroke="#c3ff3c" stroke-width="0.5"/>
<polygon points="431.32,206.94 433.48,208.49 431.33,210.2 429.16,208.72" fill="#c4ff3b" stroke="#c4ff3b" stroke-width="0.5"/>
<polygon points="407.58,209.33 409.74,210.57 407.59,211.96 405.43,210.71" fill="#9eff61" stroke="#9eff61" stroke-width="0.5"/>
<polygon points="411.9,209.09 414.06,210.29 411.9,211.78 409.74,210.57" fill="#aeff51" stroke="#aeff51" stroke-width="0.5"/>
<polygon points="416.21,208.79 418.38,210.06 416.22,211.55 414.06,210.29" fill="#bdff42" stroke="#bdff42" stroke-width="0.5"/>
<polygon points="420.53,208.65 422.69,210.09 420.54,211.48 418.38,210.06" fill="#c9ff36" stroke="#c9ff36" stroke-width="0.5"/>
<polygon points="424.85,208.68 427.01,210.23 424.85,211.6 422.69,210.09" fill="#cfff30" stroke="#cfff30" stroke-width="0.5"/>
<polygon points="429.16,208.72 431.33,210.2 429.17,211.67 427.01,210.23" fill="#cfff30" stroke="#cfff30" stroke-width="0.5"/>
<polygon points="409.74,210.57 411.9,211.78 409.75,213.17 407.59,211.96" fill="#b5ff4a" stroke="#b5ff4a" stroke-width="0.5"/>
<polygon points="414.06,210.29 416.22,211.55 414.07,213.04 411.9,211.78" fill="#c6ff39" stroke="#c6ff39" stroke-width="0.5"/>
<polygon points="418.38,210.06 420.54,211.48 418.38,212.94 416.22,211.55" fill="#d4ff2b" stroke="#d4ff2b" stroke-width="0.5"/>
<polygon points="422.69,210.09 424.85,211.6 422.7,212.96 420.54,211.48" fill="#dbff24" stroke="#dbff24" stroke-width="0.5"/>
<polygon points="427.01,210.23 429.17,211.67 427.02,213.01 424.85,211.6" fill="#dbff24" stroke="#dbff24" stroke-width="0.5"/>
<polygon points="411.9,211.78 414.07,213.04 411.91,214.42 409.75,213.17" fill="#ccff33" stroke="#ccff33" stroke-width="0.5"/>
<polygon points="416.22,211.55 418.38,212.94 416.23,214.39 414.07,213.04" fill="#dcff23" stroke="#dcff23" stroke-width="0.5"/>
<polygon points="420.54,211.48 422.7,212.96 420.55,214.38 418.38,212.94" fill="#e5ff1a" stroke="#e5ff1a" stroke-width="0.5"/>
<polygon points="424.85,211.6 427.02,213.01 424.86,214.35 422.7,212.96" fill="#e7ff18" stroke="#e7ff18" stroke-width="0.5"/>
<polygon points="414.07,213.04 416.23,214.39 414.08,215.75 411.91,214.42" fill="#e1ff1e" stroke="#e1ff1e" stroke-width="0.5"/>
<polygon points="418.38,212.94 420.55,214.38 418.39,215.79 416.23,214.39" fill="#edff12" stroke="#edff12" stroke-width="0.5"/>
<polygon points="422.7,212.96 424.86,214.35 422.71,215.75 420.55,214.38" fill="#f1ff0e" stroke="#f1ff0e" stroke-width="0.5"/>
<polygon points="416.23,214.39 418.39,215.79 416.24,217.13 414.08,215.75" fill="#f1ff0e" stroke="#f1ff0e" stroke-width="0.5"/>
<polygon points="420.55,214.38 422.71,215.75 420.55,217.13 418.39,215.79" fill="#f8ff07" stroke="#f8ff07" stroke-width="0.5"/>
<polygon points="418.39,215.79 420.55,217.13 418.4,218.44 416.24,217.13" fill="#fbff04" stroke="#fbff04" stroke-width="0.5"/>
<polyline points="418.2,134.3 416.58,134.96 414.97,135.53 413.35,136.07 411.74,136.62 410.12,137.16 408.51,137.67 406.89,138.24 405.27,138.95 403.66,139.8 402.04,140.74 400.43,141.84 398.81,143.14 397.2,144.68 395.58,146.42 393.97,148.31 392.35,150.3 390.73,152.33 389.12,154.45 387.5,156.75 385.89,159.3 384.27,162.34 382.66,165.75 381.04,169.1 379.43,171.96 377.81,174.14 376.19,175.88 374.58,177.44 372.96,179.06 371.35,180.85 369.73,182.67 368.12,184.36 366.5,185.81" fill="none" stroke="#ffffff" stroke-width="0.45" stroke-opacity="0.6"/>
<polyline points="418.2,134.3 419.82,134.52 421.44,134.42 423.07,134.4 424.69,134.87 426.31,135.97 427.93,137.48 429.55,139.22 431.18,140.98 432.8,142.74 434.42,144.6 436.04,146.54 437.66,148.58 439.28,150.71 440.91,152.93 442.53,155.25 444.15,157.65 445.77,160.28 447.39,163.07 449.02,165.8 450.64,168.21 452.26,170.23 453.88,171.99 455.5,173.58 457.12,175.06 458.75,176.37 460.37,177.51 461.99,178.62 463.61,179.88 465.23,181.42 466.86,183.11 468.48,184.77 470.1,186.18" fill="none" stroke="#ffffff" stroke-width="0.45" stroke-opacity="0.6"/>
<polyline points="424.69,134.87 423.07,135.5 421.46,136.05 419.84,136.56 418.23,137.08 416.61,137.59 414.99,138.07 413.38,138.62 411.76,139.32 410.15,140.18 408.53,141.15 406.92,142.3 405.3,143.66 403.68,145.3 402.07,147.16 400.45,149.18 398.84,151.32 397.22,153.49 395.61,155.76 393.99,158.21 392.38,160.93 390.76,164.19 389.14,167.84 387.53,171.42 385.91,174.46 384.3,176.74 382.68,178.54 381.07,180.14 379.45,181.81 377.83,183.67 376.22,185.55 374.6,187.32 372.99,188.81" fill="none" stroke="#ffffff" stroke-width="0.45" stroke-opacity="0.6"/>
<polyline points="411.74,136.62 413.36,136.82 414.98,136.68 416.6,136.63 418.23,137.08 419.85,138.2 421.47,139.74 423.09,141.51 424.71,143.31 426.33,145.11 427.96,147 429.58,148.99 431.2,151.08 432.82,153.26 434.44,155.53 436.07,157.9 437.69,160.37 439.31,163.05 440.93,165.91 442.55,168.7 444.18,171.17 445.8,173.23 447.42,175.02 449.04,176.63 450.66,178.13 452.28,179.46 453.91,180.59 455.53,181.71 457.15,182.99 458.77,184.55 460.39,186.27 462.02,187.96 463.64,189.39" fill="none" stroke="#ffffff" stroke-width="0.45" stroke-opacity="0.6"/>
<polyline points="431.18,140.98 429.56,141.64 427.94,142.21 426.33,142.75 424.71,143.31 423.1,143.85 421.48,144.38 419.87,144.97 418.25,145.72 416.63,146.61 415.02,147.62 413.4,148.8 411.79,150.2 410.17,151.85 408.56,153.72 406.94,155.74 405.33,157.85 403.71,160 402.09,162.21 400.48,164.57 398.86,167.16 397.25,170.21 395.63,173.6 394.02,176.91 392.4,179.7 390.78,181.78 389.17,183.42 387.55,184.88 385.94,186.4 384.32,188.11 382.71,189.85 381.09,191.5 379.48,192.9" fill="none" stroke="#ffffff" stroke-width="0.45" stroke-opacity="0.6"/>
<polyline points="405.27,138.95 406.9,139.12 408.52,138.96 410.14,138.88 411.76,139.32 413.38,140.46 415.01,142.04 416.63,143.86 418.25,145.72 419.87,147.57 421.49,149.52 423.12,151.58 424.74,153.73 426.36,155.97 427.98,158.31 429.6,160.74 431.22,163.26 432.85,166 434.47,168.92 436.09,171.76 437.71,174.26 439.33,176.34 440.96,178.14 442.58,179.75 444.2,181.25 445.82,182.58 447.44,183.71 449.07,184.83 450.69,186.11 452.31,187.69 453.93,189.44 455.55,191.15 457.18,192.6" fill="none" stroke="#ffffff" stroke-width="0.45" stroke-opacity="0.6"/>
<polyline points="437.66,148.58 436.05,149.27 434.43,149.88 432.82,150.47 431.2,151.08 429.58,151.68 427.97,152.27 426.35,152.92 424.74,153.73 423.12,154.67 421.51,155.73 419.89,156.96 418.28,158.39 416.66,160.05 415.04,161.9 413.43,163.89 411.81,165.96 410.2,168.04 408.58,170.16 406.97,172.37 405.35,174.74 403.73,177.47 402.12,180.47 400.5,183.36 398.89,185.77 397.27,187.56 395.66,188.97 394.04,190.22 392.43,191.54 390.81,193.02 389.19,194.56 387.58,196.03 385.96,197.3" fill="none" stroke="#ffffff" stroke-width="0.45" stroke-opacity="0.6"/>
<polyline points="398.81,143.14 400.43,143.34 402.06,143.21 403.68,143.18 405.3,143.66 406.92,144.83 408.54,146.45 410.17,148.3 411.79,150.2 413.41,152.1 415.03,154.1 416.65,156.2 418.28,158.39 419.9,160.65 421.52,162.99 423.14,165.39 424.76,167.87 426.38,170.54 428.01,173.37 429.63,176.1 431.25,178.5 432.87,180.47 434.49,182.18 436.12,183.71 437.74,185.14 439.36,186.4 440.98,187.49 442.6,188.57 444.23,189.81 445.85,191.36 447.47,193.07 449.09,194.76 450.71,196.19" fill="none" stroke="#ffffff" stroke-width="0.45" stroke-opacity="0.6"/>
<polyline points="444.15,157.65 442.53,158.38 440.92,159.05 439.3,159.7 437.69,160.37 436.07,161.03 434.46,161.69 432.84,162.41 431.22,163.26 429.61,164.22 427.99,165.29 426.38,166.49 424.76,167.87 423.15,169.44 421.53,171.17 419.92,173.01 418.3,174.9 416.68,176.79 415.07,178.7 413.45,180.65 411.84,182.71 410.22,185.03 408.61,187.53 406.99,189.93 405.38,191.94 403.76,193.44 402.14,194.64 400.53,195.72 398.91,196.86 397.3,198.14 395.68,199.47 394.07,200.76 392.45,201.9" fill="none" stroke="#ffffff" stroke-width="0.45" stroke-opacity="0.6"/>
<polyline points="392.35,150.3 393.97,150.6 395.59,150.62 397.22,150.74 398.84,151.32 400.46,152.52 402.08,154.12 403.7,155.96 405.33,157.85 406.95,159.75 408.57,161.75 410.19,163.82 411.81,165.96 413.43,168.15 415.06,170.37 416.68,172.62 418.3,174.9 419.92,177.31 421.54,179.83 423.17,182.24 424.79,184.34 426.41,186.06 428.03,187.54 429.65,188.88 431.27,190.14 432.9,191.27 434.52,192.25 436.14,193.25 437.76,194.41 439.38,195.85 441.01,197.44 442.63,199.02 444.25,200.37" fill="none" stroke="#ffffff" stroke-width="0.45" stroke-opacity="0.6"/>
<polyline points="450.64,168.21 449.02,168.98 447.41,169.71 445.79,170.44 444.18,171.17 442.56,171.9 440.94,172.64 439.33,173.41 437.71,174.26 436.1,175.19 434.48,176.19 432.87,177.29 431.25,178.5 429.63,179.83 428.02,181.28 426.4,182.79 424.79,184.34 423.17,185.88 421.56,187.43 419.94,189.02 418.32,190.66 416.71,192.48 415.09,194.4 413.48,196.26 411.86,197.86 410.25,199.13 408.63,200.2 407.02,201.18 405.4,202.21 403.78,203.34 402.17,204.5 400.55,205.63 398.94,206.67" fill="none" stroke="#ffffff" stroke-width="0.45" stroke-opacity="0.6"/>
<polyline points="385.89,159.3 387.51,159.73 389.13,159.95 390.75,160.25 392.38,160.93 394,162.12 395.62,163.65 397.24,165.38 398.86,167.16 400.48,168.95 402.11,170.83 403.73,172.76 405.35,174.74 406.97,176.73 408.59,178.74 410.22,180.73 411.84,182.71 413.46,184.77 415.08,186.9 416.7,188.91 418.32,190.66 419.95,192.11 421.57,193.37 423.19,194.51 424.81,195.61 426.43,196.62 428.06,197.52 429.68,198.45 431.3,199.52 432.92,200.81 434.54,202.25 436.17,203.67 437.79,204.92" fill="none" stroke="#ffffff" stroke-width="0.45" stroke-opacity="0.6"/>
<polyline points="457.12,175.06 455.51,175.85 453.89,176.62 452.28,177.37 450.66,178.13 449.05,178.89 447.43,179.64 445.82,180.42 444.2,181.25 442.58,182.14 440.97,183.07 439.35,184.07 437.74,185.14 436.12,186.3 434.51,187.53 432.89,188.82 431.27,190.14 429.66,191.46 428.04,192.79 426.43,194.17 424.81,195.61 423.2,197.19 421.58,198.88 419.97,200.53 418.35,201.99 416.73,203.22 415.12,204.3 413.5,205.31 411.89,206.36 410.27,207.46 408.66,208.59 407.04,209.69 405.43,210.71" fill="none" stroke="#ffffff" stroke-width="0.45" stroke-opacity="0.6"/>
<polyline points="379.43,171.96 381.05,172.59 382.67,173.1 384.29,173.67 385.91,174.46 387.53,175.55 389.16,176.84 390.78,178.25 392.4,179.7 394.02,181.16 395.64,182.67 397.27,184.21 398.89,185.77 400.51,187.34 402.13,188.89 403.75,190.42 405.38,191.94 407,193.48 408.62,195.04 410.24,196.53 411.86,197.86 413.48,199.01 415.11,200.05 416.73,201.03 418.35,201.99 419.97,202.91 421.59,203.77 423.22,204.65 424.84,205.62 426.46,206.73 428.08,207.92 429.7,209.1 431.33,210.2" fill="none" stroke="#ffffff" stroke-width="0.45" stroke-opacity="0.6"/>
<polyline points="463.61,179.88 462,180.68 460.38,181.45 458.77,182.22 457.15,182.99 455.53,183.75 453.92,184.51 452.3,185.29 450.69,186.11 449.07,186.97 447.46,187.87 445.84,188.81 444.23,189.81 442.61,190.89 440.99,192.02 439.38,193.2 437.76,194.41 436.15,195.63 434.53,196.87 432.92,198.16 431.3,199.52 429.68,201.01 428.07,202.61 426.45,204.19 424.84,205.62 423.22,206.85 421.61,207.95 419.99,208.99 418.38,210.06 416.76,211.17 415.14,212.3 413.53,213.39 411.91,214.42" fill="none" stroke="#ffffff" stroke-width="0.45" stroke-opacity="0.6"/>
<polyline points="372.96,179.06 374.58,179.76 376.21,180.37 377.83,181.01 379.45,181.81 381.07,182.81 382.69,183.95 384.32,185.17 385.94,186.4 387.56,187.65 389.18,188.92 390.8,190.22 392.43,191.54 394.05,192.86 395.67,194.19 397.29,195.53 398.91,196.86 400.53,198.22 402.16,199.62 403.78,200.97 405.4,202.21 407.02,203.33 408.64,204.38 410.27,205.38 411.89,206.36 413.51,207.3 415.13,208.19 416.75,209.1 418.38,210.06 420,211.11 421.62,212.22 423.24,213.32 424.86,214.35" fill="none" stroke="#ffffff" stroke-width="0.45" stroke-opacity="0.6"/>
<polyline points="470.1,186.18 468.48,187 466.87,187.8 465.25,188.59 463.64,189.39 462.02,190.18 460.41,190.97 458.79,191.77 457.18,192.6 455.56,193.46 453.94,194.33 452.33,195.24 450.71,196.19 449.1,197.18 447.48,198.22 445.87,199.29 444.25,200.37 442.63,201.47 441.02,202.58 439.4,203.73 437.79,204.92 436.17,206.22 434.56,207.58 432.94,208.94 431.33,210.2 429.71,211.32 428.09,212.35 426.48,213.35 424.86,214.35 423.25,215.4 421.63,216.44 420.02,217.47 418.4,218.44" fill="none" stroke="#ffffff" stroke-width="0.45" stroke-opacity="0.6"/>
<polyline points="366.5,185.81 368.12,186.57 369.74,187.27 371.37,187.99 372.99,188.81 374.61,189.75 376.23,190.77 377.85,191.83 379.48,192.9 381.1,193.98 382.72,195.07 384.34,196.18 385.96,197.3 387.58,198.44 389.21,199.58 390.83,200.74 392.45,201.9 394.07,203.1 395.69,204.32 397.32,205.53 398.94,206.67 400.56,207.73 402.18,208.75 403.8,209.74 405.43,210.71 407.05,211.65 408.67,212.56 410.29,213.47 411.91,214.42 413.53,215.41 415.16,216.44 416.78,217.46 418.4,218.44" fill="none" stroke="#ffffff" stroke-width="0.45" stroke-opacity="0.6"/>
<circle cx="418.2" cy="134.3" r="0.75" fill="#1a1a1a" stroke="none" stroke-width="0"/>
<circle cx="411.74" cy="136.62" r="0.75" fill="#1a1a1a" stroke="none" stroke-width="0"/>
<circle cx="405.27" cy="138.95" r="0.75" fill="#1a1a1a" stroke="none" stroke-width="0"/>
<circle cx="398.81" cy="143.14" r="0.75" fill="#1a1a1a" stroke="none" stroke-width="0"/>
<circle cx="392.35" cy="150.3" r="0.75" fill="#1a1a1a" stroke="none" stroke-width="0"/>
<circle cx="385.89" cy="159.3" r="0.75" fill="#1a1a1a" stroke="none" stroke-width="0"/>
<circle cx="379.43" cy="171.96" r="0.75" fill="#1a1a1a" stroke="none" stroke-width="0"/>
<circle cx="372.96" cy="179.06" r="0.75" fill="#1a1a1a" stroke="none" stroke-width="0"/>
<circle cx="366.5" cy="185.81" r="0.75" fill="#1a1a1a" stroke="none" stroke-width="0"/>
<circle cx="424.69" cy="134.87" r="0.75" fill="#1a1a1a" stroke="none" stroke-width="0"/>
<circle cx="418.23" cy="137.08" r="0.75" fill="#1a1a1a" stroke="none" stroke-width="0"/>
<circle cx="411.76" cy="139.32" r="0.75" fill="#1a1a1a" stroke="none" stroke-width="0"/>
<circle cx="405.3" cy="143.66" r="0.75" fill="#1a1a1a" stroke="none" stroke-width="0"/>
<circle cx="398.84" cy="151.32" r="0.75" fill="#1a1a1a" stroke="none" stroke-width="0"/>
<circle cx="392.38" cy="160.93" r="0.75" fill="#1a1a1a" stroke="none" stroke-width="0"/>
<circle cx="385.91" cy="174.46" r="0.75" fill="#1a1a1a" stroke="none" stroke-width="0"/>
<circle cx="379.45" cy="181.81" r="0.75" fill="#1a1a1a" stroke="none" stroke-width="0"/>
<circle cx="372.99" cy="188.81" r="0.75" fill="#1a1a1a" stroke="none" stroke-width="0"/>
<circle cx="431.18" cy="140.98" r="0.75" fill="#1a1a1a" stroke="none" stroke-width="0"/>
<circle cx="424.71" cy="143.31" r="0.75" fill="#1a1a1a" stroke="none" stroke-width="0"/>
<circle cx="418.25" cy="145.72" r="0.75" fill="#1a1a1a" stroke="none" stroke-width="0"/>
<circle cx="411.79" cy="150.2" r="0.75" fill="#1a1a1a" stroke="none" stroke-width="0"/>
<circle cx="405.33" cy="157.85" r="0.75" fill="#1a1a1a" stroke="none" stroke-width="0"/>
<circle cx="398.86" cy="167.16" r="0.75" fill="#1a1a1a" stroke="none" stroke-width="0"/>
<circle cx="392.4" cy="179.7" r="0.75" fill="#1a1a1a" stroke="none" stroke-width="0"/>
<circle cx="385.94" cy="186.4" r="0.75" fill="#1a1a1a" stroke="none" stroke-width="0"/>
<circle cx="379.48" cy="192.9" r="0.75" fill="#1a1a1a" stroke="none" stroke-width="0"/>
<circle cx="437.66" cy="148.58" r="0.75" fill="#1a1a1a" stroke="none" stroke-width="0"/>
<circle cx="431.2" cy="151.08" r="0.75" fill="#1a1a1a" stroke="none" stroke-width="0"/>
<circle cx="424.74" cy="153.73" r="0.75" fill="#1a1a1a" stroke="none" stroke-width="0"/>
<circle cx="418.28" cy="158.39" r="0.75" fill="#1a1a1a" stroke="none" stroke-width="0"/>
<circle cx="411.81" cy="165.96" r="0.75" fill="#1a1a1a" stroke="none" stroke-width="0"/>
<circle cx="405.35" cy="174.74" r="0.75" fill="#1a1a1a" stroke="none" stroke-width="0"/>
<circle cx="398.89" cy="185.77" r="0.75" fill="#1a1a1a" stroke="none" stroke-width="0"/>
<circle cx="392.43" cy="191.54" r="0.75" fill="#1a1a1a" stroke="none" stroke-width="0"/>
<circle cx="385.96" cy="197.3" r="0.75" fill="#1a1a1a" stroke="none" stroke-width="0"/>
<circle cx="444.15" cy="157.65" r="0.75" fill="#1a1a1a" stroke="none" stroke-width="0"/>
<circle cx="437.69" cy="160.37" r="0.75" fill="#1a1a1a" stroke="none" stroke-width="0"/>
<circle cx="431.22" cy="163.26" r="0.75" fill="#1a1a1a" stroke="none" stroke-width="0"/>
<circle cx="424.76" cy="167.87" r="0.75" fill="#1a1a1a" stroke="none" stroke-width="0"/>
<circle cx="418.3" cy="174.9" r="0.75" fill="#1a1a1a" stroke="none" stroke-width="0"/>
<circle cx="411.84" cy="182.71" r="0.75" fill="#1a1a1a" stroke="none" stroke-width="0"/>
<circle cx="405.38" cy="191.94" r="0.75" fill="#1a1a1a" stroke="none" stroke-width="0"/>
<circle cx="398.91" cy="196.86" r="0.75" fill="#1a1a1a" stroke="none" stroke-width="0"/>
<circle cx="392.45" cy="201.9" r="0.75" fill="#1a1a1a" stroke="none" stroke-width="0"/>
<circle cx="450.64" cy="168.21" r="0.75" fill="#1a1a1a" stroke="none" stroke-width="0"/>
<circle cx="444.18" cy="171.17" r="0.75" fill="#1a1a1a" stroke="none" stroke-width="0"/>
<circle cx="437.71" cy="174.26" r="0.75" fill="#1a1a1a" stroke="none" stroke-width="0"/>
<circle cx="431.25" cy="178.5" r="0.75" fill="#1a1a1a" stroke="none" stroke-width="0"/>
<circle cx="424.79" cy="184.34" r="0.75" fill="#1a1a1a" stroke="none" stroke-width="0"/>
<circle cx="418.32" cy="190.66" r="0.75" fill="#1a1a1a" stroke="none" stroke-width="0"/>
<circle cx="411.86" cy="197.86" r="0.75" fill="#1a1a1a" stroke="none" stroke-width="0"/>
<circle cx="405.4" cy="202.21" r="0.75" fill="#1a1a1a" stroke="none" stroke-width="0"/>
<circle cx="398.94" cy="206.67" r="0.75" fill="#1a1a1a" stroke="none" stroke-width="0"/>
<circle cx="457.12" cy="175.06" r="0.75" fill="#1a1a1a" stroke="none" stroke-width="0"/>
<circle cx="450.66" cy="178.13" r="0.75" fill="#1a1a1a" stroke="none" stroke-width="0"/>
<circle cx="444.2" cy="181.25" r="0.75" fill="#1a1a1a" stroke="none" stroke-width="0"/>
<circle cx="437.74" cy="185.14" r="0.75" fill="#1a1a1a" stroke="none" stroke-width="0"/>
<circle cx="431.27" cy="190.14" r="0.75" fill="#1a1a1a" stroke="none" stroke-width="0"/>
<circle cx="424.81" cy="195.61" r="0.75" fill="#1a1a1a" stroke="none" stroke-width="0"/>
<circle cx="418.35" cy="201.99" r="0.75" fill="#1a1a1a" stroke="none" stroke-width="0"/>
<circle cx="411.89" cy="206.36" r="0.75" fill="#1a1a1a" stroke="none" stroke-width="0"/>
<circle cx="405.43" cy="210.71" r="0.75" fill="#1a1a1a" stroke="none" stroke-width="0"/>
<circle cx="463.61" cy="179.88" r="0.75" fill="#1a1a1a" stroke="none" stroke-width="0"/>
<circle cx="457.15" cy="182.99" r="0.75" fill="#1a1a1a" stroke="none" stroke-width="0"/>
<circle cx="450.69" cy="186.11" r="0.75" fill="#1a1a1a" stroke="none" stroke-width="0"/>
<circle cx="444.23" cy="189.81" r="0.75" fill="#1a1a1a" stroke="none" stroke-width="0"/>
<circle cx="437.76" cy="194.41" r="0.75" fill="#1a1a1a" stroke="none" stroke-width="0"/>
<circle cx="431.3" cy="199.52" r="0.75" fill="#1a1a1a" stroke="none" stroke-width="0"/>
<circle cx="424.84" cy="205.62" r="0.75" fill="#1a1a1a" stroke="none" stroke-width="0"/>
<circle cx="418.38" cy="210.06" r="0.75" fill="#1a1a1a" stroke="none" stroke-width="0"/>
<circle cx="411.91" cy="214.42" r="0.75" fill="#1a1a1a" stroke="none" stroke-width="0"/>
<circle cx="470.1" cy="186.18" r="0.75" fill="#1a1a1a" stroke="none" stroke-width="0"/>
<circle cx="463.64" cy="189.39" r="0.75" fill="#1a1a1a" stroke="none" stroke-width="0"/>
<circle cx="457.18" cy="192.6" r="0.75" fill="#1a1a1a" stroke="none" stroke-width="0"/>
<circle cx="450.71" cy="196.19" r="0.75" fill="#1a1a1a" stroke="none" stroke-width="0"/>
<circle cx="444.25" cy="200.37" r="0.75" fill="#1a1a1a" stroke="none" stroke-width="0"/>
<circle cx="437.79" cy="204.92" r="0.75" fill="#1a1a1a" stroke="none" stroke-width="0"/>
<circle cx="431.33" cy="210.2" r="0.75" fill="#1a1a1a" stroke="none" stroke-width="0"/>
<circle cx="424.86" cy="214.35" r="0.75" fill="#1a1a1a" stroke="none" stroke-width="0"/>
<circle cx="418.4" cy="218.44" r="0.75" fill="#1a1a1a" stroke="none" stroke-width="0"/>
<line x1="365" y1="198.75" x2="366.5" y2="198.75" stroke="#555" stroke-width="0.5"/>
<text x="363" y="201.01" font-size="6.3" text-anchor="end" fill="#222">0</text>
<line x1="365" y1="180.25" x2="366.5" y2="180.25" stroke="#555" stroke-width="0.5"/>
<text x="363" y="182.51" font-size="6.3" text-anchor="end" fill="#222">50</text>
<line x1="365" y1="161.75" x2="366.5" y2="161.75" stroke="#555" stroke-width="0.5"/>
<text x="363" y="164.01" font-size="6.3" text-anchor="end" fill="#222">100</text>
<text x="348.4" y="173.26" font-size="6.3" text-anchor="middle" fill="#222" transform="rotate(-90 348.4 171)">% Control</text>
<text x="355" y="208.11" font-size="5.2" text-anchor="middle" fill="#111">0</text>
<text x="361.8" y="211.46" font-size="5.2" text-anchor="middle" fill="#111">1.37</text>
<text x="368.6" y="214.81" font-size="5.2" text-anchor="middle" fill="#111">4.12</text>
<text x="375.4" y="218.16" font-size="5.2" text-anchor="middle" fill="#111">12.35</text>
<text x="382.2" y="221.51" font-size="5.2" text-anchor="middle" fill="#111">37</text>
<text x="389" y="224.86" font-size="5.2" text-anchor="middle" fill="#111">111.1</text>
<text x="395.8" y="228.21" font-size="5.2" text-anchor="middle" fill="#111">333.3</text>
<text x="402.6" y="231.56" font-size="5.2" text-anchor="middle" fill="#111">1000</text>
<text x="409.4" y="234.91" font-size="5.2" text-anchor="middle" fill="#111">3000</text>
<text x="420.5" y="235.36" font-size="5.2" fill="#111">100</text>
<text x="426.98" y="231.11" font-size="5.2" fill="#111">33.33</text>
<text x="433.45" y="226.86" font-size="5.2" fill="#111">11.11</text>
<text x="439.93" y="222.61" font-size="5.2" fill="#111">3.7</text>
<text x="446.4" y="218.36" font-size="5.2" fill="#111">1.23</text>
<text x="452.88" y="214.11" font-size="5.2" fill="#111">0.412</text>
<text x="459.35" y="209.86" font-size="5.2" fill="#111">0.137</text>
<text x="465.82" y="205.61" font-size="5.2" fill="#111">0.045</text>
<text x="472.3" y="201.36" font-size="5.2" fill="#111">0</text>
<text x="340.5" y="247.03" font-size="7.9">Palbociclib nmol/L</text>
<text x="519.6" y="246.83" font-size="7.9" text-anchor="end">Vepdegestrant nmol/L</text>
<defs><linearGradient id="jet" x1="0" y1="0" x2="0" y2="1"><stop offset="0" stop-color="#000080"/><stop offset="0.06" stop-color="#0000bf"/><stop offset="0.12" stop-color="#0000ff"/><stop offset="0.19" stop-color="#0040ff"/><stop offset="0.25" stop-color="#0080ff"/><stop offset="0.31" stop-color="#00bfff"/><stop offset="0.38" stop-color="#00ffff"/><stop offset="0.44" stop-color="#40ffbf"/><stop offset="0.5" stop-color="#80ff80"/><stop offset="0.56" stop-color="#bfff40"/><stop offset="0.62" stop-color="#ffff00"/><stop offset="0.69" stop-color="#ffbf00"/><stop offset="0.75" stop-color="#ff8000"/><stop offset="0.81" stop-color="#ff4000"/><stop offset="0.88" stop-color="#ff0000"/><stop offset="0.94" stop-color="#bf0000"/><stop offset="1" stop-color="#800000"/></linearGradient></defs>
<rect x="483.2" y="131.3" width="7.3" height="97" fill="url(#jet)" stroke="none" stroke-width="0"/>
<text x="499" y="156.72" font-size="7.6" text-anchor="middle" transform="rotate(-90 499 154)">Synergy</text>
<text x="499" y="203.32" font-size="7.6" text-anchor="middle" transform="rotate(-90 499 200.6)">Antagonism</text>
<line x1="39.5" y1="395.6" x2="255.5" y2="395.6" stroke="#000" stroke-width="1" stroke-dasharray="2.2 1.6"/>
<line x1="39.46" y1="280.95" x2="39.46" y2="424.85" stroke="#000" stroke-width="0.95"/>
<line x1="39.01" y1="424.4" x2="255.95" y2="424.4" stroke="#000" stroke-width="0.95"/>
<line x1="35.46" y1="424.4" x2="39.46" y2="424.4" stroke="#000" stroke-width="0.95"/>
<text x="32.46" y="427.14" font-size="7.65" text-anchor="end">0</text>
<line x1="37.16" y1="410.1" x2="39.46" y2="410.1" stroke="#000" stroke-width="0.95"/>
<line x1="35.46" y1="395.8" x2="39.46" y2="395.8" stroke="#000" stroke-width="0.95"/>
<text x="32.46" y="398.54" font-size="7.65" text-anchor="end">200</text>
<line x1="37.16" y1="381.5" x2="39.46" y2="381.5" stroke="#000" stroke-width="0.95"/>
<line x1="35.46" y1="367.2" x2="39.46" y2="367.2" stroke="#000" stroke-width="0.95"/>
<text x="32.46" y="369.94" font-size="7.65" text-anchor="end">400</text>
<line x1="37.16" y1="352.9" x2="39.46" y2="352.9" stroke="#000" stroke-width="0.95"/>
<line x1="35.46" y1="338.6" x2="39.46" y2="338.6" stroke="#000" stroke-width="0.95"/>
<text x="32.46" y="341.34" font-size="7.65" text-anchor="end">600</text>
<line x1="37.16" y1="324.3" x2="39.46" y2="324.3" stroke="#000" stroke-width="0.95"/>
<line x1="35.46" y1="310" x2="39.46" y2="310" stroke="#000" stroke-width="0.95"/>
<text x="32.46" y="312.74" font-size="7.65" text-anchor="end">800</text>
<line x1="37.16" y1="295.7" x2="39.46" y2="295.7" stroke="#000" stroke-width="0.95"/>
<line x1="35.46" y1="281.4" x2="39.46" y2="281.4" stroke="#000" stroke-width="0.95"/>
<text x="32.46" y="284.14" font-size="7.65" text-anchor="end">1,000</text>
<line x1="39.46" y1="424.4" x2="39.46" y2="428.2" stroke="#000" stroke-width="0.95"/>
<text x="39.46" y="438.14" font-size="7.65" text-anchor="middle">0</text>
<line x1="46.66" y1="424.4" x2="46.66" y2="426.7" stroke="#000" stroke-width="0.95"/>
<line x1="53.86" y1="424.4" x2="53.86" y2="426.7" stroke="#000" stroke-width="0.95"/>
<line x1="61.06" y1="424.4" x2="61.06" y2="426.7" stroke="#000" stroke-width="0.95"/>
<line x1="68.26" y1="424.4" x2="68.26" y2="426.7" stroke="#000" stroke-width="0.95"/>
<line x1="75.46" y1="424.4" x2="75.46" y2="428.2" stroke="#000" stroke-width="0.95"/>
<text x="75.46" y="438.14" font-size="7.65" text-anchor="middle">5</text>
<line x1="82.66" y1="424.4" x2="82.66" y2="426.7" stroke="#000" stroke-width="0.95"/>
<line x1="89.86" y1="424.4" x2="89.86" y2="426.7" stroke="#000" stroke-width="0.95"/>
<line x1="97.06" y1="424.4" x2="97.06" y2="426.7" stroke="#000" stroke-width="0.95"/>
<line x1="104.26" y1="424.4" x2="104.26" y2="426.7" stroke="#000" stroke-width="0.95"/>
<line x1="111.46" y1="424.4" x2="111.46" y2="428.2" stroke="#000" stroke-width="0.95"/>
<text x="111.46" y="438.14" font-size="7.65" text-anchor="middle">10</text>
<line x1="118.66" y1="424.4" x2="118.66" y2="426.7" stroke="#000" stroke-width="0.95"/>
<line x1="125.86" y1="424.4" x2="125.86" y2="426.7" stroke="#000" stroke-width="0.95"/>
<line x1="133.06" y1="424.4" x2="133.06" y2="426.7" stroke="#000" stroke-width="0.95"/>
<line x1="140.26" y1="424.4" x2="140.26" y2="426.7" stroke="#000" stroke-width="0.95"/>
<line x1="147.46" y1="424.4" x2="147.46" y2="428.2" stroke="#000" stroke-width="0.95"/>
<text x="147.46" y="438.14" font-size="7.65" text-anchor="middle">15</text>
<line x1="154.66" y1="424.4" x2="154.66" y2="426.7" stroke="#000" stroke-width="0.95"/>
<line x1="161.86" y1="424.4" x2="161.86" y2="426.7" stroke="#000" stroke-width="0.95"/>
<line x1="169.06" y1="424.4" x2="169.06" y2="426.7" stroke="#000" stroke-width="0.95"/>
<line x1="176.26" y1="424.4" x2="176.26" y2="426.7" stroke="#000" stroke-width="0.95"/>
<line x1="183.46" y1="424.4" x2="183.46" y2="428.2" stroke="#000" stroke-width="0.95"/>
<text x="183.46" y="438.14" font-size="7.65" text-anchor="middle">20</text>
<line x1="190.66" y1="424.4" x2="190.66" y2="426.7" stroke="#000" stroke-width="0.95"/>
<line x1="197.86" y1="424.4" x2="197.86" y2="426.7" stroke="#000" stroke-width="0.95"/>
<line x1="205.06" y1="424.4" x2="205.06" y2="426.7" stroke="#000" stroke-width="0.95"/>
<line x1="212.26" y1="424.4" x2="212.26" y2="426.7" stroke="#000" stroke-width="0.95"/>
<line x1="219.46" y1="424.4" x2="219.46" y2="428.2" stroke="#000" stroke-width="0.95"/>
<text x="219.46" y="438.14" font-size="7.65" text-anchor="middle">25</text>
<line x1="226.66" y1="424.4" x2="226.66" y2="426.7" stroke="#000" stroke-width="0.95"/>
<line x1="233.86" y1="424.4" x2="233.86" y2="426.7" stroke="#000" stroke-width="0.95"/>
<line x1="241.06" y1="424.4" x2="241.06" y2="426.7" stroke="#000" stroke-width="0.95"/>
<line x1="248.26" y1="424.4" x2="248.26" y2="426.7" stroke="#000" stroke-width="0.95"/>
<line x1="255.46" y1="424.4" x2="255.46" y2="428.2" stroke="#000" stroke-width="0.95"/>
<text x="255.46" y="438.14" font-size="7.65" text-anchor="middle">30</text>
<line x1="39.5" y1="394.31" x2="39.5" y2="397.19" stroke="#0000ff" stroke-width="0.6"/>
<line x1="37.5" y1="394.31" x2="41.5" y2="394.31" stroke="#0000ff" stroke-width="0.6"/>
<line x1="37.5" y1="397.19" x2="41.5" y2="397.19" stroke="#0000ff" stroke-width="0.6"/>
<line x1="61.1" y1="393.16" x2="61.1" y2="396.61" stroke="#0000ff" stroke-width="0.6"/>
<line x1="59.1" y1="393.16" x2="63.1" y2="393.16" stroke="#0000ff" stroke-width="0.6"/>
<line x1="59.1" y1="396.61" x2="63.1" y2="396.61" stroke="#0000ff" stroke-width="0.6"/>
<line x1="89.9" y1="393.16" x2="89.9" y2="396.61" stroke="#0000ff" stroke-width="0.6"/>
<line x1="87.9" y1="393.16" x2="91.9" y2="393.16" stroke="#0000ff" stroke-width="0.6"/>
<line x1="87.9" y1="396.61" x2="91.9" y2="396.61" stroke="#0000ff" stroke-width="0.6"/>
<line x1="111.5" y1="395.03" x2="111.5" y2="398.48" stroke="#0000ff" stroke-width="0.6"/>
<line x1="109.5" y1="395.03" x2="113.5" y2="395.03" stroke="#0000ff" stroke-width="0.6"/>
<line x1="109.5" y1="398.48" x2="113.5" y2="398.48" stroke="#0000ff" stroke-width="0.6"/>
<line x1="140.3" y1="397.33" x2="140.3" y2="400.78" stroke="#0000ff" stroke-width="0.6"/>
<line x1="138.3" y1="397.33" x2="142.3" y2="397.33" stroke="#0000ff" stroke-width="0.6"/>
<line x1="138.3" y1="400.78" x2="142.3" y2="400.78" stroke="#0000ff" stroke-width="0.6"/>
<line x1="161.9" y1="401.5" x2="161.9" y2="404.95" stroke="#0000ff" stroke-width="0.6"/>
<line x1="159.9" y1="401.5" x2="163.9" y2="401.5" stroke="#0000ff" stroke-width="0.6"/>
<line x1="159.9" y1="404.95" x2="163.9" y2="404.95" stroke="#0000ff" stroke-width="0.6"/>
<line x1="190.7" y1="399.2" x2="190.7" y2="402.65" stroke="#0000ff" stroke-width="0.6"/>
<line x1="188.7" y1="399.2" x2="192.7" y2="399.2" stroke="#0000ff" stroke-width="0.6"/>
<line x1="188.7" y1="402.65" x2="192.7" y2="402.65" stroke="#0000ff" stroke-width="0.6"/>
<line x1="212.3" y1="399.92" x2="212.3" y2="403.37" stroke="#0000ff" stroke-width="0.6"/>
<line x1="210.3" y1="399.92" x2="214.3" y2="399.92" stroke="#0000ff" stroke-width="0.6"/>
<line x1="210.3" y1="403.37" x2="214.3" y2="403.37" stroke="#0000ff" stroke-width="0.6"/>
<line x1="241.1" y1="401.5" x2="241.1" y2="404.95" stroke="#0000ff" stroke-width="0.6"/>
<line x1="239.1" y1="401.5" x2="243.1" y2="401.5" stroke="#0000ff" stroke-width="0.6"/>
<line x1="239.1" y1="404.95" x2="243.1" y2="404.95" stroke="#0000ff" stroke-width="0.6"/>
<polyline points="39.5,395.75 61.1,394.89 89.9,394.89 111.5,396.76 140.3,399.06 161.9,403.23 190.7,400.93 212.3,401.64 241.1,403.23" fill="none" stroke="#0000ff" stroke-width="1.05"/>
<polygon points="39.5,392.95 41.9,395.75 39.5,398.55 37.1,395.75" fill="#fff" stroke="#0000ff" stroke-width="1"/>
<polygon points="61.1,392.09 63.5,394.89 61.1,397.69 58.7,394.89" fill="#fff" stroke="#0000ff" stroke-width="1"/>
<polygon points="89.9,392.09 92.3,394.89 89.9,397.69 87.5,394.89" fill="#fff" stroke="#0000ff" stroke-width="1"/>
<polygon points="111.5,393.96 113.9,396.76 111.5,399.56 109.1,396.76" fill="#fff" stroke="#0000ff" stroke-width="1"/>
<polygon points="140.3,396.26 142.7,399.06 140.3,401.86 137.9,399.06" fill="#fff" stroke="#0000ff" stroke-width="1"/>
<polygon points="161.9,400.43 164.3,403.23 161.9,406.03 159.5,403.23" fill="#fff" stroke="#0000ff" stroke-width="1"/>
<polygon points="190.7,398.12 193.1,400.93 190.7,403.73 188.3,400.93" fill="#fff" stroke="#0000ff" stroke-width="1"/>
<polygon points="212.3,398.84 214.7,401.64 212.3,404.44 209.9,401.64" fill="#fff" stroke="#0000ff" stroke-width="1"/>
<polygon points="241.1,400.43 243.5,403.23 241.1,406.03 238.7,403.23" fill="#fff" stroke="#0000ff" stroke-width="1"/>
<line x1="39.5" y1="394.31" x2="39.5" y2="397.19" stroke="#ff0000" stroke-width="0.6"/>
<line x1="37.5" y1="394.31" x2="41.5" y2="394.31" stroke="#ff0000" stroke-width="0.6"/>
<line x1="37.5" y1="397.19" x2="41.5" y2="397.19" stroke="#ff0000" stroke-width="0.6"/>
<line x1="61.1" y1="395.18" x2="61.1" y2="399.2" stroke="#ff0000" stroke-width="0.6"/>
<line x1="59.1" y1="395.18" x2="63.1" y2="395.18" stroke="#ff0000" stroke-width="0.6"/>
<line x1="59.1" y1="399.2" x2="63.1" y2="399.2" stroke="#ff0000" stroke-width="0.6"/>
<line x1="89.9" y1="396.61" x2="89.9" y2="401.21" stroke="#ff0000" stroke-width="0.6"/>
<line x1="87.9" y1="396.61" x2="91.9" y2="396.61" stroke="#ff0000" stroke-width="0.6"/>
<line x1="87.9" y1="401.21" x2="91.9" y2="401.21" stroke="#ff0000" stroke-width="0.6"/>
<line x1="111.5" y1="392.16" x2="111.5" y2="396.76" stroke="#ff0000" stroke-width="0.6"/>
<line x1="109.5" y1="392.16" x2="113.5" y2="392.16" stroke="#ff0000" stroke-width="0.6"/>
<line x1="109.5" y1="396.76" x2="113.5" y2="396.76" stroke="#ff0000" stroke-width="0.6"/>
<line x1="140.3" y1="397.76" x2="140.3" y2="402.36" stroke="#ff0000" stroke-width="0.6"/>
<line x1="138.3" y1="397.76" x2="142.3" y2="397.76" stroke="#ff0000" stroke-width="0.6"/>
<line x1="138.3" y1="402.36" x2="142.3" y2="402.36" stroke="#ff0000" stroke-width="0.6"/>
<line x1="161.9" y1="394.74" x2="161.9" y2="399.34" stroke="#ff0000" stroke-width="0.6"/>
<line x1="159.9" y1="394.74" x2="163.9" y2="394.74" stroke="#ff0000" stroke-width="0.6"/>
<line x1="159.9" y1="399.34" x2="163.9" y2="399.34" stroke="#ff0000" stroke-width="0.6"/>
<line x1="190.7" y1="398.34" x2="190.7" y2="402.94" stroke="#ff0000" stroke-width="0.6"/>
<line x1="188.7" y1="398.34" x2="192.7" y2="398.34" stroke="#ff0000" stroke-width="0.6"/>
<line x1="188.7" y1="402.94" x2="192.7" y2="402.94" stroke="#ff0000" stroke-width="0.6"/>
<line x1="212.3" y1="396.04" x2="212.3" y2="400.06" stroke="#ff0000" stroke-width="0.6"/>
<line x1="210.3" y1="396.04" x2="214.3" y2="396.04" stroke="#ff0000" stroke-width="0.6"/>
<line x1="210.3" y1="400.06" x2="214.3" y2="400.06" stroke="#ff0000" stroke-width="0.6"/>
<line x1="241.1" y1="398.05" x2="241.1" y2="402.07" stroke="#ff0000" stroke-width="0.6"/>
<line x1="239.1" y1="398.05" x2="243.1" y2="398.05" stroke="#ff0000" stroke-width="0.6"/>
<line x1="239.1" y1="402.07" x2="243.1" y2="402.07" stroke="#ff0000" stroke-width="0.6"/>
<polyline points="39.5,395.75 61.1,397.19 89.9,398.91 111.5,394.46 140.3,400.06 161.9,397.04 190.7,400.64 212.3,398.05 241.1,400.06" fill="none" stroke="#ff0000" stroke-width="1.05"/>
<rect x="36.8" y="393.05" width="5.4" height="5.4" fill="#ff0000" stroke="none" stroke-width="0"/>
<rect x="58.4" y="394.49" width="5.4" height="5.4" fill="#ff0000" stroke="none" stroke-width="0"/>
<rect x="87.2" y="396.21" width="5.4" height="5.4" fill="#ff0000" stroke="none" stroke-width="0"/>
<rect x="108.8" y="391.76" width="5.4" height="5.4" fill="#ff0000" stroke="none" stroke-width="0"/>
<rect x="137.6" y="397.36" width="5.4" height="5.4" fill="#ff0000" stroke="none" stroke-width="0"/>
<rect x="159.2" y="394.34" width="5.4" height="5.4" fill="#ff0000" stroke="none" stroke-width="0"/>
<rect x="188" y="397.94" width="5.4" height="5.4" fill="#ff0000" stroke="none" stroke-width="0"/>
<rect x="209.6" y="395.35" width="5.4" height="5.4" fill="#ff0000" stroke="none" stroke-width="0"/>
<rect x="238.4" y="397.36" width="5.4" height="5.4" fill="#ff0000" stroke="none" stroke-width="0"/>
<line x1="39.5" y1="393.31" x2="39.5" y2="396.76" stroke="#00b400" stroke-width="0.6"/>
<line x1="37.5" y1="393.31" x2="41.5" y2="393.31" stroke="#00b400" stroke-width="0.6"/>
<line x1="37.5" y1="396.76" x2="41.5" y2="396.76" stroke="#00b400" stroke-width="0.6"/>
<line x1="61.1" y1="391.29" x2="61.1" y2="395.32" stroke="#00b400" stroke-width="0.6"/>
<line x1="59.1" y1="391.29" x2="63.1" y2="391.29" stroke="#00b400" stroke-width="0.6"/>
<line x1="59.1" y1="395.32" x2="63.1" y2="395.32" stroke="#00b400" stroke-width="0.6"/>
<line x1="89.9" y1="390" x2="89.9" y2="394.02" stroke="#00b400" stroke-width="0.6"/>
<line x1="87.9" y1="390" x2="91.9" y2="390" stroke="#00b400" stroke-width="0.6"/>
<line x1="87.9" y1="394.02" x2="91.9" y2="394.02" stroke="#00b400" stroke-width="0.6"/>
<line x1="111.5" y1="391.44" x2="111.5" y2="395.46" stroke="#00b400" stroke-width="0.6"/>
<line x1="109.5" y1="391.44" x2="113.5" y2="391.44" stroke="#00b400" stroke-width="0.6"/>
<line x1="109.5" y1="395.46" x2="113.5" y2="395.46" stroke="#00b400" stroke-width="0.6"/>
<line x1="140.3" y1="387.84" x2="140.3" y2="392.44" stroke="#00b400" stroke-width="0.6"/>
<line x1="138.3" y1="387.84" x2="142.3" y2="387.84" stroke="#00b400" stroke-width="0.6"/>
<line x1="138.3" y1="392.44" x2="142.3" y2="392.44" stroke="#00b400" stroke-width="0.6"/>
<line x1="161.9" y1="391.15" x2="161.9" y2="395.75" stroke="#00b400" stroke-width="0.6"/>
<line x1="159.9" y1="391.15" x2="163.9" y2="391.15" stroke="#00b400" stroke-width="0.6"/>
<line x1="159.9" y1="395.75" x2="163.9" y2="395.75" stroke="#00b400" stroke-width="0.6"/>
<line x1="190.7" y1="384.97" x2="190.7" y2="389.57" stroke="#00b400" stroke-width="0.6"/>
<line x1="188.7" y1="384.97" x2="192.7" y2="384.97" stroke="#00b400" stroke-width="0.6"/>
<line x1="188.7" y1="389.57" x2="192.7" y2="389.57" stroke="#00b400" stroke-width="0.6"/>
<line x1="212.3" y1="386.84" x2="212.3" y2="390.86" stroke="#00b400" stroke-width="0.6"/>
<line x1="210.3" y1="386.84" x2="214.3" y2="386.84" stroke="#00b400" stroke-width="0.6"/>
<line x1="210.3" y1="390.86" x2="214.3" y2="390.86" stroke="#00b400" stroke-width="0.6"/>
<line x1="241.1" y1="388.13" x2="241.1" y2="392.16" stroke="#00b400" stroke-width="0.6"/>
<line x1="239.1" y1="388.13" x2="243.1" y2="388.13" stroke="#00b400" stroke-width="0.6"/>
<line x1="239.1" y1="392.16" x2="243.1" y2="392.16" stroke="#00b400" stroke-width="0.6"/>
<polyline points="39.5,395.03 61.1,393.31 89.9,392.01 111.5,393.45 140.3,390.14 161.9,393.45 190.7,387.27 212.3,388.85 241.1,390.14" fill="none" stroke="#00b400" stroke-width="1.05"/>
<polygon points="39.5,398.13 42.45,392.71 36.55,392.71" fill="#00b400" stroke="none" stroke-width="0"/>
<polygon points="61.1,396.41 64.05,390.98 58.16,390.98" fill="#00b400" stroke="none" stroke-width="0"/>
<polygon points="89.9,395.11 92.84,389.69 86.96,389.69" fill="#00b400" stroke="none" stroke-width="0"/>
<polygon points="111.5,396.55 114.44,391.12 108.56,391.12" fill="#00b400" stroke="none" stroke-width="0"/>
<polygon points="140.3,393.24 143.25,387.82 137.36,387.82" fill="#00b400" stroke="none" stroke-width="0"/>
<polygon points="161.9,396.55 164.84,391.12 158.96,391.12" fill="#00b400" stroke="none" stroke-width="0"/>
<polygon points="190.7,390.37 193.65,384.94 187.76,384.94" fill="#00b400" stroke="none" stroke-width="0"/>
<polygon points="212.3,391.95 215.25,386.53 209.36,386.53" fill="#00b400" stroke="none" stroke-width="0"/>
<polygon points="241.1,393.24 244.04,387.82 238.16,387.82" fill="#00b400" stroke="none" stroke-width="0"/>
<polyline points="39.5,396.18 61.1,402.94 89.9,409.41 111.5,413 140.3,415.59 161.9,418.61 190.7,419.04 212.3,419.32 241.1,419.61" fill="none" stroke="#ff0000" stroke-width="1.05"/>
<rect x="37.1" y="393.78" width="4.8" height="4.8" fill="#fff" stroke="#ff0000" stroke-width="1"/>
<rect x="58.7" y="400.54" width="4.8" height="4.8" fill="#fff" stroke="#ff0000" stroke-width="1"/>
<rect x="87.5" y="407.01" width="4.8" height="4.8" fill="#fff" stroke="#ff0000" stroke-width="1"/>
<rect x="109.1" y="410.6" width="4.8" height="4.8" fill="#fff" stroke="#ff0000" stroke-width="1"/>
<rect x="137.9" y="413.19" width="4.8" height="4.8" fill="#fff" stroke="#ff0000" stroke-width="1"/>
<rect x="159.5" y="416.21" width="4.8" height="4.8" fill="#fff" stroke="#ff0000" stroke-width="1"/>
<rect x="188.3" y="416.64" width="4.8" height="4.8" fill="#fff" stroke="#ff0000" stroke-width="1"/>
<rect x="209.9" y="416.93" width="4.8" height="4.8" fill="#fff" stroke="#ff0000" stroke-width="1"/>
<rect x="238.7" y="417.21" width="4.8" height="4.8" fill="#fff" stroke="#ff0000" stroke-width="1"/>
<line x1="39.5" y1="394.6" x2="39.5" y2="396.9" stroke="#0000ff" stroke-width="0.6"/>
<line x1="37.5" y1="394.6" x2="41.5" y2="394.6" stroke="#0000ff" stroke-width="0.6"/>
<line x1="37.5" y1="396.9" x2="41.5" y2="396.9" stroke="#0000ff" stroke-width="0.6"/>
<line x1="61.1" y1="390.72" x2="61.1" y2="396.47" stroke="#0000ff" stroke-width="0.6"/>
<line x1="59.1" y1="390.72" x2="63.1" y2="390.72" stroke="#0000ff" stroke-width="0.6"/>
<line x1="59.1" y1="396.47" x2="63.1" y2="396.47" stroke="#0000ff" stroke-width="0.6"/>
<line x1="89.9" y1="375.62" x2="89.9" y2="385.69" stroke="#0000ff" stroke-width="0.6"/>
<line x1="87.9" y1="375.62" x2="91.9" y2="375.62" stroke="#0000ff" stroke-width="0.6"/>
<line x1="87.9" y1="385.69" x2="91.9" y2="385.69" stroke="#0000ff" stroke-width="0.6"/>
<line x1="111.5" y1="370.02" x2="111.5" y2="381.52" stroke="#0000ff" stroke-width="0.6"/>
<line x1="109.5" y1="370.02" x2="113.5" y2="370.02" stroke="#0000ff" stroke-width="0.6"/>
<line x1="109.5" y1="381.52" x2="113.5" y2="381.52" stroke="#0000ff" stroke-width="0.6"/>
<line x1="140.3" y1="361.39" x2="140.3" y2="373.76" stroke="#0000ff" stroke-width="0.6"/>
<line x1="138.3" y1="361.39" x2="142.3" y2="361.39" stroke="#0000ff" stroke-width="0.6"/>
<line x1="138.3" y1="373.76" x2="142.3" y2="373.76" stroke="#0000ff" stroke-width="0.6"/>
<line x1="161.9" y1="360.68" x2="161.9" y2="375.05" stroke="#0000ff" stroke-width="0.6"/>
<line x1="159.9" y1="360.68" x2="163.9" y2="360.68" stroke="#0000ff" stroke-width="0.6"/>
<line x1="159.9" y1="375.05" x2="163.9" y2="375.05" stroke="#0000ff" stroke-width="0.6"/>
<line x1="190.7" y1="357.37" x2="190.7" y2="374.04" stroke="#0000ff" stroke-width="0.6"/>
<line x1="188.7" y1="357.37" x2="192.7" y2="357.37" stroke="#0000ff" stroke-width="0.6"/>
<line x1="188.7" y1="374.04" x2="192.7" y2="374.04" stroke="#0000ff" stroke-width="0.6"/>
<line x1="212.3" y1="356.79" x2="212.3" y2="370.02" stroke="#0000ff" stroke-width="0.6"/>
<line x1="210.3" y1="356.79" x2="214.3" y2="356.79" stroke="#0000ff" stroke-width="0.6"/>
<line x1="210.3" y1="370.02" x2="214.3" y2="370.02" stroke="#0000ff" stroke-width="0.6"/>
<line x1="241.1" y1="347.31" x2="241.1" y2="361.68" stroke="#0000ff" stroke-width="0.6"/>
<line x1="239.1" y1="347.31" x2="243.1" y2="347.31" stroke="#0000ff" stroke-width="0.6"/>
<line x1="239.1" y1="361.68" x2="243.1" y2="361.68" stroke="#0000ff" stroke-width="0.6"/>
<polyline points="39.5,395.75 61.1,393.59 89.9,380.66 111.5,375.77 140.3,367.57 161.9,367.86 190.7,365.71 212.3,363.41 241.1,354.49" fill="none" stroke="#0000ff" stroke-width="1.05"/>
<polygon points="39.5,392.65 42.2,395.75 39.5,398.85 36.8,395.75" fill="#0000ff" stroke="none" stroke-width="0"/>
<polygon points="61.1,390.49 63.8,393.59 61.1,396.69 58.4,393.59" fill="#0000ff" stroke="none" stroke-width="0"/>
<polygon points="89.9,377.56 92.6,380.66 89.9,383.76 87.2,380.66" fill="#0000ff" stroke="none" stroke-width="0"/>
<polygon points="111.5,372.67 114.2,375.77 111.5,378.87 108.8,375.77" fill="#0000ff" stroke="none" stroke-width="0"/>
<polygon points="140.3,364.47 143,367.57 140.3,370.68 137.6,367.57" fill="#0000ff" stroke="none" stroke-width="0"/>
<polygon points="161.9,364.76 164.6,367.86 161.9,370.96 159.2,367.86" fill="#0000ff" stroke="none" stroke-width="0"/>
<polygon points="190.7,362.61 193.4,365.71 190.7,368.81 188,365.71" fill="#0000ff" stroke="none" stroke-width="0"/>
<polygon points="212.3,360.31 215,363.41 212.3,366.51 209.6,363.41" fill="#0000ff" stroke="none" stroke-width="0"/>
<polygon points="241.1,351.39 243.8,354.49 241.1,357.59 238.4,354.49" fill="#0000ff" stroke="none" stroke-width="0"/>
<line x1="39.5" y1="394.6" x2="39.5" y2="396.9" stroke="#000" stroke-width="0.6"/>
<line x1="37.5" y1="394.6" x2="41.5" y2="394.6" stroke="#000" stroke-width="0.6"/>
<line x1="37.5" y1="396.9" x2="41.5" y2="396.9" stroke="#000" stroke-width="0.6"/>
<line x1="61.1" y1="388.13" x2="61.1" y2="393.31" stroke="#000" stroke-width="0.6"/>
<line x1="59.1" y1="388.13" x2="63.1" y2="388.13" stroke="#000" stroke-width="0.6"/>
<line x1="59.1" y1="393.31" x2="63.1" y2="393.31" stroke="#000" stroke-width="0.6"/>
<line x1="89.9" y1="374.48" x2="89.9" y2="382.52" stroke="#000" stroke-width="0.6"/>
<line x1="87.9" y1="374.48" x2="91.9" y2="374.48" stroke="#000" stroke-width="0.6"/>
<line x1="87.9" y1="382.52" x2="91.9" y2="382.52" stroke="#000" stroke-width="0.6"/>
<line x1="111.5" y1="367.14" x2="111.5" y2="377.78" stroke="#000" stroke-width="0.6"/>
<line x1="109.5" y1="367.14" x2="113.5" y2="367.14" stroke="#000" stroke-width="0.6"/>
<line x1="109.5" y1="377.78" x2="113.5" y2="377.78" stroke="#000" stroke-width="0.6"/>
<line x1="140.3" y1="358.09" x2="140.3" y2="367.29" stroke="#000" stroke-width="0.6"/>
<line x1="138.3" y1="358.09" x2="142.3" y2="358.09" stroke="#000" stroke-width="0.6"/>
<line x1="138.3" y1="367.29" x2="142.3" y2="367.29" stroke="#000" stroke-width="0.6"/>
<line x1="161.9" y1="352.62" x2="161.9" y2="365.56" stroke="#000" stroke-width="0.6"/>
<line x1="159.9" y1="352.62" x2="163.9" y2="352.62" stroke="#000" stroke-width="0.6"/>
<line x1="159.9" y1="365.56" x2="163.9" y2="365.56" stroke="#000" stroke-width="0.6"/>
<line x1="190.7" y1="338.83" x2="190.7" y2="352.62" stroke="#000" stroke-width="0.6"/>
<line x1="188.7" y1="338.83" x2="192.7" y2="338.83" stroke="#000" stroke-width="0.6"/>
<line x1="188.7" y1="352.62" x2="192.7" y2="352.62" stroke="#000" stroke-width="0.6"/>
<line x1="212.3" y1="320.42" x2="212.3" y2="339.69" stroke="#000" stroke-width="0.6"/>
<line x1="210.3" y1="320.42" x2="214.3" y2="320.42" stroke="#000" stroke-width="0.6"/>
<line x1="210.3" y1="339.69" x2="214.3" y2="339.69" stroke="#000" stroke-width="0.6"/>
<line x1="241.1" y1="307.77" x2="241.1" y2="330.77" stroke="#000" stroke-width="0.6"/>
<line x1="239.1" y1="307.77" x2="243.1" y2="307.77" stroke="#000" stroke-width="0.6"/>
<line x1="239.1" y1="330.77" x2="243.1" y2="330.77" stroke="#000" stroke-width="0.6"/>
<polyline points="39.5,395.75 61.1,390.72 89.9,378.5 111.5,372.46 140.3,362.69 161.9,359.09 190.7,345.73 212.3,330.06 241.1,319.27" fill="none" stroke="#000" stroke-width="1.05"/>
<circle cx="39.5" cy="395.75" r="2.7" fill="#000" stroke="none" stroke-width="0"/>
<circle cx="61.1" cy="390.72" r="2.7" fill="#000" stroke="none" stroke-width="0"/>
<circle cx="89.9" cy="378.5" r="2.7" fill="#000" stroke="none" stroke-width="0"/>
<circle cx="111.5" cy="372.46" r="2.7" fill="#000" stroke="none" stroke-width="0"/>
<circle cx="140.3" cy="362.69" r="2.7" fill="#000" stroke="none" stroke-width="0"/>
<circle cx="161.9" cy="359.09" r="2.7" fill="#000" stroke="none" stroke-width="0"/>
<circle cx="190.7" cy="345.73" r="2.7" fill="#000" stroke="none" stroke-width="0"/>
<circle cx="212.3" cy="330.06" r="2.7" fill="#000" stroke="none" stroke-width="0"/>
<circle cx="241.1" cy="319.27" r="2.7" fill="#000" stroke="none" stroke-width="0"/>
<line x1="104.3" y1="417.6" x2="104.3" y2="422.2" stroke="#000" stroke-width="1.1"/>
<polygon points="102.4,420.2 106.2,420.2 104.3,424.2" fill="#000" stroke="none" stroke-width="0"/>
<line x1="154.7" y1="417.6" x2="154.7" y2="422.2" stroke="#000" stroke-width="1.1"/>
<polygon points="152.8,420.2 156.6,420.2 154.7,424.2" fill="#000" stroke="none" stroke-width="0"/>
<text x="146.5" y="283.34" font-size="7.1" text-anchor="middle">MCF7</text>
<text x="147.5" y="450.12" font-size="7.6" text-anchor="middle">Day</text>
<text x="6.9" y="355.7" font-size="7.83" text-anchor="middle" transform="rotate(-90 6.9 352.9)">Mean Tumor Volume (mm³)</text>
<text x="247.6" y="341.08" font-size="7.2">%TGI</text>
<text x="250.4" y="354.88" font-size="7.2">46<tspan font-size="3.96" dy="-2.4">ns</tspan></text>
<text x="250.4" y="392.38" font-size="7.2">94****</text>
<text x="248.8" y="405.38" font-size="7.2">105,108****</text>
<text x="249" y="422.78" font-size="7.2">131****</text>
<line x1="307.3" y1="338.5" x2="316.5" y2="338.5" stroke="#000" stroke-width="1.05"/>
<circle cx="311.9" cy="338.5" r="2.48" fill="#000" stroke="none" stroke-width="0"/>
<text x="323" y="341.32" font-size="7.88">Vehicle po qdx28</text>
<line x1="307.3" y1="353.6" x2="316.5" y2="353.6" stroke="#0000ff" stroke-width="1.05"/>
<polygon points="311.9,350.75 314.38,353.6 311.9,356.45 309.42,353.6" fill="#0000ff" stroke="none" stroke-width="0"/>
<text x="323" y="356.42" font-size="7.88">Fulvestrant 200 mg/kg sc biwx2, qwx2</text>
<line x1="307.3" y1="368.7" x2="316.5" y2="368.7" stroke="#00b400" stroke-width="1.05"/>
<polygon points="311.9,371.55 314.61,366.56 309.19,366.56" fill="#00b400" stroke="none" stroke-width="0"/>
<text x="323" y="371.52" font-size="7.88">Palbociclib 60 mg/kg po qdx28</text>
<line x1="307.3" y1="383.6" x2="316.5" y2="383.6" stroke="#ff0000" stroke-width="1.05"/>
<rect x="309.42" y="381.12" width="4.97" height="4.97" fill="#ff0000" stroke="none" stroke-width="0"/>
<text x="323" y="386.42" font-size="7.88">Vepdegestrant 30 mg/kg po qdx28</text>
<line x1="307.3" y1="398.8" x2="316.5" y2="398.8" stroke="#0000ff" stroke-width="1.05"/>
<polygon points="311.9,396.22 314.11,398.8 311.9,401.38 309.69,398.8" fill="#fff" stroke="#0000ff" stroke-width="1"/>
<line x1="307.3" y1="398.8" x2="316.5" y2="398.8" stroke="#0000ff" stroke-width="0.8"/>
<text x="323" y="401.62" font-size="7.88">Fulvestrant + Palbociclib</text>
<line x1="307.3" y1="414" x2="316.5" y2="414" stroke="#ff0000" stroke-width="1.05"/>
<rect x="309.69" y="411.79" width="4.42" height="4.42" fill="#fff" stroke="#ff0000" stroke-width="1"/>
<line x1="307.3" y1="414" x2="316.5" y2="414" stroke="#ff0000" stroke-width="0.8"/>
<text x="323" y="416.82" font-size="7.88">Vepdegestrant + Palbociclib</text>
<line x1="311.9" y1="425.7" x2="311.9" y2="430.3" stroke="#000" stroke-width="1.1"/>
<polygon points="310,428.3 313.8,428.3 311.9,432.3" fill="#000" stroke="none" stroke-width="0"/>
<text x="321.5" y="432.02" font-size="7.88">po dosing holiday</text>
<line x1="41" y1="598.5" x2="234" y2="598.5" stroke="#222" stroke-width="0.7" stroke-dasharray="1 1"/>
<line x1="41.15" y1="497.55" x2="41.15" y2="621.25" stroke="#000" stroke-width="0.95"/>
<line x1="40.7" y1="620.8" x2="237.45" y2="620.8" stroke="#000" stroke-width="0.95"/>
<line x1="37.75" y1="620.8" x2="41.15" y2="620.8" stroke="#000" stroke-width="0.95"/>
<text x="34.65" y="623.54" font-size="7.65" text-anchor="end">0</text>
<line x1="39.25" y1="608.52" x2="41.15" y2="608.52" stroke="#000" stroke-width="0.95"/>
<line x1="37.75" y1="596.24" x2="41.15" y2="596.24" stroke="#000" stroke-width="0.95"/>
<text x="34.65" y="598.98" font-size="7.65" text-anchor="end">200</text>
<line x1="39.25" y1="583.96" x2="41.15" y2="583.96" stroke="#000" stroke-width="0.95"/>
<line x1="37.75" y1="571.68" x2="41.15" y2="571.68" stroke="#000" stroke-width="0.95"/>
<text x="34.65" y="574.42" font-size="7.65" text-anchor="end">400</text>
<line x1="39.25" y1="559.4" x2="41.15" y2="559.4" stroke="#000" stroke-width="0.95"/>
<line x1="37.75" y1="547.12" x2="41.15" y2="547.12" stroke="#000" stroke-width="0.95"/>
<text x="34.65" y="549.86" font-size="7.65" text-anchor="end">600</text>
<line x1="39.25" y1="534.84" x2="41.15" y2="534.84" stroke="#000" stroke-width="0.95"/>
<line x1="37.75" y1="522.56" x2="41.15" y2="522.56" stroke="#000" stroke-width="0.95"/>
<text x="34.65" y="525.3" font-size="7.65" text-anchor="end">800</text>
<line x1="39.25" y1="510.28" x2="41.15" y2="510.28" stroke="#000" stroke-width="0.95"/>
<line x1="37.75" y1="498" x2="41.15" y2="498" stroke="#000" stroke-width="0.95"/>
<text x="34.65" y="500.74" font-size="7.65" text-anchor="end">1,000</text>
<line x1="41.15" y1="620.8" x2="41.15" y2="623.6" stroke="#000" stroke-width="0.95"/>
<text x="41.15" y="633.14" font-size="7.65" text-anchor="middle">0</text>
<line x1="48.2" y1="620.8" x2="48.2" y2="622.5" stroke="#000" stroke-width="0.95"/>
<line x1="55.25" y1="620.8" x2="55.25" y2="622.5" stroke="#000" stroke-width="0.95"/>
<line x1="62.3" y1="620.8" x2="62.3" y2="622.5" stroke="#000" stroke-width="0.95"/>
<line x1="69.35" y1="620.8" x2="69.35" y2="622.5" stroke="#000" stroke-width="0.95"/>
<line x1="76.4" y1="620.8" x2="76.4" y2="623.6" stroke="#000" stroke-width="0.95"/>
<text x="76.4" y="633.14" font-size="7.65" text-anchor="middle">5</text>
<line x1="83.45" y1="620.8" x2="83.45" y2="622.5" stroke="#000" stroke-width="0.95"/>
<line x1="90.5" y1="620.8" x2="90.5" y2="622.5" stroke="#000" stroke-width="0.95"/>
<line x1="97.55" y1="620.8" x2="97.55" y2="622.5" stroke="#000" stroke-width="0.95"/>
<line x1="104.6" y1="620.8" x2="104.6" y2="622.5" stroke="#000" stroke-width="0.95"/>
<line x1="111.65" y1="620.8" x2="111.65" y2="623.6" stroke="#000" stroke-width="0.95"/>
<text x="111.65" y="633.14" font-size="7.65" text-anchor="middle">10</text>
<line x1="118.7" y1="620.8" x2="118.7" y2="622.5" stroke="#000" stroke-width="0.95"/>
<line x1="125.75" y1="620.8" x2="125.75" y2="622.5" stroke="#000" stroke-width="0.95"/>
<line x1="132.8" y1="620.8" x2="132.8" y2="622.5" stroke="#000" stroke-width="0.95"/>
<line x1="139.85" y1="620.8" x2="139.85" y2="622.5" stroke="#000" stroke-width="0.95"/>
<line x1="146.9" y1="620.8" x2="146.9" y2="623.6" stroke="#000" stroke-width="0.95"/>
<text x="146.9" y="633.14" font-size="7.65" text-anchor="middle">15</text>
<line x1="153.95" y1="620.8" x2="153.95" y2="622.5" stroke="#000" stroke-width="0.95"/>
<line x1="161" y1="620.8" x2="161" y2="622.5" stroke="#000" stroke-width="0.95"/>
<line x1="168.05" y1="620.8" x2="168.05" y2="622.5" stroke="#000" stroke-width="0.95"/>
<line x1="175.1" y1="620.8" x2="175.1" y2="622.5" stroke="#000" stroke-width="0.95"/>
<line x1="182.15" y1="620.8" x2="182.15" y2="623.6" stroke="#000" stroke-width="0.95"/>
<text x="182.15" y="633.14" font-size="7.65" text-anchor="middle">20</text>
<line x1="189.2" y1="620.8" x2="189.2" y2="622.5" stroke="#000" stroke-width="0.95"/>
<line x1="196.25" y1="620.8" x2="196.25" y2="622.5" stroke="#000" stroke-width="0.95"/>
<line x1="203.3" y1="620.8" x2="203.3" y2="622.5" stroke="#000" stroke-width="0.95"/>
<line x1="210.35" y1="620.8" x2="210.35" y2="622.5" stroke="#000" stroke-width="0.95"/>
<line x1="217.4" y1="620.8" x2="217.4" y2="623.6" stroke="#000" stroke-width="0.95"/>
<text x="217.4" y="633.14" font-size="7.65" text-anchor="middle">25</text>
<line x1="224.45" y1="620.8" x2="224.45" y2="622.5" stroke="#000" stroke-width="0.95"/>
<line x1="231.5" y1="620.8" x2="231.5" y2="622.5" stroke="#000" stroke-width="0.95"/>
<polyline points="41,597.84 76.25,605.31 97.4,608.25 125.6,612.05 146.75,612.78 174.95,614.38 196.1,615.72 224.3,615.72" fill="none" stroke="#ff0000" stroke-width="1.05"/>
<polygon points="41,594.54 43.9,597.84 41,601.14 38.1,597.84" fill="#fff" stroke="#ff0000" stroke-width="1"/>
<polygon points="41,596.54 42.15,597.84 41,599.14 39.85,597.84" fill="#fff" stroke="#ff0000" stroke-width="0.6"/>
<polygon points="76.25,602.01 79.15,605.31 76.25,608.61 73.35,605.31" fill="#fff" stroke="#ff0000" stroke-width="1"/>
<polygon points="76.25,604.01 77.4,605.31 76.25,606.61 75.1,605.31" fill="#fff" stroke="#ff0000" stroke-width="0.6"/>
<polygon points="97.4,604.95 100.3,608.25 97.4,611.55 94.5,608.25" fill="#fff" stroke="#ff0000" stroke-width="1"/>
<polygon points="97.4,606.95 98.55,608.25 97.4,609.55 96.25,608.25" fill="#fff" stroke="#ff0000" stroke-width="0.6"/>
<polygon points="125.6,608.75 128.5,612.05 125.6,615.35 122.7,612.05" fill="#fff" stroke="#ff0000" stroke-width="1"/>
<polygon points="125.6,610.75 126.75,612.05 125.6,613.35 124.45,612.05" fill="#fff" stroke="#ff0000" stroke-width="0.6"/>
<polygon points="146.75,609.48 149.65,612.78 146.75,616.08 143.85,612.78" fill="#fff" stroke="#ff0000" stroke-width="1"/>
<polygon points="146.75,611.48 147.9,612.78 146.75,614.08 145.6,612.78" fill="#fff" stroke="#ff0000" stroke-width="0.6"/>
<polygon points="174.95,611.08 177.85,614.38 174.95,617.67 172.05,614.38" fill="#fff" stroke="#ff0000" stroke-width="1"/>
<polygon points="174.95,613.08 176.1,614.38 174.95,615.67 173.8,614.38" fill="#fff" stroke="#ff0000" stroke-width="0.6"/>
<polygon points="196.1,612.42 199,615.72 196.1,619.02 193.2,615.72" fill="#fff" stroke="#ff0000" stroke-width="1"/>
<polygon points="196.1,614.42 197.25,615.72 196.1,617.02 194.95,615.72" fill="#fff" stroke="#ff0000" stroke-width="0.6"/>
<polygon points="224.3,612.42 227.2,615.72 224.3,619.02 221.4,615.72" fill="#fff" stroke="#ff0000" stroke-width="1"/>
<polygon points="224.3,614.42 225.45,615.72 224.3,617.02 223.15,615.72" fill="#fff" stroke="#ff0000" stroke-width="0.6"/>
<polyline points="41,597.84 76.25,597.47 97.4,600.53 125.6,602.25 146.75,600.04 174.95,600.29 196.1,600.65 224.3,600.04" fill="none" stroke="#ff0000" stroke-width="1.05"/>
<polygon points="41,594.74 43.7,597.84 41,600.94 38.3,597.84" fill="#ff0000" stroke="none" stroke-width="0"/>
<polygon points="76.25,594.37 78.95,597.47 76.25,600.57 73.55,597.47" fill="#ff0000" stroke="none" stroke-width="0"/>
<polygon points="97.4,597.43 100.1,600.53 97.4,603.63 94.7,600.53" fill="#ff0000" stroke="none" stroke-width="0"/>
<polygon points="125.6,599.15 128.3,602.25 125.6,605.35 122.9,602.25" fill="#ff0000" stroke="none" stroke-width="0"/>
<polygon points="146.75,596.94 149.45,600.04 146.75,603.14 144.05,600.04" fill="#ff0000" stroke="none" stroke-width="0"/>
<polygon points="174.95,597.19 177.65,600.29 174.95,603.39 172.25,600.29" fill="#ff0000" stroke="none" stroke-width="0"/>
<polygon points="196.1,597.55 198.8,600.65 196.1,603.75 193.4,600.65" fill="#ff0000" stroke="none" stroke-width="0"/>
<polygon points="224.3,596.94 227,600.04 224.3,603.14 221.6,600.04" fill="#ff0000" stroke="none" stroke-width="0"/>
<polyline points="41,597.84 76.25,596.86 97.4,595.51 125.6,595.75 146.75,593.79 174.95,593.43 196.1,592.82 224.3,590.12" fill="none" stroke="#00b400" stroke-width="1.05"/>
<rect x="38.49" y="595.33" width="5.02" height="5.02" fill="#00b400" stroke="none" stroke-width="0"/>
<rect x="73.74" y="594.35" width="5.02" height="5.02" fill="#00b400" stroke="none" stroke-width="0"/>
<rect x="94.89" y="593" width="5.02" height="5.02" fill="#00b400" stroke="none" stroke-width="0"/>
<rect x="123.09" y="593.24" width="5.02" height="5.02" fill="#00b400" stroke="none" stroke-width="0"/>
<rect x="144.24" y="591.28" width="5.02" height="5.02" fill="#00b400" stroke="none" stroke-width="0"/>
<rect x="172.44" y="590.92" width="5.02" height="5.02" fill="#00b400" stroke="none" stroke-width="0"/>
<rect x="193.59" y="590.3" width="5.02" height="5.02" fill="#00b400" stroke="none" stroke-width="0"/>
<rect x="221.79" y="587.61" width="5.02" height="5.02" fill="#00b400" stroke="none" stroke-width="0"/>
<line x1="224.3" y1="515.88" x2="224.3" y2="521.28" stroke="#000" stroke-width="0.6"/>
<line x1="222.3" y1="515.88" x2="226.3" y2="515.88" stroke="#000" stroke-width="0.6"/>
<line x1="222.3" y1="521.28" x2="226.3" y2="521.28" stroke="#000" stroke-width="0.6"/>
<polyline points="41,597.84 76.25,590.86 97.4,584.98 125.6,578.12 146.75,565.99 174.95,551.9 196.1,539.16 224.3,518.58" fill="none" stroke="#000" stroke-width="1.05"/>
<circle cx="41" cy="597.84" r="2.38" fill="#000" stroke="none" stroke-width="0"/>
<circle cx="76.25" cy="590.86" r="2.38" fill="#000" stroke="none" stroke-width="0"/>
<circle cx="97.4" cy="584.98" r="2.38" fill="#000" stroke="none" stroke-width="0"/>
<circle cx="125.6" cy="578.12" r="2.38" fill="#000" stroke="none" stroke-width="0"/>
<circle cx="146.75" cy="565.99" r="2.38" fill="#000" stroke="none" stroke-width="0"/>
<circle cx="174.95" cy="551.9" r="2.38" fill="#000" stroke="none" stroke-width="0"/>
<circle cx="196.1" cy="539.16" r="2.38" fill="#000" stroke="none" stroke-width="0"/>
<circle cx="224.3" cy="518.58" r="2.38" fill="#000" stroke="none" stroke-width="0"/>
<line x1="132.65" y1="613.6" x2="132.65" y2="618.2" stroke="#000" stroke-width="1.1"/>
<polygon points="130.75,616.2 134.55,616.2 132.65,620.2" fill="#000" stroke="none" stroke-width="0"/>
<text x="147.4" y="499.54" font-size="7.1" text-anchor="middle">MCF7</text>
<text x="139.3" y="645.32" font-size="7.6" text-anchor="middle">Day</text>
<text x="8.7" y="562.7" font-size="7.83" text-anchor="middle" transform="rotate(-90 8.7 559.9)">Mean Tumor Volume (mm³)</text>
<text x="230.6" y="573.88" font-size="7.2">%TGI</text>
<text x="236" y="590.98" font-size="7.2">89 ****</text>
<text x="234" y="602.58" font-size="7.2">102 ****</text>
<text x="234" y="617.08" font-size="7.2">122 ****</text>
<line x1="278.7" y1="534.5" x2="287.1" y2="534.5" stroke="#000" stroke-width="1.05"/>
<circle cx="282.9" cy="534.5" r="2.48" fill="#000" stroke="none" stroke-width="0"/>
<text x="292.7" y="537.32" font-size="7.88">Vehicle po qdx26</text>
<line x1="278.7" y1="549.8" x2="287.1" y2="549.8" stroke="#00b400" stroke-width="1.05"/>
<rect x="280.42" y="547.32" width="4.97" height="4.97" fill="#00b400" stroke="none" stroke-width="0"/>
<text x="292.7" y="552.62" font-size="7.88">Everolimus 2.5 mg/kg po qdx26</text>
<line x1="278.7" y1="564.9" x2="287.1" y2="564.9" stroke="#ff0000" stroke-width="1.05"/>
<polygon points="282.9,562.05 285.38,564.9 282.9,567.75 280.42,564.9" fill="#ff0000" stroke="none" stroke-width="0"/>
<text x="292.7" y="567.72" font-size="7.88">Vepdegestrant 30 mg/kg po qdx26</text>
<line x1="278.7" y1="580" x2="287.1" y2="580" stroke="#ff0000" stroke-width="1.05"/>
<polygon points="282.9,576.96 285.57,580 282.9,583.04 280.23,580" fill="#fff" stroke="#ff0000" stroke-width="1"/>
<polygon points="282.9,578.8 283.96,580 282.9,581.2 281.84,580" fill="#fff" stroke="#ff0000" stroke-width="0.6"/>
<line x1="278.7" y1="580" x2="287.1" y2="580" stroke="#ff0000" stroke-width="0.8"/>
<text x="292.7" y="582.82" font-size="7.88">Vepdegestrant + Everolimus</text>
<line x1="282.9" y1="591.8" x2="282.9" y2="596.4" stroke="#000" stroke-width="1.1"/>
<polygon points="281,594.4 284.8,594.4 282.9,598.4" fill="#000" stroke="none" stroke-width="0"/>
<text x="292" y="598.12" font-size="7.88">po dosing holiday</text>
<line x1="42.5" y1="799.5" x2="260.2" y2="799.5" stroke="#000" stroke-width="1" stroke-dasharray="2.2 1.6"/>
<line x1="42.54" y1="684.05" x2="42.54" y2="822.75" stroke="#000" stroke-width="0.95"/>
<line x1="42.09" y1="822.3" x2="260.65" y2="822.3" stroke="#000" stroke-width="0.95"/>
<line x1="38.24" y1="822.3" x2="42.54" y2="822.3" stroke="#000" stroke-width="0.95"/>
<text x="35.04" y="825.04" font-size="7.65" text-anchor="end">0</text>
<line x1="40.44" y1="810.82" x2="42.54" y2="810.82" stroke="#000" stroke-width="0.95"/>
<line x1="38.24" y1="799.33" x2="42.54" y2="799.33" stroke="#000" stroke-width="0.95"/>
<text x="35.04" y="802.07" font-size="7.65" text-anchor="end">200</text>
<line x1="40.44" y1="787.85" x2="42.54" y2="787.85" stroke="#000" stroke-width="0.95"/>
<line x1="38.24" y1="776.37" x2="42.54" y2="776.37" stroke="#000" stroke-width="0.95"/>
<text x="35.04" y="779.11" font-size="7.65" text-anchor="end">400</text>
<line x1="40.44" y1="764.88" x2="42.54" y2="764.88" stroke="#000" stroke-width="0.95"/>
<line x1="38.24" y1="753.4" x2="42.54" y2="753.4" stroke="#000" stroke-width="0.95"/>
<text x="35.04" y="756.14" font-size="7.65" text-anchor="end">600</text>
<line x1="40.44" y1="741.92" x2="42.54" y2="741.92" stroke="#000" stroke-width="0.95"/>
<line x1="38.24" y1="730.44" x2="42.54" y2="730.44" stroke="#000" stroke-width="0.95"/>
<text x="35.04" y="733.17" font-size="7.65" text-anchor="end">800</text>
<line x1="40.44" y1="718.95" x2="42.54" y2="718.95" stroke="#000" stroke-width="0.95"/>
<line x1="38.24" y1="707.47" x2="42.54" y2="707.47" stroke="#000" stroke-width="0.95"/>
<text x="35.04" y="710.21" font-size="7.65" text-anchor="end">1,000</text>
<line x1="40.44" y1="695.99" x2="42.54" y2="695.99" stroke="#000" stroke-width="0.95"/>
<line x1="38.24" y1="684.5" x2="42.54" y2="684.5" stroke="#000" stroke-width="0.95"/>
<text x="35.04" y="687.24" font-size="7.65" text-anchor="end">1,200</text>
<line x1="42.54" y1="822.3" x2="42.54" y2="825.6" stroke="#000" stroke-width="0.95"/>
<text x="42.54" y="835.84" font-size="7.65" text-anchor="middle">0</text>
<line x1="49.8" y1="822.3" x2="49.8" y2="824" stroke="#000" stroke-width="0.95"/>
<line x1="57.05" y1="822.3" x2="57.05" y2="824" stroke="#000" stroke-width="0.95"/>
<line x1="64.31" y1="822.3" x2="64.31" y2="824" stroke="#000" stroke-width="0.95"/>
<line x1="71.56" y1="822.3" x2="71.56" y2="824" stroke="#000" stroke-width="0.95"/>
<line x1="78.81" y1="822.3" x2="78.81" y2="825.6" stroke="#000" stroke-width="0.95"/>
<text x="78.81" y="835.84" font-size="7.65" text-anchor="middle">5</text>
<line x1="86.07" y1="822.3" x2="86.07" y2="824" stroke="#000" stroke-width="0.95"/>
<line x1="93.32" y1="822.3" x2="93.32" y2="824" stroke="#000" stroke-width="0.95"/>
<line x1="100.58" y1="822.3" x2="100.58" y2="824" stroke="#000" stroke-width="0.95"/>
<line x1="107.84" y1="822.3" x2="107.84" y2="824" stroke="#000" stroke-width="0.95"/>
<line x1="115.09" y1="822.3" x2="115.09" y2="825.6" stroke="#000" stroke-width="0.95"/>
<text x="115.09" y="835.84" font-size="7.65" text-anchor="middle">10</text>
<line x1="122.34" y1="822.3" x2="122.34" y2="824" stroke="#000" stroke-width="0.95"/>
<line x1="129.6" y1="822.3" x2="129.6" y2="824" stroke="#000" stroke-width="0.95"/>
<line x1="136.85" y1="822.3" x2="136.85" y2="824" stroke="#000" stroke-width="0.95"/>
<line x1="144.11" y1="822.3" x2="144.11" y2="824" stroke="#000" stroke-width="0.95"/>
<line x1="151.37" y1="822.3" x2="151.37" y2="825.6" stroke="#000" stroke-width="0.95"/>
<text x="151.37" y="835.84" font-size="7.65" text-anchor="middle">15</text>
<line x1="158.62" y1="822.3" x2="158.62" y2="824" stroke="#000" stroke-width="0.95"/>
<line x1="165.88" y1="822.3" x2="165.88" y2="824" stroke="#000" stroke-width="0.95"/>
<line x1="173.13" y1="822.3" x2="173.13" y2="824" stroke="#000" stroke-width="0.95"/>
<line x1="180.38" y1="822.3" x2="180.38" y2="824" stroke="#000" stroke-width="0.95"/>
<line x1="187.64" y1="822.3" x2="187.64" y2="825.6" stroke="#000" stroke-width="0.95"/>
<text x="187.64" y="835.84" font-size="7.65" text-anchor="middle">20</text>
<line x1="194.89" y1="822.3" x2="194.89" y2="824" stroke="#000" stroke-width="0.95"/>
<line x1="202.15" y1="822.3" x2="202.15" y2="824" stroke="#000" stroke-width="0.95"/>
<line x1="209.41" y1="822.3" x2="209.41" y2="824" stroke="#000" stroke-width="0.95"/>
<line x1="216.66" y1="822.3" x2="216.66" y2="824" stroke="#000" stroke-width="0.95"/>
<line x1="223.91" y1="822.3" x2="223.91" y2="825.6" stroke="#000" stroke-width="0.95"/>
<text x="223.91" y="835.84" font-size="7.65" text-anchor="middle">25</text>
<line x1="231.17" y1="822.3" x2="231.17" y2="824" stroke="#000" stroke-width="0.95"/>
<line x1="238.42" y1="822.3" x2="238.42" y2="824" stroke="#000" stroke-width="0.95"/>
<line x1="245.68" y1="822.3" x2="245.68" y2="824" stroke="#000" stroke-width="0.95"/>
<line x1="252.94" y1="822.3" x2="252.94" y2="824" stroke="#000" stroke-width="0.95"/>
<line x1="260.19" y1="822.3" x2="260.19" y2="825.6" stroke="#000" stroke-width="0.95"/>
<text x="260.19" y="835.84" font-size="7.65" text-anchor="middle">30</text>
<polyline points="42.5,799 64.27,800.48 93.28,802.98 115.05,804.8 144.07,803.66 165.83,804 194.85,805.71 223.88,807.3 252.9,805.71" fill="none" stroke="#ff0000" stroke-width="1.05"/>
<rect x="40.27" y="796.77" width="4.46" height="4.46" fill="#fff" stroke="#ff0000" stroke-width="1"/>
<rect x="62.03" y="798.25" width="4.46" height="4.46" fill="#fff" stroke="#ff0000" stroke-width="1"/>
<rect x="91.05" y="800.75" width="4.46" height="4.46" fill="#fff" stroke="#ff0000" stroke-width="1"/>
<rect x="112.82" y="802.57" width="4.46" height="4.46" fill="#fff" stroke="#ff0000" stroke-width="1"/>
<rect x="141.84" y="801.43" width="4.46" height="4.46" fill="#fff" stroke="#ff0000" stroke-width="1"/>
<rect x="163.6" y="801.77" width="4.46" height="4.46" fill="#fff" stroke="#ff0000" stroke-width="1"/>
<rect x="192.62" y="803.48" width="4.46" height="4.46" fill="#fff" stroke="#ff0000" stroke-width="1"/>
<rect x="221.64" y="805.07" width="4.46" height="4.46" fill="#fff" stroke="#ff0000" stroke-width="1"/>
<rect x="250.66" y="803.48" width="4.46" height="4.46" fill="#fff" stroke="#ff0000" stroke-width="1"/>
<line x1="93.28" y1="795.36" x2="93.28" y2="798.09" stroke="#ff0000" stroke-width="0.9"/>
<line x1="90.78" y1="795.36" x2="95.78" y2="795.36" stroke="#ff0000" stroke-width="0.9"/>
<line x1="90.78" y1="798.09" x2="95.78" y2="798.09" stroke="#ff0000" stroke-width="0.9"/>
<line x1="115.05" y1="795.59" x2="115.05" y2="798.32" stroke="#ff0000" stroke-width="0.9"/>
<line x1="112.55" y1="795.59" x2="117.55" y2="795.59" stroke="#ff0000" stroke-width="0.9"/>
<line x1="112.55" y1="798.32" x2="117.55" y2="798.32" stroke="#ff0000" stroke-width="0.9"/>
<line x1="144.07" y1="791.95" x2="144.07" y2="795.13" stroke="#ff0000" stroke-width="0.9"/>
<line x1="141.57" y1="791.95" x2="146.57" y2="791.95" stroke="#ff0000" stroke-width="0.9"/>
<line x1="141.57" y1="795.13" x2="146.57" y2="795.13" stroke="#ff0000" stroke-width="0.9"/>
<line x1="165.83" y1="787.85" x2="165.83" y2="793.31" stroke="#ff0000" stroke-width="0.9"/>
<line x1="163.33" y1="787.85" x2="168.33" y2="787.85" stroke="#ff0000" stroke-width="0.9"/>
<line x1="163.33" y1="793.31" x2="168.33" y2="793.31" stroke="#ff0000" stroke-width="0.9"/>
<line x1="194.85" y1="787.06" x2="194.85" y2="792.97" stroke="#ff0000" stroke-width="0.9"/>
<line x1="192.35" y1="787.06" x2="197.35" y2="787.06" stroke="#ff0000" stroke-width="0.9"/>
<line x1="192.35" y1="792.97" x2="197.35" y2="792.97" stroke="#ff0000" stroke-width="0.9"/>
<line x1="223.88" y1="787.06" x2="223.88" y2="792.97" stroke="#ff0000" stroke-width="0.9"/>
<line x1="221.38" y1="787.06" x2="226.38" y2="787.06" stroke="#ff0000" stroke-width="0.9"/>
<line x1="221.38" y1="792.97" x2="226.38" y2="792.97" stroke="#ff0000" stroke-width="0.9"/>
<line x1="252.9" y1="785.81" x2="252.9" y2="792.17" stroke="#ff0000" stroke-width="0.9"/>
<line x1="250.4" y1="785.81" x2="255.4" y2="785.81" stroke="#ff0000" stroke-width="0.9"/>
<line x1="250.4" y1="792.17" x2="255.4" y2="792.17" stroke="#ff0000" stroke-width="0.9"/>
<polyline points="42.5,799 64.27,797.86 93.28,796.73 115.05,796.95 144.07,793.54 165.83,790.58 194.85,790.01 223.88,790.01 252.9,788.99" fill="none" stroke="#ff0000" stroke-width="1.05"/>
<rect x="39.99" y="796.49" width="5.02" height="5.02" fill="#ff0000" stroke="none" stroke-width="0"/>
<rect x="61.75" y="795.35" width="5.02" height="5.02" fill="#ff0000" stroke="none" stroke-width="0"/>
<rect x="90.77" y="794.21" width="5.02" height="5.02" fill="#ff0000" stroke="none" stroke-width="0"/>
<rect x="112.54" y="794.44" width="5.02" height="5.02" fill="#ff0000" stroke="none" stroke-width="0"/>
<rect x="141.56" y="791.03" width="5.02" height="5.02" fill="#ff0000" stroke="none" stroke-width="0"/>
<rect x="163.32" y="788.07" width="5.02" height="5.02" fill="#ff0000" stroke="none" stroke-width="0"/>
<rect x="192.34" y="787.5" width="5.02" height="5.02" fill="#ff0000" stroke="none" stroke-width="0"/>
<rect x="221.36" y="787.5" width="5.02" height="5.02" fill="#ff0000" stroke="none" stroke-width="0"/>
<rect x="250.38" y="786.48" width="5.02" height="5.02" fill="#ff0000" stroke="none" stroke-width="0"/>
<line x1="93.28" y1="791.38" x2="93.28" y2="793.65" stroke="#00b400" stroke-width="0.9"/>
<line x1="90.78" y1="791.38" x2="95.78" y2="791.38" stroke="#00b400" stroke-width="0.9"/>
<line x1="90.78" y1="793.65" x2="95.78" y2="793.65" stroke="#00b400" stroke-width="0.9"/>
<line x1="115.05" y1="786.94" x2="115.05" y2="789.67" stroke="#00b400" stroke-width="0.9"/>
<line x1="112.55" y1="786.94" x2="117.55" y2="786.94" stroke="#00b400" stroke-width="0.9"/>
<line x1="112.55" y1="789.67" x2="117.55" y2="789.67" stroke="#00b400" stroke-width="0.9"/>
<line x1="144.07" y1="781.25" x2="144.07" y2="784.44" stroke="#00b400" stroke-width="0.9"/>
<line x1="141.57" y1="781.25" x2="146.57" y2="781.25" stroke="#00b400" stroke-width="0.9"/>
<line x1="141.57" y1="784.44" x2="146.57" y2="784.44" stroke="#00b400" stroke-width="0.9"/>
<line x1="165.83" y1="773.63" x2="165.83" y2="780.23" stroke="#00b400" stroke-width="0.9"/>
<line x1="163.33" y1="773.63" x2="168.33" y2="773.63" stroke="#00b400" stroke-width="0.9"/>
<line x1="163.33" y1="780.23" x2="168.33" y2="780.23" stroke="#00b400" stroke-width="0.9"/>
<line x1="194.85" y1="762.83" x2="194.85" y2="770.11" stroke="#00b400" stroke-width="0.9"/>
<line x1="192.35" y1="762.83" x2="197.35" y2="762.83" stroke="#00b400" stroke-width="0.9"/>
<line x1="192.35" y1="770.11" x2="197.35" y2="770.11" stroke="#00b400" stroke-width="0.9"/>
<line x1="223.88" y1="756" x2="223.88" y2="765.1" stroke="#00b400" stroke-width="0.9"/>
<line x1="221.38" y1="756" x2="226.38" y2="756" stroke="#00b400" stroke-width="0.9"/>
<line x1="221.38" y1="765.1" x2="226.38" y2="765.1" stroke="#00b400" stroke-width="0.9"/>
<line x1="252.9" y1="744.51" x2="252.9" y2="755.66" stroke="#00b400" stroke-width="0.9"/>
<line x1="250.4" y1="744.51" x2="255.4" y2="744.51" stroke="#00b400" stroke-width="0.9"/>
<line x1="250.4" y1="755.66" x2="255.4" y2="755.66" stroke="#00b400" stroke-width="0.9"/>
<polyline points="42.5,799 64.27,797.52 93.28,792.52 115.05,788.31 144.07,782.85 165.83,776.93 194.85,766.47 223.88,760.55 252.9,750.09" fill="none" stroke="#00b400" stroke-width="1.05"/>
<polygon points="42.5,795.9 45.45,801.33 39.55,801.33" fill="#00b400" stroke="none" stroke-width="0"/>
<polygon points="64.27,794.42 67.21,799.85 61.32,799.85" fill="#00b400" stroke="none" stroke-width="0"/>
<polygon points="93.28,789.42 96.23,794.84 90.34,794.84" fill="#00b400" stroke="none" stroke-width="0"/>
<polygon points="115.05,785.21 117.99,790.63 112.11,790.63" fill="#00b400" stroke="none" stroke-width="0"/>
<polygon points="144.07,779.75 147.01,785.17 141.12,785.17" fill="#00b400" stroke="none" stroke-width="0"/>
<polygon points="165.83,773.83 168.78,779.26 162.89,779.26" fill="#00b400" stroke="none" stroke-width="0"/>
<polygon points="194.85,763.37 197.8,768.79 191.91,768.79" fill="#00b400" stroke="none" stroke-width="0"/>
<polygon points="223.88,757.45 226.82,762.88 220.93,762.88" fill="#00b400" stroke="none" stroke-width="0"/>
<polygon points="252.9,746.99 255.84,752.41 249.95,752.41" fill="#00b400" stroke="none" stroke-width="0"/>
<line x1="144.07" y1="768.63" x2="144.07" y2="770.9" stroke="#000" stroke-width="0.9"/>
<line x1="141.57" y1="768.63" x2="146.57" y2="768.63" stroke="#000" stroke-width="0.9"/>
<line x1="141.57" y1="770.9" x2="146.57" y2="770.9" stroke="#000" stroke-width="0.9"/>
<line x1="165.83" y1="754.98" x2="165.83" y2="760.89" stroke="#000" stroke-width="0.9"/>
<line x1="163.33" y1="754.98" x2="168.33" y2="754.98" stroke="#000" stroke-width="0.9"/>
<line x1="163.33" y1="760.89" x2="168.33" y2="760.89" stroke="#000" stroke-width="0.9"/>
<line x1="194.85" y1="742.92" x2="194.85" y2="752.02" stroke="#000" stroke-width="0.9"/>
<line x1="192.35" y1="742.92" x2="197.35" y2="742.92" stroke="#000" stroke-width="0.9"/>
<line x1="192.35" y1="752.02" x2="197.35" y2="752.02" stroke="#000" stroke-width="0.9"/>
<line x1="223.88" y1="724.49" x2="223.88" y2="735.19" stroke="#000" stroke-width="0.9"/>
<line x1="221.38" y1="724.49" x2="226.38" y2="724.49" stroke="#000" stroke-width="0.9"/>
<line x1="221.38" y1="735.19" x2="226.38" y2="735.19" stroke="#000" stroke-width="0.9"/>
<line x1="252.9" y1="705.04" x2="252.9" y2="718.01" stroke="#000" stroke-width="0.9"/>
<line x1="250.4" y1="705.04" x2="255.4" y2="705.04" stroke="#000" stroke-width="0.9"/>
<line x1="250.4" y1="718.01" x2="255.4" y2="718.01" stroke="#000" stroke-width="0.9"/>
<polyline points="42.5,799 64.27,795.47 93.28,788.31 115.05,782.05 144.07,769.77 165.83,757.94 194.85,747.47 223.88,729.84 252.9,711.53" fill="none" stroke="#000" stroke-width="1.05"/>
<circle cx="42.5" cy="799" r="2.38" fill="#000" stroke="none" stroke-width="0"/>
<circle cx="64.27" cy="795.47" r="2.38" fill="#000" stroke="none" stroke-width="0"/>
<circle cx="93.28" cy="788.31" r="2.38" fill="#000" stroke="none" stroke-width="0"/>
<circle cx="115.05" cy="782.05" r="2.38" fill="#000" stroke="none" stroke-width="0"/>
<circle cx="144.07" cy="769.77" r="2.38" fill="#000" stroke="none" stroke-width="0"/>
<circle cx="165.83" cy="757.94" r="2.38" fill="#000" stroke="none" stroke-width="0"/>
<circle cx="194.85" cy="747.47" r="2.38" fill="#000" stroke="none" stroke-width="0"/>
<circle cx="223.88" cy="729.84" r="2.38" fill="#000" stroke="none" stroke-width="0"/>
<circle cx="252.9" cy="711.53" r="2.38" fill="#000" stroke="none" stroke-width="0"/>
<text x="147.4" y="687.94" font-size="7.1" text-anchor="middle">MCF7</text>
<text x="151.3" y="846.92" font-size="7.6" text-anchor="middle">Day</text>
<text x="8.7" y="756.5" font-size="7.83" text-anchor="middle" transform="rotate(-90 8.7 753.7)">Mean Tumor Volume (mm³)</text>
<text x="258.3" y="738.38" font-size="7.2" letter-spacing="1.1">%TGI</text>
<text x="263.8" y="753.58" font-size="7.2">44<tspan font-size="3.96" dy="-2.4">ns</tspan></text>
<text x="263.8" y="792.08" font-size="7.2">88 ***</text>
<text x="261.7" y="808.88" font-size="7.2">108 ****</text>
<line x1="304.6" y1="728.8" x2="313.8" y2="728.8" stroke="#000" stroke-width="1.05"/>
<circle cx="309.2" cy="728.8" r="2.48" fill="#000" stroke="none" stroke-width="0"/>
<text x="320.2" y="731.62" font-size="7.88">Vehicle po, qdx29</text>
<line x1="304.6" y1="744.8" x2="313.8" y2="744.8" stroke="#00b400" stroke-width="1.05"/>
<polygon points="309.2,741.95 311.91,746.94 306.49,746.94" fill="#00b400" stroke="none" stroke-width="0"/>
<text x="320.2" y="747.62" font-size="7.88">Alpelisib 25 mg/kg po qdx5on, 2off (×4)</text>
<line x1="304.6" y1="760.2" x2="313.8" y2="760.2" stroke="#ff0000" stroke-width="1.05"/>
<rect x="306.72" y="757.72" width="4.97" height="4.97" fill="#ff0000" stroke="none" stroke-width="0"/>
<text x="320.2" y="763.02" font-size="7.88">Vepdegestrant 30 mg/kg po qdx5on, 2off (×4)</text>
<line x1="304.6" y1="775.6" x2="313.8" y2="775.6" stroke="#ff0000" stroke-width="1.05"/>
<rect x="306.99" y="773.39" width="4.42" height="4.42" fill="#fff" stroke="#ff0000" stroke-width="1"/>
<line x1="304.6" y1="775.6" x2="313.8" y2="775.6" stroke="#ff0000" stroke-width="0.8"/>
<text x="320.2" y="778.42" font-size="7.88">Vepdegestrant + Alpelisib</text>
</svg>
</body>
</html>
